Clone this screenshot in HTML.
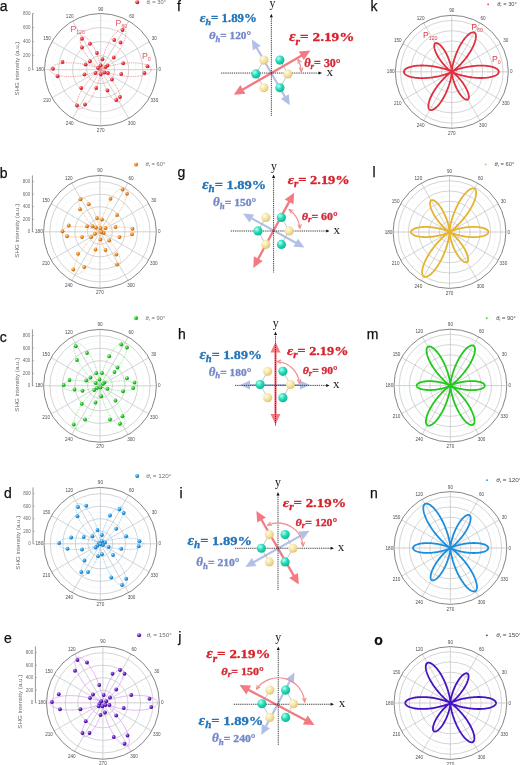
<!DOCTYPE html>
<html lang="en">
<head>
<meta charset="utf-8">
<title>Strain-dependent SHG polar plots</title>
<style>
html,body{margin:0;padding:0;background:#fff;}
body{width:520px;height:765px;overflow:hidden;}
svg{display:block;}
text{white-space:pre;}
</style>
</head>
<body>
<svg width="520" height="765" viewBox="0 0 520 765">
<defs>
<radialGradient id="ga" cx="0.36" cy="0.32" r="0.75"><stop offset="0" stop-color="#ffb0b0"/><stop offset="0.45" stop-color="#e63a40"/><stop offset="1" stop-color="#b81822"/></radialGradient>
<radialGradient id="gb" cx="0.36" cy="0.32" r="0.75"><stop offset="0" stop-color="#ffd9a8"/><stop offset="0.45" stop-color="#f08c28"/><stop offset="1" stop-color="#a85c10"/></radialGradient>
<radialGradient id="gc" cx="0.36" cy="0.32" r="0.75"><stop offset="0" stop-color="#b8ffb0"/><stop offset="0.45" stop-color="#2ac82a"/><stop offset="1" stop-color="#128a16"/></radialGradient>
<radialGradient id="gd" cx="0.36" cy="0.32" r="0.75"><stop offset="0" stop-color="#b4e2ff"/><stop offset="0.45" stop-color="#2a9ae2"/><stop offset="1" stop-color="#1468ac"/></radialGradient>
<radialGradient id="ge" cx="0.36" cy="0.32" r="0.75"><stop offset="0" stop-color="#c8a2ff"/><stop offset="0.45" stop-color="#6c22cc"/><stop offset="1" stop-color="#2a0878"/></radialGradient>
<radialGradient id="gT" cx="0.36" cy="0.32" r="0.8"><stop offset="0" stop-color="#b8fff0"/><stop offset="0.45" stop-color="#22dcb8"/><stop offset="1" stop-color="#0ea890"/></radialGradient>
<radialGradient id="gK" cx="0.36" cy="0.32" r="0.8"><stop offset="0" stop-color="#fffbe6"/><stop offset="0.5" stop-color="#f4e2a0"/><stop offset="1" stop-color="#d8bc70"/></radialGradient>
</defs>
<rect x="0" y="0" width="520" height="765" fill="#ffffff"/>
<g id="panel-a">
<circle cx="100.7" cy="69.7" r="7.03" fill="none" stroke="#d4e6f6" stroke-width="0.5" stroke-dasharray="1 0.7"/>
<circle cx="100.7" cy="69.7" r="14.05" fill="none" stroke="#bdbdbd" stroke-width="0.65"/>
<circle cx="100.7" cy="69.7" r="21.07" fill="none" stroke="#d4e6f6" stroke-width="0.5" stroke-dasharray="1 0.7"/>
<circle cx="100.7" cy="69.7" r="28.1" fill="none" stroke="#bdbdbd" stroke-width="0.65"/>
<circle cx="100.7" cy="69.7" r="35.12" fill="none" stroke="#d4e6f6" stroke-width="0.5" stroke-dasharray="1 0.7"/>
<circle cx="100.7" cy="69.7" r="42.15" fill="none" stroke="#bdbdbd" stroke-width="0.65"/>
<circle cx="100.7" cy="69.7" r="49.17" fill="none" stroke="#d4e6f6" stroke-width="0.5" stroke-dasharray="1 0.7"/>
<line x1="100.7" y1="69.7" x2="156.9" y2="69.7" stroke="#bdbdbd" stroke-width="0.65"/>
<line x1="100.7" y1="69.7" x2="149.37" y2="41.6" stroke="#bdbdbd" stroke-width="0.65"/>
<line x1="100.7" y1="69.7" x2="128.8" y2="21.03" stroke="#bdbdbd" stroke-width="0.65"/>
<line x1="100.7" y1="69.7" x2="100.7" y2="13.5" stroke="#bdbdbd" stroke-width="0.65"/>
<line x1="100.7" y1="69.7" x2="72.6" y2="21.03" stroke="#bdbdbd" stroke-width="0.65"/>
<line x1="100.7" y1="69.7" x2="52.03" y2="41.6" stroke="#bdbdbd" stroke-width="0.65"/>
<line x1="100.7" y1="69.7" x2="44.5" y2="69.7" stroke="#bdbdbd" stroke-width="0.65"/>
<line x1="100.7" y1="69.7" x2="52.03" y2="97.8" stroke="#bdbdbd" stroke-width="0.65"/>
<line x1="100.7" y1="69.7" x2="72.6" y2="118.37" stroke="#bdbdbd" stroke-width="0.65"/>
<line x1="100.7" y1="69.7" x2="100.7" y2="125.9" stroke="#bdbdbd" stroke-width="0.65"/>
<line x1="100.7" y1="69.7" x2="128.8" y2="118.37" stroke="#bdbdbd" stroke-width="0.65"/>
<line x1="100.7" y1="69.7" x2="149.37" y2="97.8" stroke="#bdbdbd" stroke-width="0.65"/>
<line x1="100.7" y1="69.7" x2="156.9" y2="69.7" stroke="#f6c4c6" stroke-width="0.6" stroke-dasharray="1 1" opacity="0.6"/>
<line x1="100.7" y1="69.7" x2="128.8" y2="21.03" stroke="#f6c4c6" stroke-width="0.6" stroke-dasharray="1 1" opacity="0.6"/>
<line x1="100.7" y1="69.7" x2="72.6" y2="21.03" stroke="#f6c4c6" stroke-width="0.6" stroke-dasharray="1 1" opacity="0.6"/>
<line x1="100.7" y1="69.7" x2="44.5" y2="69.7" stroke="#f6c4c6" stroke-width="0.6" stroke-dasharray="1 1" opacity="0.6"/>
<line x1="100.7" y1="69.7" x2="72.6" y2="118.37" stroke="#f6c4c6" stroke-width="0.6" stroke-dasharray="1 1" opacity="0.6"/>
<line x1="100.7" y1="69.7" x2="128.8" y2="118.37" stroke="#f6c4c6" stroke-width="0.6" stroke-dasharray="1 1" opacity="0.6"/>
<line x1="100.7" y1="69.7" x2="149.37" y2="41.6" stroke="#d4e6f6" stroke-width="0.5" opacity="0.45"/>
<line x1="100.7" y1="69.7" x2="100.7" y2="13.5" stroke="#d4e6f6" stroke-width="0.5" opacity="0.45"/>
<line x1="100.7" y1="69.7" x2="52.03" y2="41.6" stroke="#d4e6f6" stroke-width="0.5" opacity="0.45"/>
<line x1="100.7" y1="69.7" x2="52.03" y2="97.8" stroke="#d4e6f6" stroke-width="0.5" opacity="0.45"/>
<line x1="100.7" y1="69.7" x2="100.7" y2="125.9" stroke="#d4e6f6" stroke-width="0.5" opacity="0.45"/>
<line x1="100.7" y1="69.7" x2="149.37" y2="97.8" stroke="#d4e6f6" stroke-width="0.5" opacity="0.45"/>
<circle cx="100.7" cy="69.7" r="56.2" fill="none" stroke="#868686" stroke-width="1"/>
<text x="159.9" y="71.36" font-family='"Liberation Sans", sans-serif' font-size="4.6" fill="#4c4c4c" text-anchor="middle">0</text>
<text x="154.39" y="40.36" font-family='"Liberation Sans", sans-serif' font-size="4.6" fill="#4c4c4c" text-anchor="middle">30</text>
<text x="131.7" y="17.66" font-family='"Liberation Sans", sans-serif' font-size="4.6" fill="#4c4c4c" text-anchor="middle">60</text>
<text x="100.7" y="10.56" font-family='"Liberation Sans", sans-serif' font-size="4.6" fill="#4c4c4c" text-anchor="middle">90</text>
<text x="69.7" y="17.66" font-family='"Liberation Sans", sans-serif' font-size="4.6" fill="#4c4c4c" text-anchor="middle">120</text>
<text x="47.01" y="40.36" font-family='"Liberation Sans", sans-serif' font-size="4.6" fill="#4c4c4c" text-anchor="middle">150</text>
<text x="39.9" y="71.36" font-family='"Liberation Sans", sans-serif' font-size="4.6" fill="#4c4c4c" text-anchor="middle">180</text>
<text x="47.01" y="102.36" font-family='"Liberation Sans", sans-serif' font-size="4.6" fill="#4c4c4c" text-anchor="middle">210</text>
<text x="69.7" y="125.05" font-family='"Liberation Sans", sans-serif' font-size="4.6" fill="#4c4c4c" text-anchor="middle">240</text>
<text x="100.7" y="132.16" font-family='"Liberation Sans", sans-serif' font-size="4.6" fill="#4c4c4c" text-anchor="middle">270</text>
<text x="131.7" y="125.05" font-family='"Liberation Sans", sans-serif' font-size="4.6" fill="#4c4c4c" text-anchor="middle">300</text>
<text x="154.39" y="102.36" font-family='"Liberation Sans", sans-serif' font-size="4.6" fill="#4c4c4c" text-anchor="middle">330</text>
<path d="M151.25 69.7 L151.1 68.82 L150.67 67.96 L149.95 67.12 L148.95 66.33 L147.68 65.59 L146.17 64.92 L144.43 64.33 L142.48 63.83 L140.34 63.42 L138.04 63.12 L135.6 62.92 L133.06 62.82 L130.45 62.83 L127.79 62.95 L125.11 63.16 L122.46 63.46 L119.85 63.85 L117.31 64.3 L114.88 64.82 L112.58 65.38 L110.43 65.97 L108.45 66.57 L106.68 67.16 L105.11 67.74 L103.77 68.27 L102.66 68.74 L101.8 69.14 L101.19 69.44 L100.82 69.63 L100.7 69.7 L100.81 69.63 L101.14 69.43 L101.67 69.07 L102.39 68.56 L103.29 67.89 L104.34 67.06 L105.53 66.06 L106.84 64.9 L108.25 63.59 L109.72 62.13 L111.25 60.53 L112.8 58.81 L114.35 56.97 L115.88 55.04 L117.36 53.04 L118.78 50.98 L120.11 48.89 L121.34 46.78 L122.44 44.69 L123.42 42.63 L124.24 40.63 L124.91 38.71 L125.41 36.9 L125.75 35.22 L125.92 33.69 L125.91 32.33 L125.73 31.15 L125.4 30.18 L124.9 29.42 L124.26 28.89 L123.48 28.6 L122.58 28.55 L121.57 28.74 L120.46 29.18 L119.28 29.86 L118.03 30.77 L116.75 31.9 L115.43 33.24 L114.11 34.78 L112.79 36.49 L111.49 38.36 L110.23 40.37 L109.02 42.49 L107.87 44.69 L106.8 46.94 L105.8 49.23 L104.9 51.52 L104.08 53.78 L103.37 55.98 L102.75 58.1 L102.22 60.11 L101.78 61.98 L101.44 63.69 L101.17 65.23 L100.98 66.56 L100.84 67.67 L100.76 68.55 L100.72 69.19 L100.7 69.57 L100.7 69.7 L100.7 69.59 L100.69 69.28 L100.65 68.76 L100.58 68.05 L100.48 67.14 L100.32 66.06 L100.1 64.81 L99.82 63.41 L99.46 61.89 L99.03 60.25 L98.53 58.53 L97.94 56.73 L97.28 54.89 L96.54 53.03 L95.73 51.17 L94.86 49.33 L93.92 47.54 L92.94 45.82 L91.91 44.18 L90.86 42.66 L89.78 41.26 L88.7 40.01 L87.63 38.92 L86.58 38 L85.57 37.26 L84.61 36.71 L83.71 36.35 L82.88 36.19 L82.15 36.23 L81.52 36.47 L80.99 36.9 L80.59 37.52 L80.31 38.31 L80.17 39.27 L80.17 40.38 L80.3 41.62 L80.57 42.99 L80.99 44.47 L81.53 46.03 L82.2 47.66 L82.99 49.33 L83.9 51.04 L84.9 52.75 L85.98 54.46 L87.13 56.13 L88.34 57.77 L89.59 59.34 L90.85 60.83 L92.11 62.23 L93.35 63.53 L94.55 64.72 L95.7 65.79 L96.76 66.73 L97.74 67.55 L98.59 68.23 L99.32 68.77 L99.91 69.19 L100.34 69.48 L100.61 69.65 L100.7 69.7 L100.58 69.63 L100.21 69.44 L99.6 69.14 L98.73 68.74 L97.62 68.27 L96.28 67.73 L94.71 67.16 L92.93 66.56 L90.95 65.96 L88.8 65.37 L86.49 64.81 L84.06 64.29 L81.52 63.84 L78.9 63.45 L76.24 63.15 L73.56 62.93 L70.89 62.82 L68.27 62.81 L65.73 62.9 L63.29 63.1 L60.98 63.41 L58.84 63.82 L56.88 64.32 L55.14 64.91 L53.62 65.58 L52.36 66.32 L51.36 67.11 L50.63 67.95 L50.2 68.82 L50.05 69.7 L50.2 70.58 L50.63 71.45 L51.36 72.29 L52.36 73.08 L53.62 73.82 L55.14 74.49 L56.88 75.08 L58.84 75.58 L60.98 75.99 L63.29 76.3 L65.73 76.5 L68.27 76.59 L70.89 76.58 L73.56 76.47 L76.24 76.25 L78.9 75.95 L81.52 75.56 L84.06 75.11 L86.49 74.59 L88.8 74.03 L90.95 73.44 L92.93 72.84 L94.71 72.24 L96.28 71.67 L97.62 71.13 L98.73 70.66 L99.6 70.26 L100.21 69.96 L100.58 69.77 L100.7 69.7 L100.59 69.76 L100.28 69.96 L99.77 70.3 L99.08 70.79 L98.23 71.43 L97.22 72.23 L96.08 73.18 L94.82 74.29 L93.48 75.55 L92.07 76.94 L90.61 78.47 L89.13 80.12 L87.64 81.88 L86.18 83.72 L84.76 85.64 L83.41 87.61 L82.13 89.61 L80.96 91.63 L79.9 93.63 L78.97 95.6 L78.18 97.51 L77.54 99.35 L77.05 101.08 L76.73 102.69 L76.57 104.15 L76.58 105.46 L76.75 106.58 L77.07 107.51 L77.55 108.24 L78.16 108.74 L78.9 109.02 L79.77 109.07 L80.73 108.88 L81.79 108.47 L82.92 107.82 L84.11 106.95 L85.35 105.87 L86.61 104.58 L87.87 103.11 L89.14 101.47 L90.38 99.68 L91.58 97.76 L92.74 95.74 L93.84 93.63 L94.87 91.47 L95.82 89.28 L96.68 87.1 L97.46 84.93 L98.15 82.83 L98.74 80.8 L99.25 78.88 L99.66 77.09 L99.99 75.45 L100.25 73.98 L100.44 72.71 L100.56 71.64 L100.64 70.8 L100.68 70.19 L100.7 69.82 L100.7 69.7 L100.7 69.8 L100.71 70.11 L100.75 70.61 L100.81 71.3 L100.92 72.18 L101.07 73.23 L101.28 74.43 L101.55 75.78 L101.9 77.26 L102.31 78.84 L102.8 80.51 L103.37 82.25 L104.01 84.03 L104.72 85.83 L105.51 87.63 L106.35 89.41 L107.26 91.15 L108.21 92.81 L109.2 94.39 L110.22 95.87 L111.26 97.22 L112.31 98.43 L113.35 99.49 L114.36 100.38 L115.34 101.1 L116.27 101.63 L117.14 101.97 L117.94 102.13 L118.65 102.09 L119.27 101.86 L119.77 101.44 L120.16 100.85 L120.43 100.08 L120.57 99.15 L120.57 98.08 L120.44 96.87 L120.18 95.55 L119.78 94.12 L119.25 92.61 L118.6 91.03 L117.83 89.41 L116.96 87.76 L115.99 86.1 L114.94 84.45 L113.83 82.83 L112.66 81.25 L111.45 79.73 L110.23 78.28 L109.01 76.93 L107.81 75.67 L106.65 74.52 L105.54 73.48 L104.51 72.57 L103.57 71.78 L102.74 71.13 L102.03 70.6 L101.46 70.19 L101.04 69.91 L100.79 69.75 L100.7 69.7 L100.82 69.77 L101.19 69.96 L101.8 70.26 L102.66 70.66 L103.77 71.13 L105.11 71.66 L106.68 72.24 L108.45 72.83 L110.43 73.43 L112.58 74.02 L114.88 74.58 L117.31 75.1 L119.85 75.55 L122.46 75.94 L125.11 76.24 L127.79 76.45 L130.45 76.57 L133.06 76.58 L135.6 76.48 L138.04 76.28 L140.34 75.98 L142.48 75.57 L144.43 75.07 L146.17 74.48 L147.68 73.81 L148.95 73.07 L149.95 72.28 L150.67 71.44 L151.1 70.58 L151.25 69.7Z" fill="none" stroke="#ea5a5e" stroke-width="0.7" stroke-dasharray="1 0.8" opacity="0.85"/>
<circle cx="147.5" cy="66.25" r="1.9" fill="url(#ga)"/>
<circle cx="144.5" cy="73" r="1.9" fill="url(#ga)"/>
<circle cx="123.25" cy="63.25" r="1.9" fill="url(#ga)"/>
<circle cx="121.25" cy="74" r="1.9" fill="url(#ga)"/>
<circle cx="107.5" cy="65.5" r="1.9" fill="url(#ga)"/>
<circle cx="108" cy="73" r="1.9" fill="url(#ga)"/>
<circle cx="100.75" cy="65.5" r="1.9" fill="url(#ga)"/>
<circle cx="98" cy="68" r="1.9" fill="url(#ga)"/>
<circle cx="105.5" cy="67" r="1.9" fill="url(#ga)"/>
<circle cx="95.5" cy="73" r="1.9" fill="url(#ga)"/>
<circle cx="100.75" cy="74.25" r="1.9" fill="url(#ga)"/>
<circle cx="104.5" cy="72.5" r="1.9" fill="url(#ga)"/>
<circle cx="122.5" cy="30" r="1.9" fill="url(#ga)"/>
<circle cx="120.5" cy="42.5" r="1.9" fill="url(#ga)"/>
<circle cx="114.25" cy="40" r="1.9" fill="url(#ga)"/>
<circle cx="113.75" cy="57.5" r="1.9" fill="url(#ga)"/>
<circle cx="102.5" cy="59.25" r="1.9" fill="url(#ga)"/>
<circle cx="82" cy="38.75" r="1.9" fill="url(#ga)"/>
<circle cx="82" cy="47.5" r="1.9" fill="url(#ga)"/>
<circle cx="90" cy="43.75" r="1.9" fill="url(#ga)"/>
<circle cx="97" cy="53" r="1.9" fill="url(#ga)"/>
<circle cx="90" cy="61.25" r="1.9" fill="url(#ga)"/>
<circle cx="53" cy="68.75" r="1.9" fill="url(#ga)"/>
<circle cx="57.5" cy="76.25" r="1.9" fill="url(#ga)"/>
<circle cx="62.5" cy="62" r="1.9" fill="url(#ga)"/>
<circle cx="85.5" cy="64.5" r="1.9" fill="url(#ga)"/>
<circle cx="84.5" cy="74.5" r="1.9" fill="url(#ga)"/>
<circle cx="77" cy="105.5" r="1.9" fill="url(#ga)"/>
<circle cx="85" cy="104.5" r="1.9" fill="url(#ga)"/>
<circle cx="81.25" cy="88" r="1.9" fill="url(#ga)"/>
<circle cx="96.25" cy="88" r="1.9" fill="url(#ga)"/>
<circle cx="116.25" cy="100" r="1.9" fill="url(#ga)"/>
<circle cx="120" cy="97" r="1.9" fill="url(#ga)"/>
<circle cx="107.5" cy="90.5" r="1.9" fill="url(#ga)"/>
<circle cx="112" cy="79.5" r="1.9" fill="url(#ga)"/>
<line x1="32.6" y1="13.5" x2="32.6" y2="70" stroke="#8a8a8a" stroke-width="0.9"/>
<line x1="32.6" y1="69.7" x2="34.2" y2="69.7" stroke="#8a8a8a" stroke-width="0.6"/>
<text x="30.4" y="71.3" font-family='"Liberation Sans", sans-serif' font-size="4.5" fill="#6a6a6a" text-anchor="end">0</text>
<line x1="32.6" y1="55.65" x2="34.2" y2="55.65" stroke="#8a8a8a" stroke-width="0.6"/>
<text x="30.4" y="57.25" font-family='"Liberation Sans", sans-serif' font-size="4.5" fill="#6a6a6a" text-anchor="end">200</text>
<line x1="32.6" y1="41.6" x2="34.2" y2="41.6" stroke="#8a8a8a" stroke-width="0.6"/>
<text x="30.4" y="43.2" font-family='"Liberation Sans", sans-serif' font-size="4.5" fill="#6a6a6a" text-anchor="end">400</text>
<line x1="32.6" y1="27.55" x2="34.2" y2="27.55" stroke="#8a8a8a" stroke-width="0.6"/>
<text x="30.4" y="29.15" font-family='"Liberation Sans", sans-serif' font-size="4.5" fill="#6a6a6a" text-anchor="end">600</text>
<line x1="32.6" y1="13.5" x2="34.2" y2="13.5" stroke="#8a8a8a" stroke-width="0.6"/>
<text x="30.4" y="15.1" font-family='"Liberation Sans", sans-serif' font-size="4.5" fill="#6a6a6a" text-anchor="end">800</text>
<text transform="translate(19.2 68.58) rotate(-90)" font-family='"Liberation Sans", sans-serif' font-size="5.8" fill="#6a6a6a" text-anchor="middle" textLength="54" lengthAdjust="spacingAndGlyphs">SHG intensity (a.u.)</text>
<circle cx="137.3" cy="2.2" r="2" fill="url(#ga)"/>
<text x="146.4" y="4.18" font-family='"Liberation Sans", sans-serif' font-size="5.5" fill="#707070" textLength="19.6" lengthAdjust="spacingAndGlyphs"><tspan font-style="italic">θ</tspan><tspan font-size="3.3" dy="1">r</tspan><tspan dy="-1"> = 30°</tspan></text>
<text x="-0.3" y="11" font-family='"Liberation Sans", sans-serif' font-size="14" fill="#111" stroke="#111" stroke-width="0.25">a</text>
</g>
<g id="panel-b">
<circle cx="99.9" cy="231.8" r="6.27" fill="none" stroke="#d4e6f6" stroke-width="0.5" stroke-dasharray="1 0.7"/>
<circle cx="99.9" cy="231.8" r="12.53" fill="none" stroke="#bdbdbd" stroke-width="0.65"/>
<circle cx="99.9" cy="231.8" r="18.8" fill="none" stroke="#d4e6f6" stroke-width="0.5" stroke-dasharray="1 0.7"/>
<circle cx="99.9" cy="231.8" r="25.07" fill="none" stroke="#bdbdbd" stroke-width="0.65"/>
<circle cx="99.9" cy="231.8" r="31.33" fill="none" stroke="#d4e6f6" stroke-width="0.5" stroke-dasharray="1 0.7"/>
<circle cx="99.9" cy="231.8" r="37.6" fill="none" stroke="#bdbdbd" stroke-width="0.65"/>
<circle cx="99.9" cy="231.8" r="43.87" fill="none" stroke="#d4e6f6" stroke-width="0.5" stroke-dasharray="1 0.7"/>
<circle cx="99.9" cy="231.8" r="50.13" fill="none" stroke="#bdbdbd" stroke-width="0.65"/>
<line x1="99.9" y1="231.8" x2="156.3" y2="231.8" stroke="#bdbdbd" stroke-width="0.65"/>
<line x1="99.9" y1="231.8" x2="148.74" y2="203.6" stroke="#bdbdbd" stroke-width="0.65"/>
<line x1="99.9" y1="231.8" x2="128.1" y2="182.96" stroke="#bdbdbd" stroke-width="0.65"/>
<line x1="99.9" y1="231.8" x2="99.9" y2="175.4" stroke="#bdbdbd" stroke-width="0.65"/>
<line x1="99.9" y1="231.8" x2="71.7" y2="182.96" stroke="#bdbdbd" stroke-width="0.65"/>
<line x1="99.9" y1="231.8" x2="51.06" y2="203.6" stroke="#bdbdbd" stroke-width="0.65"/>
<line x1="99.9" y1="231.8" x2="43.5" y2="231.8" stroke="#bdbdbd" stroke-width="0.65"/>
<line x1="99.9" y1="231.8" x2="51.06" y2="260" stroke="#bdbdbd" stroke-width="0.65"/>
<line x1="99.9" y1="231.8" x2="71.7" y2="280.64" stroke="#bdbdbd" stroke-width="0.65"/>
<line x1="99.9" y1="231.8" x2="99.9" y2="288.2" stroke="#bdbdbd" stroke-width="0.65"/>
<line x1="99.9" y1="231.8" x2="128.1" y2="280.64" stroke="#bdbdbd" stroke-width="0.65"/>
<line x1="99.9" y1="231.8" x2="148.74" y2="260" stroke="#bdbdbd" stroke-width="0.65"/>
<line x1="99.9" y1="231.8" x2="156.3" y2="231.8" stroke="#f9dcbc" stroke-width="0.6" stroke-dasharray="1 1" opacity="0.6"/>
<line x1="99.9" y1="231.8" x2="128.1" y2="182.96" stroke="#f9dcbc" stroke-width="0.6" stroke-dasharray="1 1" opacity="0.6"/>
<line x1="99.9" y1="231.8" x2="71.7" y2="182.96" stroke="#f9dcbc" stroke-width="0.6" stroke-dasharray="1 1" opacity="0.6"/>
<line x1="99.9" y1="231.8" x2="43.5" y2="231.8" stroke="#f9dcbc" stroke-width="0.6" stroke-dasharray="1 1" opacity="0.6"/>
<line x1="99.9" y1="231.8" x2="71.7" y2="280.64" stroke="#f9dcbc" stroke-width="0.6" stroke-dasharray="1 1" opacity="0.6"/>
<line x1="99.9" y1="231.8" x2="128.1" y2="280.64" stroke="#f9dcbc" stroke-width="0.6" stroke-dasharray="1 1" opacity="0.6"/>
<line x1="99.9" y1="231.8" x2="148.74" y2="203.6" stroke="#d4e6f6" stroke-width="0.5" opacity="0.45"/>
<line x1="99.9" y1="231.8" x2="99.9" y2="175.4" stroke="#d4e6f6" stroke-width="0.5" opacity="0.45"/>
<line x1="99.9" y1="231.8" x2="51.06" y2="203.6" stroke="#d4e6f6" stroke-width="0.5" opacity="0.45"/>
<line x1="99.9" y1="231.8" x2="51.06" y2="260" stroke="#d4e6f6" stroke-width="0.5" opacity="0.45"/>
<line x1="99.9" y1="231.8" x2="99.9" y2="288.2" stroke="#d4e6f6" stroke-width="0.5" opacity="0.45"/>
<line x1="99.9" y1="231.8" x2="148.74" y2="260" stroke="#d4e6f6" stroke-width="0.5" opacity="0.45"/>
<circle cx="99.9" cy="231.8" r="56.4" fill="none" stroke="#868686" stroke-width="1"/>
<text x="159.3" y="233.46" font-family='"Liberation Sans", sans-serif' font-size="4.6" fill="#4c4c4c" text-anchor="middle">0</text>
<text x="153.77" y="202.36" font-family='"Liberation Sans", sans-serif' font-size="4.6" fill="#4c4c4c" text-anchor="middle">30</text>
<text x="131" y="179.59" font-family='"Liberation Sans", sans-serif' font-size="4.6" fill="#4c4c4c" text-anchor="middle">60</text>
<text x="99.9" y="172.46" font-family='"Liberation Sans", sans-serif' font-size="4.6" fill="#4c4c4c" text-anchor="middle">90</text>
<text x="68.8" y="179.59" font-family='"Liberation Sans", sans-serif' font-size="4.6" fill="#4c4c4c" text-anchor="middle">120</text>
<text x="46.03" y="202.36" font-family='"Liberation Sans", sans-serif' font-size="4.6" fill="#4c4c4c" text-anchor="middle">150</text>
<text x="38.9" y="233.46" font-family='"Liberation Sans", sans-serif' font-size="4.6" fill="#4c4c4c" text-anchor="middle">180</text>
<text x="46.03" y="264.56" font-family='"Liberation Sans", sans-serif' font-size="4.6" fill="#4c4c4c" text-anchor="middle">210</text>
<text x="68.8" y="287.32" font-family='"Liberation Sans", sans-serif' font-size="4.6" fill="#4c4c4c" text-anchor="middle">240</text>
<text x="99.9" y="294.46" font-family='"Liberation Sans", sans-serif' font-size="4.6" fill="#4c4c4c" text-anchor="middle">270</text>
<text x="131" y="287.32" font-family='"Liberation Sans", sans-serif' font-size="4.6" fill="#4c4c4c" text-anchor="middle">300</text>
<text x="153.77" y="264.56" font-family='"Liberation Sans", sans-serif' font-size="4.6" fill="#4c4c4c" text-anchor="middle">330</text>
<path d="M135 231.8 L134.9 231.19 L134.6 230.59 L134.09 230.01 L133.4 229.46 L132.52 228.95 L131.47 228.48 L130.26 228.07 L128.91 227.72 L127.42 227.44 L125.83 227.23 L124.13 227.09 L122.37 227.02 L120.56 227.03 L118.71 227.11 L116.85 227.26 L115.01 227.47 L113.19 227.74 L111.43 228.05 L109.74 228.41 L108.15 228.8 L106.65 229.21 L105.28 229.62 L104.05 230.04 L102.96 230.44 L102.03 230.81 L101.26 231.13 L100.67 231.41 L100.24 231.62 L99.98 231.75 L99.9 231.8 L100.02 231.73 L100.37 231.51 L100.94 231.12 L101.72 230.57 L102.68 229.85 L103.82 228.95 L105.1 227.88 L106.51 226.63 L108.03 225.22 L109.61 223.65 L111.26 221.93 L112.92 220.07 L114.59 218.1 L116.24 216.02 L117.83 213.87 L119.36 211.65 L120.79 209.39 L122.12 207.13 L123.31 204.87 L124.35 202.66 L125.24 200.5 L125.96 198.44 L126.51 196.49 L126.87 194.68 L127.05 193.03 L127.04 191.56 L126.85 190.3 L126.49 189.25 L125.95 188.44 L125.26 187.87 L124.43 187.55 L123.45 187.5 L122.37 187.71 L121.18 188.18 L119.9 188.91 L118.56 189.88 L117.18 191.1 L115.76 192.55 L114.33 194.2 L112.91 196.05 L111.52 198.06 L110.16 200.22 L108.86 202.5 L107.62 204.87 L106.46 207.3 L105.39 209.76 L104.42 212.22 L103.54 214.66 L102.77 217.03 L102.1 219.31 L101.54 221.47 L101.07 223.49 L100.69 225.33 L100.41 226.98 L100.2 228.41 L100.05 229.61 L99.96 230.56 L99.92 231.25 L99.9 231.66 L99.9 231.8 L99.9 231.69 L99.88 231.37 L99.85 230.83 L99.78 230.1 L99.67 229.16 L99.51 228.05 L99.28 226.76 L98.99 225.32 L98.63 223.75 L98.18 222.07 L97.66 220.29 L97.06 218.44 L96.38 216.55 L95.62 214.63 L94.78 212.71 L93.88 210.82 L92.92 208.97 L91.91 207.2 L90.85 205.51 L89.76 203.94 L88.65 202.5 L87.54 201.21 L86.44 200.09 L85.36 199.14 L84.31 198.38 L83.32 197.81 L82.39 197.44 L81.55 197.28 L80.79 197.32 L80.14 197.57 L79.6 198.01 L79.18 198.65 L78.9 199.46 L78.75 200.45 L78.75 201.59 L78.89 202.88 L79.17 204.29 L79.59 205.81 L80.15 207.41 L80.84 209.09 L81.66 210.82 L82.59 212.57 L83.62 214.34 L84.74 216.1 L85.93 217.83 L87.17 219.51 L88.45 221.12 L89.75 222.66 L91.05 224.11 L92.33 225.45 L93.57 226.67 L94.75 227.77 L95.85 228.74 L96.85 229.58 L97.73 230.28 L98.48 230.84 L99.09 231.27 L99.53 231.57 L99.81 231.74 L99.9 231.8 L99.81 231.75 L99.53 231.6 L99.06 231.37 L98.41 231.07 L97.57 230.71 L96.55 230.31 L95.36 229.87 L94.01 229.42 L92.51 228.96 L90.88 228.52 L89.13 228.09 L87.28 227.7 L85.36 227.35 L83.37 227.06 L81.35 226.83 L79.32 226.67 L77.3 226.58 L75.32 226.57 L73.39 226.65 L71.54 226.8 L69.79 227.03 L68.16 227.34 L66.68 227.72 L65.36 228.17 L64.21 228.68 L63.25 229.24 L62.49 229.84 L61.94 230.47 L61.61 231.13 L61.5 231.8 L61.61 232.47 L61.94 233.13 L62.49 233.76 L63.25 234.36 L64.21 234.92 L65.36 235.43 L66.68 235.88 L68.16 236.26 L69.79 236.57 L71.54 236.8 L73.39 236.95 L75.32 237.03 L77.3 237.02 L79.32 236.93 L81.35 236.77 L83.37 236.54 L85.36 236.25 L87.28 235.9 L89.13 235.51 L90.88 235.08 L92.51 234.64 L94.01 234.18 L95.36 233.73 L96.55 233.29 L97.57 232.89 L98.41 232.53 L99.06 232.23 L99.53 232 L99.81 231.85 L99.9 231.8 L99.79 231.87 L99.45 232.08 L98.91 232.44 L98.17 232.97 L97.25 233.66 L96.16 234.52 L94.94 235.54 L93.59 236.73 L92.15 238.07 L90.64 239.57 L89.07 241.21 L87.48 242.98 L85.89 244.87 L84.32 246.85 L82.8 248.9 L81.34 251.02 L79.98 253.17 L78.71 255.33 L77.58 257.48 L76.58 259.59 L75.73 261.64 L75.05 263.61 L74.53 265.47 L74.18 267.2 L74.01 268.77 L74.02 270.17 L74.2 271.38 L74.55 272.37 L75.05 273.15 L75.71 273.69 L76.51 273.99 L77.44 274.04 L78.48 273.85 L79.61 273.4 L80.83 272.7 L82.1 271.77 L83.43 270.61 L84.78 269.23 L86.14 267.65 L87.49 265.89 L88.82 263.97 L90.12 261.91 L91.36 259.74 L92.54 257.48 L93.64 255.16 L94.66 252.82 L95.59 250.47 L96.43 248.15 L97.16 245.89 L97.8 243.71 L98.34 241.65 L98.79 239.72 L99.14 237.97 L99.42 236.39 L99.62 235.03 L99.75 233.89 L99.84 232.98 L99.88 232.33 L99.9 231.93 L99.9 231.8 L99.9 231.91 L99.91 232.22 L99.95 232.74 L100.02 233.46 L100.12 234.37 L100.28 235.45 L100.5 236.7 L100.79 238.1 L101.14 239.63 L101.57 241.27 L102.08 243 L102.66 244.8 L103.33 246.65 L104.07 248.51 L104.88 250.38 L105.76 252.22 L106.69 254.02 L107.68 255.75 L108.71 257.39 L109.77 258.91 L110.85 260.31 L111.93 261.57 L113 262.67 L114.05 263.59 L115.07 264.33 L116.04 264.88 L116.94 265.24 L117.76 265.4 L118.5 265.36 L119.14 265.12 L119.66 264.69 L120.06 264.07 L120.34 263.28 L120.48 262.32 L120.49 261.2 L120.35 259.95 L120.08 258.58 L119.67 257.1 L119.12 255.54 L118.45 253.9 L117.65 252.22 L116.75 250.51 L115.75 248.79 L114.66 247.08 L113.5 245.4 L112.29 243.77 L111.04 242.19 L109.78 240.69 L108.51 239.29 L107.27 237.98 L106.06 236.79 L104.92 235.72 L103.85 234.77 L102.87 233.96 L102.01 233.28 L101.28 232.73 L100.69 232.31 L100.26 232.02 L99.99 231.85 L99.9 231.8 L99.98 231.85 L100.24 231.98 L100.67 232.19 L101.26 232.47 L102.03 232.79 L102.96 233.16 L104.05 233.56 L105.28 233.98 L106.65 234.39 L108.15 234.8 L109.74 235.19 L111.43 235.55 L113.19 235.86 L115.01 236.13 L116.85 236.34 L118.71 236.49 L120.56 236.57 L122.37 236.58 L124.13 236.51 L125.83 236.37 L127.42 236.16 L128.91 235.88 L130.26 235.53 L131.47 235.12 L132.52 234.65 L133.4 234.14 L134.09 233.59 L134.6 233.01 L134.9 232.41 L135 231.8Z" fill="none" stroke="#f2a04a" stroke-width="0.7" stroke-dasharray="1 0.8" opacity="0.85"/>
<circle cx="132.5" cy="228.75" r="1.9" fill="url(#gb)"/>
<circle cx="132" cy="234.25" r="1.9" fill="url(#gb)"/>
<circle cx="115.5" cy="227" r="1.9" fill="url(#gb)"/>
<circle cx="119.5" cy="237" r="1.9" fill="url(#gb)"/>
<circle cx="105.5" cy="228" r="1.9" fill="url(#gb)"/>
<circle cx="109.25" cy="240.5" r="1.9" fill="url(#gb)"/>
<circle cx="100.5" cy="228" r="1.9" fill="url(#gb)"/>
<circle cx="96" cy="227.5" r="1.9" fill="url(#gb)"/>
<circle cx="92.5" cy="226.25" r="1.9" fill="url(#gb)"/>
<circle cx="95" cy="233.75" r="1.9" fill="url(#gb)"/>
<circle cx="91.25" cy="237" r="1.9" fill="url(#gb)"/>
<circle cx="100.5" cy="239.5" r="1.9" fill="url(#gb)"/>
<circle cx="103.75" cy="233" r="1.9" fill="url(#gb)"/>
<circle cx="101.5" cy="232" r="1.9" fill="url(#gb)"/>
<circle cx="122.5" cy="189.5" r="1.9" fill="url(#gb)"/>
<circle cx="127" cy="193.75" r="1.9" fill="url(#gb)"/>
<circle cx="110.5" cy="198.75" r="1.9" fill="url(#gb)"/>
<circle cx="117" cy="215" r="1.9" fill="url(#gb)"/>
<circle cx="102" cy="219.5" r="1.9" fill="url(#gb)"/>
<circle cx="97" cy="218" r="1.9" fill="url(#gb)"/>
<circle cx="80.5" cy="199.25" r="1.9" fill="url(#gb)"/>
<circle cx="80" cy="209.25" r="1.9" fill="url(#gb)"/>
<circle cx="88.75" cy="204.25" r="1.9" fill="url(#gb)"/>
<circle cx="62.5" cy="231.25" r="1.9" fill="url(#gb)"/>
<circle cx="67" cy="236.25" r="1.9" fill="url(#gb)"/>
<circle cx="68.75" cy="225.5" r="1.9" fill="url(#gb)"/>
<circle cx="82" cy="237" r="1.9" fill="url(#gb)"/>
<circle cx="87" cy="226.25" r="1.9" fill="url(#gb)"/>
<circle cx="73.25" cy="269.5" r="1.9" fill="url(#gb)"/>
<circle cx="84.25" cy="267" r="1.9" fill="url(#gb)"/>
<circle cx="78" cy="253.75" r="1.9" fill="url(#gb)"/>
<circle cx="95.5" cy="249.5" r="1.9" fill="url(#gb)"/>
<circle cx="117" cy="264.5" r="1.9" fill="url(#gb)"/>
<circle cx="116.25" cy="254.5" r="1.9" fill="url(#gb)"/>
<circle cx="105.5" cy="250" r="1.9" fill="url(#gb)"/>
<line x1="32.4" y1="175.4" x2="32.4" y2="232.1" stroke="#8a8a8a" stroke-width="0.9"/>
<line x1="32.4" y1="231.8" x2="34" y2="231.8" stroke="#8a8a8a" stroke-width="0.6"/>
<text x="30.2" y="233.4" font-family='"Liberation Sans", sans-serif' font-size="4.5" fill="#6a6a6a" text-anchor="end">0</text>
<line x1="32.4" y1="219.27" x2="34" y2="219.27" stroke="#8a8a8a" stroke-width="0.6"/>
<text x="30.2" y="220.87" font-family='"Liberation Sans", sans-serif' font-size="4.5" fill="#6a6a6a" text-anchor="end">200</text>
<line x1="32.4" y1="206.73" x2="34" y2="206.73" stroke="#8a8a8a" stroke-width="0.6"/>
<text x="30.2" y="208.33" font-family='"Liberation Sans", sans-serif' font-size="4.5" fill="#6a6a6a" text-anchor="end">400</text>
<line x1="32.4" y1="194.2" x2="34" y2="194.2" stroke="#8a8a8a" stroke-width="0.6"/>
<text x="30.2" y="195.8" font-family='"Liberation Sans", sans-serif' font-size="4.5" fill="#6a6a6a" text-anchor="end">600</text>
<line x1="32.4" y1="181.67" x2="34" y2="181.67" stroke="#8a8a8a" stroke-width="0.6"/>
<text x="30.2" y="183.27" font-family='"Liberation Sans", sans-serif' font-size="4.5" fill="#6a6a6a" text-anchor="end">800</text>
<text transform="translate(19 230.67) rotate(-90)" font-family='"Liberation Sans", sans-serif' font-size="5.8" fill="#6a6a6a" text-anchor="middle" textLength="54" lengthAdjust="spacingAndGlyphs">SHG intensity (a.u.)</text>
<circle cx="136.1" cy="164.5" r="2" fill="url(#gb)"/>
<text x="145.6" y="166.48" font-family='"Liberation Sans", sans-serif' font-size="5.5" fill="#707070" textLength="19.6" lengthAdjust="spacingAndGlyphs"><tspan font-style="italic">θ</tspan><tspan font-size="3.3" dy="1">r</tspan><tspan dy="-1"> = 60°</tspan></text>
<text x="-0.3" y="177.6" font-family='"Liberation Sans", sans-serif' font-size="14" fill="#111" stroke="#111" stroke-width="0.25">b</text>
</g>
<g id="panel-c">
<circle cx="100" cy="385.8" r="6.27" fill="none" stroke="#d4e6f6" stroke-width="0.5" stroke-dasharray="1 0.7"/>
<circle cx="100" cy="385.8" r="12.53" fill="none" stroke="#bdbdbd" stroke-width="0.65"/>
<circle cx="100" cy="385.8" r="18.8" fill="none" stroke="#d4e6f6" stroke-width="0.5" stroke-dasharray="1 0.7"/>
<circle cx="100" cy="385.8" r="25.07" fill="none" stroke="#bdbdbd" stroke-width="0.65"/>
<circle cx="100" cy="385.8" r="31.33" fill="none" stroke="#d4e6f6" stroke-width="0.5" stroke-dasharray="1 0.7"/>
<circle cx="100" cy="385.8" r="37.6" fill="none" stroke="#bdbdbd" stroke-width="0.65"/>
<circle cx="100" cy="385.8" r="43.87" fill="none" stroke="#d4e6f6" stroke-width="0.5" stroke-dasharray="1 0.7"/>
<circle cx="100" cy="385.8" r="50.13" fill="none" stroke="#bdbdbd" stroke-width="0.65"/>
<line x1="100" y1="385.8" x2="156.4" y2="385.8" stroke="#bdbdbd" stroke-width="0.65"/>
<line x1="100" y1="385.8" x2="148.84" y2="357.6" stroke="#bdbdbd" stroke-width="0.65"/>
<line x1="100" y1="385.8" x2="128.2" y2="336.96" stroke="#bdbdbd" stroke-width="0.65"/>
<line x1="100" y1="385.8" x2="100" y2="329.4" stroke="#bdbdbd" stroke-width="0.65"/>
<line x1="100" y1="385.8" x2="71.8" y2="336.96" stroke="#bdbdbd" stroke-width="0.65"/>
<line x1="100" y1="385.8" x2="51.16" y2="357.6" stroke="#bdbdbd" stroke-width="0.65"/>
<line x1="100" y1="385.8" x2="43.6" y2="385.8" stroke="#bdbdbd" stroke-width="0.65"/>
<line x1="100" y1="385.8" x2="51.16" y2="414" stroke="#bdbdbd" stroke-width="0.65"/>
<line x1="100" y1="385.8" x2="71.8" y2="434.64" stroke="#bdbdbd" stroke-width="0.65"/>
<line x1="100" y1="385.8" x2="100" y2="442.2" stroke="#bdbdbd" stroke-width="0.65"/>
<line x1="100" y1="385.8" x2="128.2" y2="434.64" stroke="#bdbdbd" stroke-width="0.65"/>
<line x1="100" y1="385.8" x2="148.84" y2="414" stroke="#bdbdbd" stroke-width="0.65"/>
<line x1="100" y1="385.8" x2="156.4" y2="385.8" stroke="#c4f0c2" stroke-width="0.6" stroke-dasharray="1 1" opacity="0.6"/>
<line x1="100" y1="385.8" x2="128.2" y2="336.96" stroke="#c4f0c2" stroke-width="0.6" stroke-dasharray="1 1" opacity="0.6"/>
<line x1="100" y1="385.8" x2="71.8" y2="336.96" stroke="#c4f0c2" stroke-width="0.6" stroke-dasharray="1 1" opacity="0.6"/>
<line x1="100" y1="385.8" x2="43.6" y2="385.8" stroke="#c4f0c2" stroke-width="0.6" stroke-dasharray="1 1" opacity="0.6"/>
<line x1="100" y1="385.8" x2="71.8" y2="434.64" stroke="#c4f0c2" stroke-width="0.6" stroke-dasharray="1 1" opacity="0.6"/>
<line x1="100" y1="385.8" x2="128.2" y2="434.64" stroke="#c4f0c2" stroke-width="0.6" stroke-dasharray="1 1" opacity="0.6"/>
<line x1="100" y1="385.8" x2="148.84" y2="357.6" stroke="#d4e6f6" stroke-width="0.5" opacity="0.45"/>
<line x1="100" y1="385.8" x2="100" y2="329.4" stroke="#d4e6f6" stroke-width="0.5" opacity="0.45"/>
<line x1="100" y1="385.8" x2="51.16" y2="357.6" stroke="#d4e6f6" stroke-width="0.5" opacity="0.45"/>
<line x1="100" y1="385.8" x2="51.16" y2="414" stroke="#d4e6f6" stroke-width="0.5" opacity="0.45"/>
<line x1="100" y1="385.8" x2="100" y2="442.2" stroke="#d4e6f6" stroke-width="0.5" opacity="0.45"/>
<line x1="100" y1="385.8" x2="148.84" y2="414" stroke="#d4e6f6" stroke-width="0.5" opacity="0.45"/>
<circle cx="100" cy="385.8" r="56.4" fill="none" stroke="#868686" stroke-width="1"/>
<text x="159.4" y="387.46" font-family='"Liberation Sans", sans-serif' font-size="4.6" fill="#4c4c4c" text-anchor="middle">0</text>
<text x="153.87" y="356.36" font-family='"Liberation Sans", sans-serif' font-size="4.6" fill="#4c4c4c" text-anchor="middle">30</text>
<text x="131.1" y="333.59" font-family='"Liberation Sans", sans-serif' font-size="4.6" fill="#4c4c4c" text-anchor="middle">60</text>
<text x="100" y="326.46" font-family='"Liberation Sans", sans-serif' font-size="4.6" fill="#4c4c4c" text-anchor="middle">90</text>
<text x="68.9" y="333.59" font-family='"Liberation Sans", sans-serif' font-size="4.6" fill="#4c4c4c" text-anchor="middle">120</text>
<text x="46.13" y="356.36" font-family='"Liberation Sans", sans-serif' font-size="4.6" fill="#4c4c4c" text-anchor="middle">150</text>
<text x="39" y="387.46" font-family='"Liberation Sans", sans-serif' font-size="4.6" fill="#4c4c4c" text-anchor="middle">180</text>
<text x="46.13" y="418.56" font-family='"Liberation Sans", sans-serif' font-size="4.6" fill="#4c4c4c" text-anchor="middle">210</text>
<text x="68.9" y="441.32" font-family='"Liberation Sans", sans-serif' font-size="4.6" fill="#4c4c4c" text-anchor="middle">240</text>
<text x="100" y="448.46" font-family='"Liberation Sans", sans-serif' font-size="4.6" fill="#4c4c4c" text-anchor="middle">270</text>
<text x="131.1" y="441.32" font-family='"Liberation Sans", sans-serif' font-size="4.6" fill="#4c4c4c" text-anchor="middle">300</text>
<text x="153.87" y="418.56" font-family='"Liberation Sans", sans-serif' font-size="4.6" fill="#4c4c4c" text-anchor="middle">330</text>
<path d="M136.25 385.8 L136.15 385.17 L135.83 384.55 L135.31 383.95 L134.6 383.38 L133.69 382.85 L132.61 382.37 L131.36 381.95 L129.96 381.59 L128.42 381.3 L126.77 381.08 L125.03 380.93 L123.21 380.87 L121.33 380.88 L119.42 380.96 L117.51 381.11 L115.6 381.33 L113.73 381.6 L111.91 381.93 L110.17 382.3 L108.52 382.7 L106.98 383.12 L105.56 383.55 L104.29 383.98 L103.16 384.39 L102.2 384.77 L101.41 385.11 L100.79 385.4 L100.35 385.61 L100.09 385.75 L100 385.8 L100.12 385.73 L100.46 385.51 L101.03 385.13 L101.79 384.59 L102.74 383.88 L103.86 382.99 L105.13 381.94 L106.52 380.71 L108.01 379.32 L109.57 377.77 L111.19 376.07 L112.84 374.24 L114.48 372.3 L116.1 370.25 L117.68 368.12 L119.18 365.94 L120.59 363.72 L121.89 361.48 L123.07 359.26 L124.1 357.08 L124.98 354.96 L125.69 352.92 L126.22 351 L126.58 349.22 L126.75 347.59 L126.75 346.15 L126.56 344.9 L126.2 343.87 L125.68 343.06 L125 342.5 L124.17 342.19 L123.21 342.14 L122.14 342.35 L120.97 342.81 L119.71 343.53 L118.39 344.49 L117.03 345.69 L115.63 347.12 L114.22 348.75 L112.82 350.57 L111.45 352.55 L110.11 354.68 L108.83 356.93 L107.61 359.26 L106.47 361.66 L105.42 364.08 L104.45 366.51 L103.59 368.91 L102.83 371.24 L102.17 373.49 L101.61 375.62 L101.15 377.61 L100.78 379.43 L100.5 381.05 L100.29 382.46 L100.15 383.64 L100.06 384.58 L100.02 385.25 L100 385.66 L100 385.8 L100 385.67 L99.98 385.26 L99.94 384.6 L99.85 383.68 L99.71 382.52 L99.51 381.13 L99.23 379.53 L98.87 377.74 L98.41 375.79 L97.86 373.69 L97.22 371.48 L96.47 369.18 L95.62 366.82 L94.67 364.43 L93.63 362.04 L92.51 359.68 L91.31 357.39 L90.05 355.18 L88.74 353.08 L87.38 351.13 L86 349.34 L84.62 347.73 L83.25 346.33 L81.9 345.15 L80.6 344.2 L79.37 343.5 L78.21 343.04 L77.16 342.84 L76.22 342.89 L75.4 343.2 L74.73 343.75 L74.22 344.54 L73.86 345.55 L73.68 346.78 L73.67 348.2 L73.85 349.8 L74.2 351.56 L74.72 353.45 L75.42 355.45 L76.28 357.54 L77.3 359.69 L78.46 361.87 L79.74 364.07 L81.13 366.26 L82.61 368.41 L84.16 370.5 L85.75 372.51 L87.37 374.43 L88.99 376.23 L90.58 377.89 L92.12 379.42 L93.59 380.79 L94.95 382 L96.2 383.04 L97.3 383.91 L98.24 384.61 L98.99 385.14 L99.54 385.52 L99.88 385.73 L100 385.8 L99.91 385.75 L99.63 385.61 L99.17 385.38 L98.52 385.08 L97.69 384.72 L96.69 384.32 L95.51 383.89 L94.17 383.45 L92.69 382.99 L91.07 382.55 L89.34 382.13 L87.51 381.74 L85.61 381.4 L83.65 381.11 L81.65 380.88 L79.64 380.72 L77.64 380.64 L75.67 380.63 L73.76 380.7 L71.93 380.85 L70.2 381.08 L68.6 381.39 L67.13 381.76 L65.82 382.21 L64.68 382.71 L63.73 383.26 L62.98 383.86 L62.44 384.49 L62.11 385.14 L62 385.8 L62.11 386.46 L62.44 387.11 L62.98 387.74 L63.73 388.34 L64.68 388.89 L65.82 389.39 L67.13 389.84 L68.6 390.21 L70.2 390.52 L71.93 390.75 L73.76 390.9 L75.67 390.97 L77.64 390.96 L79.64 390.88 L81.65 390.72 L83.65 390.49 L85.61 390.2 L87.51 389.86 L89.34 389.47 L91.07 389.05 L92.69 388.61 L94.17 388.15 L95.51 387.71 L96.69 387.28 L97.69 386.88 L98.52 386.52 L99.17 386.22 L99.63 385.99 L99.91 385.85 L100 385.8 L99.89 385.87 L99.55 386.08 L99 386.45 L98.25 386.98 L97.32 387.68 L96.22 388.55 L94.98 389.58 L93.62 390.78 L92.17 392.14 L90.63 393.66 L89.05 395.32 L87.44 397.11 L85.83 399.01 L84.25 401.01 L82.71 403.09 L81.24 405.23 L79.86 407.4 L78.58 409.59 L77.43 411.76 L76.42 413.9 L75.57 415.97 L74.87 417.96 L74.35 419.84 L74 421.59 L73.83 423.18 L73.83 424.59 L74.02 425.81 L74.37 426.82 L74.88 427.61 L75.55 428.15 L76.35 428.46 L77.29 428.51 L78.34 428.31 L79.49 427.86 L80.72 427.16 L82.01 426.21 L83.34 425.04 L84.71 423.64 L86.09 422.05 L87.45 420.27 L88.8 418.33 L90.11 416.24 L91.36 414.05 L92.56 411.76 L93.67 409.42 L94.7 407.05 L95.64 404.67 L96.49 402.33 L97.23 400.04 L97.88 397.84 L98.42 395.76 L98.87 393.81 L99.23 392.03 L99.51 390.44 L99.71 389.06 L99.85 387.91 L99.94 387 L99.98 386.33 L100 385.93 L100 385.8 L100 385.93 L100.02 386.31 L100.06 386.94 L100.14 387.81 L100.27 388.92 L100.47 390.24 L100.73 391.75 L101.08 393.45 L101.51 395.31 L102.03 397.3 L102.64 399.4 L103.36 401.58 L104.16 403.82 L105.06 406.09 L106.04 408.36 L107.11 410.6 L108.25 412.78 L109.45 414.87 L110.7 416.86 L111.98 418.72 L113.29 420.42 L114.6 421.94 L115.91 423.27 L117.18 424.39 L118.42 425.3 L119.59 425.97 L120.69 426.4 L121.69 426.59 L122.58 426.54 L123.35 426.25 L123.99 425.73 L124.48 424.98 L124.82 424.01 L124.99 422.85 L125 421.5 L124.83 419.98 L124.5 418.31 L124 416.52 L123.34 414.62 L122.52 412.63 L121.55 410.59 L120.46 408.52 L119.24 406.43 L117.92 404.35 L116.51 402.31 L115.04 400.33 L113.53 398.42 L111.99 396.6 L110.46 394.89 L108.94 393.31 L107.48 391.86 L106.09 390.56 L104.79 389.41 L103.61 388.42 L102.56 387.59 L101.67 386.93 L100.96 386.42 L100.43 386.07 L100.11 385.87 L100 385.8 L100.09 385.85 L100.35 385.99 L100.79 386.2 L101.41 386.49 L102.2 386.83 L103.16 387.21 L104.29 387.62 L105.56 388.05 L106.98 388.48 L108.52 388.9 L110.17 389.3 L111.91 389.67 L113.73 390 L115.6 390.27 L117.51 390.49 L119.42 390.64 L121.33 390.72 L123.21 390.73 L125.03 390.67 L126.77 390.52 L128.42 390.3 L129.96 390.01 L131.36 389.65 L132.61 389.23 L133.69 388.75 L134.6 388.22 L135.31 387.65 L135.83 387.05 L136.15 386.43 L136.25 385.8Z" fill="none" stroke="#58dc58" stroke-width="0.7" stroke-dasharray="1 0.8" opacity="0.85"/>
<circle cx="134.5" cy="382.5" r="1.9" fill="url(#gc)"/>
<circle cx="133.25" cy="388" r="1.9" fill="url(#gc)"/>
<circle cx="127" cy="378.25" r="1.9" fill="url(#gc)"/>
<circle cx="123" cy="391.25" r="1.9" fill="url(#gc)"/>
<circle cx="107.5" cy="388.75" r="1.9" fill="url(#gc)"/>
<circle cx="104.5" cy="382.5" r="1.9" fill="url(#gc)"/>
<circle cx="96.25" cy="373" r="1.9" fill="url(#gc)"/>
<circle cx="102" cy="373" r="1.9" fill="url(#gc)"/>
<circle cx="99.5" cy="379.5" r="1.9" fill="url(#gc)"/>
<circle cx="95.75" cy="383" r="1.9" fill="url(#gc)"/>
<circle cx="103" cy="383.75" r="1.9" fill="url(#gc)"/>
<circle cx="100.5" cy="387.5" r="1.9" fill="url(#gc)"/>
<circle cx="97" cy="388" r="1.9" fill="url(#gc)"/>
<circle cx="94.25" cy="390" r="1.9" fill="url(#gc)"/>
<circle cx="101.25" cy="396.25" r="1.9" fill="url(#gc)"/>
<circle cx="121.25" cy="344.5" r="1.9" fill="url(#gc)"/>
<circle cx="127" cy="347.5" r="1.9" fill="url(#gc)"/>
<circle cx="109.25" cy="356.25" r="1.9" fill="url(#gc)"/>
<circle cx="117.5" cy="367.5" r="1.9" fill="url(#gc)"/>
<circle cx="114.5" cy="372" r="1.9" fill="url(#gc)"/>
<circle cx="75.75" cy="346.25" r="1.9" fill="url(#gc)"/>
<circle cx="87" cy="353" r="1.9" fill="url(#gc)"/>
<circle cx="77" cy="360" r="1.9" fill="url(#gc)"/>
<circle cx="90.5" cy="377.5" r="1.9" fill="url(#gc)"/>
<circle cx="86.25" cy="380.5" r="1.9" fill="url(#gc)"/>
<circle cx="63.75" cy="385" r="1.9" fill="url(#gc)"/>
<circle cx="69.5" cy="380" r="1.9" fill="url(#gc)"/>
<circle cx="74.5" cy="389.5" r="1.9" fill="url(#gc)"/>
<circle cx="82.5" cy="390.75" r="1.9" fill="url(#gc)"/>
<circle cx="73.75" cy="424.5" r="1.9" fill="url(#gc)"/>
<circle cx="85" cy="419.5" r="1.9" fill="url(#gc)"/>
<circle cx="81.75" cy="403.75" r="1.9" fill="url(#gc)"/>
<circle cx="95.5" cy="402.5" r="1.9" fill="url(#gc)"/>
<circle cx="120" cy="423.75" r="1.9" fill="url(#gc)"/>
<circle cx="122.5" cy="416.25" r="1.9" fill="url(#gc)"/>
<circle cx="110" cy="419.5" r="1.9" fill="url(#gc)"/>
<circle cx="115.5" cy="400.5" r="1.9" fill="url(#gc)"/>
<line x1="32.4" y1="329.4" x2="32.4" y2="386.1" stroke="#8a8a8a" stroke-width="0.9"/>
<line x1="32.4" y1="385.8" x2="34" y2="385.8" stroke="#8a8a8a" stroke-width="0.6"/>
<text x="30.2" y="387.4" font-family='"Liberation Sans", sans-serif' font-size="4.5" fill="#6a6a6a" text-anchor="end">0</text>
<line x1="32.4" y1="373.27" x2="34" y2="373.27" stroke="#8a8a8a" stroke-width="0.6"/>
<text x="30.2" y="374.87" font-family='"Liberation Sans", sans-serif' font-size="4.5" fill="#6a6a6a" text-anchor="end">200</text>
<line x1="32.4" y1="360.73" x2="34" y2="360.73" stroke="#8a8a8a" stroke-width="0.6"/>
<text x="30.2" y="362.33" font-family='"Liberation Sans", sans-serif' font-size="4.5" fill="#6a6a6a" text-anchor="end">400</text>
<line x1="32.4" y1="348.2" x2="34" y2="348.2" stroke="#8a8a8a" stroke-width="0.6"/>
<text x="30.2" y="349.8" font-family='"Liberation Sans", sans-serif' font-size="4.5" fill="#6a6a6a" text-anchor="end">600</text>
<line x1="32.4" y1="335.67" x2="34" y2="335.67" stroke="#8a8a8a" stroke-width="0.6"/>
<text x="30.2" y="337.27" font-family='"Liberation Sans", sans-serif' font-size="4.5" fill="#6a6a6a" text-anchor="end">800</text>
<text transform="translate(19 384.67) rotate(-90)" font-family='"Liberation Sans", sans-serif' font-size="5.8" fill="#6a6a6a" text-anchor="middle" textLength="54" lengthAdjust="spacingAndGlyphs">SHG intensity (a.u.)</text>
<circle cx="136.1" cy="318" r="2" fill="url(#gc)"/>
<text x="145.6" y="319.98" font-family='"Liberation Sans", sans-serif' font-size="5.5" fill="#707070" textLength="19.6" lengthAdjust="spacingAndGlyphs"><tspan font-style="italic">θ</tspan><tspan font-size="3.3" dy="1">r</tspan><tspan dy="-1"> = 90°</tspan></text>
<text x="-0.3" y="341.5" font-family='"Liberation Sans", sans-serif' font-size="14" fill="#111" stroke="#111" stroke-width="0.25">c</text>
</g>
<g id="panel-d">
<circle cx="100.4" cy="543.8" r="6.27" fill="none" stroke="#d4e6f6" stroke-width="0.5" stroke-dasharray="1 0.7"/>
<circle cx="100.4" cy="543.8" r="12.53" fill="none" stroke="#bdbdbd" stroke-width="0.65"/>
<circle cx="100.4" cy="543.8" r="18.8" fill="none" stroke="#d4e6f6" stroke-width="0.5" stroke-dasharray="1 0.7"/>
<circle cx="100.4" cy="543.8" r="25.07" fill="none" stroke="#bdbdbd" stroke-width="0.65"/>
<circle cx="100.4" cy="543.8" r="31.33" fill="none" stroke="#d4e6f6" stroke-width="0.5" stroke-dasharray="1 0.7"/>
<circle cx="100.4" cy="543.8" r="37.6" fill="none" stroke="#bdbdbd" stroke-width="0.65"/>
<circle cx="100.4" cy="543.8" r="43.87" fill="none" stroke="#d4e6f6" stroke-width="0.5" stroke-dasharray="1 0.7"/>
<circle cx="100.4" cy="543.8" r="50.13" fill="none" stroke="#bdbdbd" stroke-width="0.65"/>
<line x1="100.4" y1="543.8" x2="156.8" y2="543.8" stroke="#bdbdbd" stroke-width="0.65"/>
<line x1="100.4" y1="543.8" x2="149.24" y2="515.6" stroke="#bdbdbd" stroke-width="0.65"/>
<line x1="100.4" y1="543.8" x2="128.6" y2="494.96" stroke="#bdbdbd" stroke-width="0.65"/>
<line x1="100.4" y1="543.8" x2="100.4" y2="487.4" stroke="#bdbdbd" stroke-width="0.65"/>
<line x1="100.4" y1="543.8" x2="72.2" y2="494.96" stroke="#bdbdbd" stroke-width="0.65"/>
<line x1="100.4" y1="543.8" x2="51.56" y2="515.6" stroke="#bdbdbd" stroke-width="0.65"/>
<line x1="100.4" y1="543.8" x2="44" y2="543.8" stroke="#bdbdbd" stroke-width="0.65"/>
<line x1="100.4" y1="543.8" x2="51.56" y2="572" stroke="#bdbdbd" stroke-width="0.65"/>
<line x1="100.4" y1="543.8" x2="72.2" y2="592.64" stroke="#bdbdbd" stroke-width="0.65"/>
<line x1="100.4" y1="543.8" x2="100.4" y2="600.2" stroke="#bdbdbd" stroke-width="0.65"/>
<line x1="100.4" y1="543.8" x2="128.6" y2="592.64" stroke="#bdbdbd" stroke-width="0.65"/>
<line x1="100.4" y1="543.8" x2="149.24" y2="572" stroke="#bdbdbd" stroke-width="0.65"/>
<line x1="100.4" y1="543.8" x2="156.8" y2="543.8" stroke="#bfe0f6" stroke-width="0.6" stroke-dasharray="1 1" opacity="0.6"/>
<line x1="100.4" y1="543.8" x2="128.6" y2="494.96" stroke="#bfe0f6" stroke-width="0.6" stroke-dasharray="1 1" opacity="0.6"/>
<line x1="100.4" y1="543.8" x2="72.2" y2="494.96" stroke="#bfe0f6" stroke-width="0.6" stroke-dasharray="1 1" opacity="0.6"/>
<line x1="100.4" y1="543.8" x2="44" y2="543.8" stroke="#bfe0f6" stroke-width="0.6" stroke-dasharray="1 1" opacity="0.6"/>
<line x1="100.4" y1="543.8" x2="72.2" y2="592.64" stroke="#bfe0f6" stroke-width="0.6" stroke-dasharray="1 1" opacity="0.6"/>
<line x1="100.4" y1="543.8" x2="128.6" y2="592.64" stroke="#bfe0f6" stroke-width="0.6" stroke-dasharray="1 1" opacity="0.6"/>
<line x1="100.4" y1="543.8" x2="149.24" y2="515.6" stroke="#d4e6f6" stroke-width="0.5" opacity="0.45"/>
<line x1="100.4" y1="543.8" x2="100.4" y2="487.4" stroke="#d4e6f6" stroke-width="0.5" opacity="0.45"/>
<line x1="100.4" y1="543.8" x2="51.56" y2="515.6" stroke="#d4e6f6" stroke-width="0.5" opacity="0.45"/>
<line x1="100.4" y1="543.8" x2="51.56" y2="572" stroke="#d4e6f6" stroke-width="0.5" opacity="0.45"/>
<line x1="100.4" y1="543.8" x2="100.4" y2="600.2" stroke="#d4e6f6" stroke-width="0.5" opacity="0.45"/>
<line x1="100.4" y1="543.8" x2="149.24" y2="572" stroke="#d4e6f6" stroke-width="0.5" opacity="0.45"/>
<circle cx="100.4" cy="543.8" r="56.4" fill="none" stroke="#868686" stroke-width="1"/>
<text x="159.8" y="545.46" font-family='"Liberation Sans", sans-serif' font-size="4.6" fill="#4c4c4c" text-anchor="middle">0</text>
<text x="154.27" y="514.36" font-family='"Liberation Sans", sans-serif' font-size="4.6" fill="#4c4c4c" text-anchor="middle">30</text>
<text x="131.5" y="491.59" font-family='"Liberation Sans", sans-serif' font-size="4.6" fill="#4c4c4c" text-anchor="middle">60</text>
<text x="100.4" y="484.46" font-family='"Liberation Sans", sans-serif' font-size="4.6" fill="#4c4c4c" text-anchor="middle">90</text>
<text x="69.3" y="491.59" font-family='"Liberation Sans", sans-serif' font-size="4.6" fill="#4c4c4c" text-anchor="middle">120</text>
<text x="46.53" y="514.36" font-family='"Liberation Sans", sans-serif' font-size="4.6" fill="#4c4c4c" text-anchor="middle">150</text>
<text x="39.4" y="545.46" font-family='"Liberation Sans", sans-serif' font-size="4.6" fill="#4c4c4c" text-anchor="middle">180</text>
<text x="46.53" y="576.56" font-family='"Liberation Sans", sans-serif' font-size="4.6" fill="#4c4c4c" text-anchor="middle">210</text>
<text x="69.3" y="599.32" font-family='"Liberation Sans", sans-serif' font-size="4.6" fill="#4c4c4c" text-anchor="middle">240</text>
<text x="100.4" y="606.46" font-family='"Liberation Sans", sans-serif' font-size="4.6" fill="#4c4c4c" text-anchor="middle">270</text>
<text x="131.5" y="599.32" font-family='"Liberation Sans", sans-serif' font-size="4.6" fill="#4c4c4c" text-anchor="middle">300</text>
<text x="154.27" y="576.56" font-family='"Liberation Sans", sans-serif' font-size="4.6" fill="#4c4c4c" text-anchor="middle">330</text>
<path d="M143 543.8 L142.88 543.06 L142.51 542.33 L141.9 541.63 L141.06 540.96 L140 540.34 L138.72 539.77 L137.25 539.28 L135.61 538.85 L133.8 538.51 L131.86 538.25 L129.81 538.08 L127.67 538 L125.47 538.01 L123.23 538.11 L120.97 538.29 L118.73 538.54 L116.53 538.87 L114.4 539.25 L112.35 539.69 L110.41 540.16 L108.6 540.65 L106.93 541.16 L105.44 541.66 L104.12 542.15 L102.99 542.59 L102.06 542.99 L101.33 543.33 L100.81 543.58 L100.5 543.74 L100.4 543.8 L100.5 543.74 L100.79 543.55 L101.27 543.23 L101.92 542.77 L102.73 542.17 L103.68 541.42 L104.76 540.52 L105.94 539.48 L107.2 538.29 L108.53 536.98 L109.91 535.54 L111.3 533.98 L112.7 532.33 L114.08 530.59 L115.41 528.79 L116.69 526.93 L117.89 525.05 L119 523.15 L119.99 521.26 L120.87 519.41 L121.61 517.6 L122.22 515.88 L122.67 514.24 L122.97 512.73 L123.12 511.35 L123.12 510.12 L122.96 509.06 L122.65 508.19 L122.21 507.5 L121.63 507.03 L120.93 506.77 L120.12 506.72 L119.2 506.89 L118.21 507.29 L117.14 507.9 L116.02 508.71 L114.86 509.73 L113.67 510.94 L112.48 512.33 L111.29 513.88 L110.12 515.56 L108.99 517.37 L107.9 519.28 L106.86 521.26 L105.89 523.29 L105 525.35 L104.18 527.41 L103.45 529.45 L102.8 531.44 L102.24 533.35 L101.77 535.16 L101.38 536.84 L101.06 538.39 L100.82 539.77 L100.65 540.97 L100.53 541.97 L100.45 542.76 L100.42 543.34 L100.4 543.68 L100.4 543.8 L100.4 543.67 L100.38 543.3 L100.34 542.67 L100.26 541.81 L100.13 540.72 L99.94 539.42 L99.68 537.92 L99.34 536.24 L98.91 534.4 L98.4 532.44 L97.79 530.36 L97.08 528.2 L96.29 525.99 L95.4 523.75 L94.43 521.51 L93.37 519.29 L92.25 517.14 L91.06 515.07 L89.83 513.1 L88.56 511.27 L87.27 509.59 L85.97 508.08 L84.68 506.77 L83.42 505.66 L82.2 504.77 L81.04 504.1 L79.96 503.68 L78.97 503.49 L78.08 503.54 L77.32 503.82 L76.69 504.34 L76.21 505.08 L75.87 506.03 L75.7 507.19 L75.7 508.52 L75.86 510.02 L76.19 511.67 L76.68 513.44 L77.34 515.32 L78.15 517.28 L79.1 519.3 L80.18 521.35 L81.39 523.41 L82.69 525.46 L84.08 527.48 L85.53 529.44 L87.03 531.33 L88.55 533.13 L90.07 534.82 L91.56 536.38 L93.01 537.81 L94.38 539.1 L95.67 540.23 L96.83 541.21 L97.87 542.03 L98.75 542.68 L99.45 543.18 L99.97 543.53 L100.29 543.73 L100.4 543.8 L100.3 543.74 L99.99 543.58 L99.48 543.33 L98.75 543 L97.83 542.6 L96.7 542.15 L95.39 541.67 L93.9 541.17 L92.24 540.67 L90.44 540.17 L88.51 539.71 L86.47 539.27 L84.34 538.89 L82.15 538.57 L79.92 538.31 L77.68 538.14 L75.45 538.04 L73.26 538.03 L71.13 538.11 L69.08 538.28 L67.15 538.53 L65.36 538.88 L63.72 539.3 L62.26 539.79 L60.99 540.35 L59.93 540.97 L59.09 541.64 L58.49 542.34 L58.12 543.06 L58 543.8 L58.12 544.54 L58.49 545.26 L59.09 545.96 L59.93 546.63 L60.99 547.25 L62.26 547.81 L63.72 548.3 L65.36 548.72 L67.15 549.07 L69.08 549.32 L71.13 549.49 L73.26 549.57 L75.45 549.56 L77.68 549.46 L79.92 549.29 L82.15 549.03 L84.34 548.71 L86.47 548.33 L88.51 547.89 L90.44 547.43 L92.24 546.93 L93.9 546.43 L95.39 545.93 L96.7 545.45 L97.83 545 L98.75 544.6 L99.48 544.27 L99.99 544.02 L100.3 543.86 L100.4 543.8 L100.31 543.85 L100.06 544.01 L99.65 544.28 L99.1 544.68 L98.41 545.2 L97.59 545.84 L96.67 546.61 L95.66 547.5 L94.58 548.51 L93.44 549.64 L92.26 550.87 L91.07 552.2 L89.87 553.62 L88.7 555.1 L87.55 556.65 L86.46 558.24 L85.43 559.85 L84.48 561.48 L83.63 563.09 L82.88 564.68 L82.24 566.22 L81.73 567.7 L81.34 569.09 L81.08 570.39 L80.95 571.57 L80.96 572.62 L81.09 573.53 L81.35 574.28 L81.73 574.86 L82.23 575.27 L82.83 575.5 L83.53 575.54 L84.31 575.39 L85.16 575.05 L86.07 574.53 L87.03 573.83 L88.02 572.95 L89.04 571.92 L90.06 570.73 L91.08 569.41 L92.08 567.97 L93.05 566.42 L93.98 564.79 L94.87 563.09 L95.7 561.35 L96.46 559.59 L97.16 557.82 L97.79 556.08 L98.34 554.38 L98.82 552.75 L99.23 551.2 L99.56 549.75 L99.83 548.43 L100.04 547.25 L100.19 546.23 L100.29 545.37 L100.35 544.69 L100.39 544.2 L100.4 543.9 L100.4 543.8 L100.4 543.93 L100.42 544.33 L100.46 544.98 L100.55 545.89 L100.68 547.03 L100.88 548.4 L101.16 549.97 L101.52 551.74 L101.96 553.66 L102.5 555.73 L103.14 557.9 L103.88 560.17 L104.72 562.49 L105.65 564.84 L106.67 567.19 L107.77 569.52 L108.95 571.78 L110.2 573.95 L111.49 576.01 L112.83 577.94 L114.18 579.7 L115.54 581.28 L116.9 582.66 L118.22 583.83 L119.5 584.76 L120.72 585.46 L121.85 585.9 L122.89 586.1 L123.82 586.05 L124.62 585.75 L125.28 585.21 L125.79 584.43 L126.14 583.43 L126.32 582.22 L126.32 580.82 L126.15 579.25 L125.81 577.52 L125.29 575.66 L124.6 573.69 L123.75 571.63 L122.75 569.51 L121.61 567.36 L120.35 565.2 L118.98 563.04 L117.53 560.93 L116 558.87 L114.43 556.88 L112.84 555 L111.24 553.23 L109.68 551.58 L108.16 550.08 L106.71 548.73 L105.37 547.54 L104.14 546.52 L103.06 545.66 L102.14 544.97 L101.39 544.45 L100.85 544.08 L100.51 543.87 L100.4 543.8 L100.5 543.86 L100.81 544.02 L101.33 544.27 L102.06 544.61 L102.99 545.01 L104.12 545.45 L105.44 545.94 L106.93 546.44 L108.6 546.95 L110.41 547.44 L112.35 547.91 L114.4 548.35 L116.53 548.73 L118.73 549.06 L120.97 549.31 L123.23 549.49 L125.47 549.59 L127.67 549.6 L129.81 549.52 L131.86 549.35 L133.8 549.09 L135.61 548.75 L137.25 548.32 L138.72 547.83 L140 547.26 L141.06 546.64 L141.9 545.97 L142.51 545.27 L142.88 544.54 L143 543.8Z" fill="none" stroke="#56b0ea" stroke-width="0.7" stroke-dasharray="1 0.8" opacity="0.85"/>
<circle cx="139.5" cy="541.25" r="1.9" fill="url(#gd)"/>
<circle cx="138.75" cy="546.25" r="1.9" fill="url(#gd)"/>
<circle cx="126.25" cy="536.25" r="1.9" fill="url(#gd)"/>
<circle cx="121.25" cy="548.75" r="1.9" fill="url(#gd)"/>
<circle cx="108.75" cy="547" r="1.9" fill="url(#gd)"/>
<circle cx="105" cy="542.5" r="1.9" fill="url(#gd)"/>
<circle cx="102" cy="541.25" r="1.9" fill="url(#gd)"/>
<circle cx="98.75" cy="543" r="1.9" fill="url(#gd)"/>
<circle cx="97.5" cy="545.5" r="1.9" fill="url(#gd)"/>
<circle cx="103" cy="545" r="1.9" fill="url(#gd)"/>
<circle cx="95.5" cy="547.5" r="1.9" fill="url(#gd)"/>
<circle cx="102" cy="554.25" r="1.9" fill="url(#gd)"/>
<circle cx="98" cy="556.25" r="1.9" fill="url(#gd)"/>
<circle cx="100.5" cy="544.25" r="1.9" fill="url(#gd)"/>
<circle cx="119.5" cy="509.25" r="1.9" fill="url(#gd)"/>
<circle cx="123.75" cy="513" r="1.9" fill="url(#gd)"/>
<circle cx="110" cy="515.5" r="1.9" fill="url(#gd)"/>
<circle cx="116.25" cy="528.75" r="1.9" fill="url(#gd)"/>
<circle cx="102" cy="535" r="1.9" fill="url(#gd)"/>
<circle cx="78" cy="507" r="1.9" fill="url(#gd)"/>
<circle cx="86.25" cy="505.75" r="1.9" fill="url(#gd)"/>
<circle cx="77.5" cy="516.25" r="1.9" fill="url(#gd)"/>
<circle cx="97.5" cy="530" r="1.9" fill="url(#gd)"/>
<circle cx="92.5" cy="536.25" r="1.9" fill="url(#gd)"/>
<circle cx="59.25" cy="543" r="1.9" fill="url(#gd)"/>
<circle cx="71.25" cy="537.5" r="1.9" fill="url(#gd)"/>
<circle cx="67.5" cy="548.75" r="1.9" fill="url(#gd)"/>
<circle cx="83.75" cy="537" r="1.9" fill="url(#gd)"/>
<circle cx="82" cy="549.5" r="1.9" fill="url(#gd)"/>
<circle cx="81.25" cy="572" r="1.9" fill="url(#gd)"/>
<circle cx="88" cy="572" r="1.9" fill="url(#gd)"/>
<circle cx="84.5" cy="560.5" r="1.9" fill="url(#gd)"/>
<circle cx="122" cy="585" r="1.9" fill="url(#gd)"/>
<circle cx="126.25" cy="578.75" r="1.9" fill="url(#gd)"/>
<circle cx="111.25" cy="577.5" r="1.9" fill="url(#gd)"/>
<circle cx="113" cy="555" r="1.9" fill="url(#gd)"/>
<line x1="33" y1="487.4" x2="33" y2="544.1" stroke="#8a8a8a" stroke-width="0.9"/>
<line x1="33" y1="543.8" x2="34.6" y2="543.8" stroke="#8a8a8a" stroke-width="0.6"/>
<text x="30.8" y="545.4" font-family='"Liberation Sans", sans-serif' font-size="4.5" fill="#6a6a6a" text-anchor="end">0</text>
<line x1="33" y1="531.27" x2="34.6" y2="531.27" stroke="#8a8a8a" stroke-width="0.6"/>
<text x="30.8" y="532.87" font-family='"Liberation Sans", sans-serif' font-size="4.5" fill="#6a6a6a" text-anchor="end">200</text>
<line x1="33" y1="518.73" x2="34.6" y2="518.73" stroke="#8a8a8a" stroke-width="0.6"/>
<text x="30.8" y="520.33" font-family='"Liberation Sans", sans-serif' font-size="4.5" fill="#6a6a6a" text-anchor="end">400</text>
<line x1="33" y1="506.2" x2="34.6" y2="506.2" stroke="#8a8a8a" stroke-width="0.6"/>
<text x="30.8" y="507.8" font-family='"Liberation Sans", sans-serif' font-size="4.5" fill="#6a6a6a" text-anchor="end">600</text>
<line x1="33" y1="493.67" x2="34.6" y2="493.67" stroke="#8a8a8a" stroke-width="0.6"/>
<text x="30.8" y="495.27" font-family='"Liberation Sans", sans-serif' font-size="4.5" fill="#6a6a6a" text-anchor="end">800</text>
<text transform="translate(19.6 542.67) rotate(-90)" font-family='"Liberation Sans", sans-serif' font-size="5.8" fill="#6a6a6a" text-anchor="middle" textLength="54" lengthAdjust="spacingAndGlyphs">SHG intensity (a.u.)</text>
<circle cx="137.2" cy="476" r="2" fill="url(#gd)"/>
<text x="146.2" y="477.98" font-family='"Liberation Sans", sans-serif' font-size="5.5" fill="#707070" textLength="25.2" lengthAdjust="spacingAndGlyphs"><tspan font-style="italic">θ</tspan><tspan font-size="3.3" dy="1">r</tspan><tspan dy="-1"> = 120°</tspan></text>
<text x="4" y="498" font-family='"Liberation Sans", sans-serif' font-size="14" fill="#111" stroke="#111" stroke-width="0.25">d</text>
</g>
<g id="panel-e">
<circle cx="102.9" cy="702.8" r="6.27" fill="none" stroke="#d4e6f6" stroke-width="0.5" stroke-dasharray="1 0.7"/>
<circle cx="102.9" cy="702.8" r="12.53" fill="none" stroke="#bdbdbd" stroke-width="0.65"/>
<circle cx="102.9" cy="702.8" r="18.8" fill="none" stroke="#d4e6f6" stroke-width="0.5" stroke-dasharray="1 0.7"/>
<circle cx="102.9" cy="702.8" r="25.07" fill="none" stroke="#bdbdbd" stroke-width="0.65"/>
<circle cx="102.9" cy="702.8" r="31.33" fill="none" stroke="#d4e6f6" stroke-width="0.5" stroke-dasharray="1 0.7"/>
<circle cx="102.9" cy="702.8" r="37.6" fill="none" stroke="#bdbdbd" stroke-width="0.65"/>
<circle cx="102.9" cy="702.8" r="43.87" fill="none" stroke="#d4e6f6" stroke-width="0.5" stroke-dasharray="1 0.7"/>
<circle cx="102.9" cy="702.8" r="50.13" fill="none" stroke="#bdbdbd" stroke-width="0.65"/>
<line x1="102.9" y1="702.8" x2="159.3" y2="702.8" stroke="#bdbdbd" stroke-width="0.65"/>
<line x1="102.9" y1="702.8" x2="151.74" y2="674.6" stroke="#bdbdbd" stroke-width="0.65"/>
<line x1="102.9" y1="702.8" x2="131.1" y2="653.96" stroke="#bdbdbd" stroke-width="0.65"/>
<line x1="102.9" y1="702.8" x2="102.9" y2="646.4" stroke="#bdbdbd" stroke-width="0.65"/>
<line x1="102.9" y1="702.8" x2="74.7" y2="653.96" stroke="#bdbdbd" stroke-width="0.65"/>
<line x1="102.9" y1="702.8" x2="54.06" y2="674.6" stroke="#bdbdbd" stroke-width="0.65"/>
<line x1="102.9" y1="702.8" x2="46.5" y2="702.8" stroke="#bdbdbd" stroke-width="0.65"/>
<line x1="102.9" y1="702.8" x2="54.06" y2="731" stroke="#bdbdbd" stroke-width="0.65"/>
<line x1="102.9" y1="702.8" x2="74.7" y2="751.64" stroke="#bdbdbd" stroke-width="0.65"/>
<line x1="102.9" y1="702.8" x2="102.9" y2="759.2" stroke="#bdbdbd" stroke-width="0.65"/>
<line x1="102.9" y1="702.8" x2="131.1" y2="751.64" stroke="#bdbdbd" stroke-width="0.65"/>
<line x1="102.9" y1="702.8" x2="151.74" y2="731" stroke="#bdbdbd" stroke-width="0.65"/>
<line x1="102.9" y1="702.8" x2="159.3" y2="702.8" stroke="#e6c8f8" stroke-width="0.6" stroke-dasharray="1 1" opacity="0.6"/>
<line x1="102.9" y1="702.8" x2="131.1" y2="653.96" stroke="#e6c8f8" stroke-width="0.6" stroke-dasharray="1 1" opacity="0.6"/>
<line x1="102.9" y1="702.8" x2="74.7" y2="653.96" stroke="#e6c8f8" stroke-width="0.6" stroke-dasharray="1 1" opacity="0.6"/>
<line x1="102.9" y1="702.8" x2="46.5" y2="702.8" stroke="#e6c8f8" stroke-width="0.6" stroke-dasharray="1 1" opacity="0.6"/>
<line x1="102.9" y1="702.8" x2="74.7" y2="751.64" stroke="#e6c8f8" stroke-width="0.6" stroke-dasharray="1 1" opacity="0.6"/>
<line x1="102.9" y1="702.8" x2="131.1" y2="751.64" stroke="#e6c8f8" stroke-width="0.6" stroke-dasharray="1 1" opacity="0.6"/>
<line x1="102.9" y1="702.8" x2="151.74" y2="674.6" stroke="#d4e6f6" stroke-width="0.5" opacity="0.45"/>
<line x1="102.9" y1="702.8" x2="102.9" y2="646.4" stroke="#d4e6f6" stroke-width="0.5" opacity="0.45"/>
<line x1="102.9" y1="702.8" x2="54.06" y2="674.6" stroke="#d4e6f6" stroke-width="0.5" opacity="0.45"/>
<line x1="102.9" y1="702.8" x2="54.06" y2="731" stroke="#d4e6f6" stroke-width="0.5" opacity="0.45"/>
<line x1="102.9" y1="702.8" x2="102.9" y2="759.2" stroke="#d4e6f6" stroke-width="0.5" opacity="0.45"/>
<line x1="102.9" y1="702.8" x2="151.74" y2="731" stroke="#d4e6f6" stroke-width="0.5" opacity="0.45"/>
<circle cx="102.9" cy="702.8" r="56.4" fill="none" stroke="#868686" stroke-width="1"/>
<text x="162.3" y="704.46" font-family='"Liberation Sans", sans-serif' font-size="4.6" fill="#4c4c4c" text-anchor="middle">0</text>
<text x="156.77" y="673.36" font-family='"Liberation Sans", sans-serif' font-size="4.6" fill="#4c4c4c" text-anchor="middle">30</text>
<text x="134" y="650.59" font-family='"Liberation Sans", sans-serif' font-size="4.6" fill="#4c4c4c" text-anchor="middle">60</text>
<text x="102.9" y="643.46" font-family='"Liberation Sans", sans-serif' font-size="4.6" fill="#4c4c4c" text-anchor="middle">90</text>
<text x="71.8" y="650.59" font-family='"Liberation Sans", sans-serif' font-size="4.6" fill="#4c4c4c" text-anchor="middle">120</text>
<text x="49.03" y="673.36" font-family='"Liberation Sans", sans-serif' font-size="4.6" fill="#4c4c4c" text-anchor="middle">150</text>
<text x="41.9" y="704.46" font-family='"Liberation Sans", sans-serif' font-size="4.6" fill="#4c4c4c" text-anchor="middle">180</text>
<text x="49.03" y="735.56" font-family='"Liberation Sans", sans-serif' font-size="4.6" fill="#4c4c4c" text-anchor="middle">210</text>
<text x="71.8" y="758.32" font-family='"Liberation Sans", sans-serif' font-size="4.6" fill="#4c4c4c" text-anchor="middle">240</text>
<text x="102.9" y="765.46" font-family='"Liberation Sans", sans-serif' font-size="4.6" fill="#4c4c4c" text-anchor="middle">270</text>
<text x="134" y="758.32" font-family='"Liberation Sans", sans-serif' font-size="4.6" fill="#4c4c4c" text-anchor="middle">300</text>
<text x="156.77" y="735.56" font-family='"Liberation Sans", sans-serif' font-size="4.6" fill="#4c4c4c" text-anchor="middle">330</text>
<path d="M157.5 702.8 L157.34 701.85 L156.87 700.92 L156.09 700.01 L155.01 699.16 L153.65 698.36 L152.02 697.64 L150.13 697 L148.02 696.46 L145.71 696.02 L143.23 695.69 L140.6 695.47 L137.86 695.37 L135.03 695.38 L132.16 695.51 L129.27 695.73 L126.4 696.06 L123.58 696.48 L120.84 696.97 L118.21 697.53 L115.73 698.13 L113.41 698.77 L111.28 699.42 L109.35 700.06 L107.66 700.68 L106.21 701.25 L105.02 701.77 L104.09 702.19 L103.43 702.52 L103.03 702.73 L102.9 702.8 L102.99 702.75 L103.26 702.58 L103.7 702.28 L104.29 701.86 L105.03 701.31 L105.9 700.62 L106.88 699.8 L107.96 698.85 L109.12 697.77 L110.33 696.56 L111.59 695.25 L112.86 693.83 L114.14 692.32 L115.4 690.73 L116.62 689.08 L117.79 687.38 L118.89 685.66 L119.9 683.92 L120.81 682.2 L121.61 680.5 L122.29 678.86 L122.84 677.28 L123.26 675.79 L123.53 674.4 L123.67 673.14 L123.66 672.02 L123.52 671.05 L123.24 670.25 L122.83 669.62 L122.3 669.19 L121.66 668.95 L120.92 668.91 L120.09 669.07 L119.18 669.43 L118.2 669.98 L117.18 670.73 L116.12 671.66 L115.03 672.77 L113.94 674.04 L112.86 675.45 L111.79 676.99 L110.75 678.64 L109.75 680.38 L108.81 682.2 L107.92 684.06 L107.1 685.94 L106.36 687.82 L105.69 689.68 L105.1 691.5 L104.58 693.24 L104.15 694.9 L103.79 696.44 L103.51 697.85 L103.29 699.11 L103.13 700.21 L103.02 701.13 L102.95 701.85 L102.91 702.38 L102.9 702.69 L102.9 702.8 L102.9 702.66 L102.88 702.23 L102.83 701.52 L102.74 700.55 L102.6 699.32 L102.38 697.84 L102.08 696.14 L101.7 694.25 L101.22 692.17 L100.63 689.95 L99.94 687.6 L99.15 685.16 L98.25 682.65 L97.24 680.12 L96.14 677.58 L94.95 675.08 L93.68 672.65 L92.34 670.3 L90.94 668.08 L89.51 666 L88.05 664.1 L86.58 662.4 L85.12 660.91 L83.69 659.66 L82.31 658.65 L81 657.9 L79.78 657.42 L78.66 657.21 L77.66 657.26 L76.8 657.58 L76.08 658.17 L75.54 659.01 L75.16 660.08 L74.97 661.39 L74.96 662.9 L75.14 664.59 L75.51 666.46 L76.07 668.46 L76.82 670.59 L77.73 672.8 L78.81 675.09 L80.03 677.41 L81.39 679.74 L82.87 682.06 L84.44 684.34 L86.08 686.56 L87.78 688.7 L89.5 690.73 L91.21 692.64 L92.9 694.41 L94.54 696.03 L96.09 697.48 L97.55 698.76 L98.87 699.87 L100.04 700.79 L101.03 701.54 L101.83 702.1 L102.42 702.5 L102.78 702.73 L102.9 702.8 L102.77 702.73 L102.39 702.53 L101.75 702.21 L100.84 701.8 L99.69 701.3 L98.29 700.75 L96.65 700.15 L94.79 699.52 L92.72 698.89 L90.47 698.28 L88.06 697.69 L85.52 697.15 L82.86 696.67 L80.13 696.27 L77.35 695.95 L74.55 695.73 L71.77 695.61 L69.03 695.6 L66.38 695.7 L63.83 695.91 L61.42 696.23 L59.18 696.66 L57.14 697.18 L55.31 697.8 L53.73 698.5 L52.41 699.27 L51.37 700.1 L50.61 700.97 L50.15 701.88 L50 702.8 L50.15 703.72 L50.61 704.63 L51.37 705.5 L52.41 706.33 L53.73 707.1 L55.31 707.8 L57.14 708.42 L59.18 708.94 L61.42 709.37 L63.83 709.69 L66.38 709.9 L69.03 710 L71.77 709.99 L74.55 709.87 L77.35 709.65 L80.13 709.33 L82.86 708.93 L85.52 708.45 L88.06 707.91 L90.47 707.32 L92.72 706.71 L94.79 706.08 L96.65 705.45 L98.29 704.85 L99.69 704.3 L100.84 703.8 L101.75 703.39 L102.39 703.07 L102.77 702.87 L102.9 702.8 L102.81 702.85 L102.54 703.02 L102.11 703.32 L101.51 703.74 L100.78 704.29 L99.91 704.97 L98.93 705.79 L97.86 706.74 L96.7 707.82 L95.49 709.02 L94.24 710.33 L92.97 711.74 L91.69 713.25 L90.44 714.83 L89.22 716.48 L88.06 718.17 L86.96 719.89 L85.96 721.62 L85.05 723.34 L84.25 725.03 L83.57 726.67 L83.02 728.24 L82.61 729.73 L82.33 731.11 L82.19 732.37 L82.2 733.49 L82.34 734.45 L82.62 735.25 L83.03 735.87 L83.55 736.31 L84.19 736.55 L84.93 736.59 L85.76 736.43 L86.67 736.07 L87.64 735.52 L88.67 734.77 L89.72 733.84 L90.8 732.74 L91.89 731.48 L92.98 730.07 L94.04 728.53 L95.07 726.88 L96.07 725.15 L97.01 723.34 L97.89 721.49 L98.71 719.61 L99.45 717.73 L100.12 715.88 L100.71 714.07 L101.22 712.33 L101.65 710.68 L102.01 709.14 L102.29 707.73 L102.51 706.47 L102.67 705.38 L102.78 704.47 L102.85 703.75 L102.89 703.22 L102.9 702.91 L102.9 702.8 L102.9 702.93 L102.92 703.34 L102.96 704 L103.05 704.93 L103.19 706.09 L103.39 707.48 L103.67 709.08 L104.03 710.87 L104.49 712.83 L105.04 714.94 L105.69 717.15 L106.44 719.46 L107.29 721.82 L108.24 724.21 L109.28 726.61 L110.4 728.97 L111.6 731.27 L112.87 733.48 L114.19 735.58 L115.54 737.54 L116.92 739.33 L118.31 740.94 L119.69 742.34 L121.03 743.53 L122.34 744.48 L123.57 745.19 L124.73 745.64 L125.79 745.85 L126.73 745.79 L127.55 745.49 L128.22 744.93 L128.73 744.14 L129.09 743.13 L129.27 741.9 L129.28 740.47 L129.11 738.87 L128.75 737.11 L128.23 735.22 L127.53 733.21 L126.66 731.12 L125.65 728.97 L124.49 726.77 L123.2 724.57 L121.81 722.38 L120.33 720.23 L118.78 718.13 L117.18 716.11 L115.56 714.19 L113.93 712.39 L112.34 710.72 L110.8 709.19 L109.33 707.82 L107.96 706.61 L106.71 705.57 L105.6 704.69 L104.67 703.99 L103.91 703.46 L103.36 703.09 L103.02 702.87 L102.9 702.8 L103.03 702.87 L103.43 703.08 L104.09 703.41 L105.02 703.83 L106.21 704.35 L107.66 704.92 L109.35 705.54 L111.28 706.18 L113.41 706.83 L115.73 707.47 L118.21 708.07 L120.84 708.63 L123.58 709.12 L126.4 709.54 L129.27 709.87 L132.16 710.09 L135.03 710.22 L137.86 710.23 L140.6 710.13 L143.23 709.91 L145.71 709.58 L148.02 709.14 L150.13 708.6 L152.02 707.96 L153.65 707.24 L155.01 706.44 L156.09 705.59 L156.87 704.68 L157.34 703.75 L157.5 702.8Z" fill="none" stroke="#d488f2" stroke-width="0.7" opacity="0.85"/>
<circle cx="149.5" cy="698.75" r="1.9" fill="url(#ge)"/>
<circle cx="151.25" cy="707" r="1.9" fill="url(#ge)"/>
<circle cx="131.25" cy="695" r="1.9" fill="url(#ge)"/>
<circle cx="123.75" cy="708" r="1.9" fill="url(#ge)"/>
<circle cx="110" cy="697.5" r="1.9" fill="url(#ge)"/>
<circle cx="109.5" cy="705" r="1.9" fill="url(#ge)"/>
<circle cx="103.75" cy="695" r="1.9" fill="url(#ge)"/>
<circle cx="106.25" cy="701.25" r="1.9" fill="url(#ge)"/>
<circle cx="101.25" cy="701.25" r="1.9" fill="url(#ge)"/>
<circle cx="99.5" cy="703.75" r="1.9" fill="url(#ge)"/>
<circle cx="98.75" cy="706.25" r="1.9" fill="url(#ge)"/>
<circle cx="102.5" cy="706.25" r="1.9" fill="url(#ge)"/>
<circle cx="105.5" cy="705" r="1.9" fill="url(#ge)"/>
<circle cx="100.5" cy="715" r="1.9" fill="url(#ge)"/>
<circle cx="105" cy="712.5" r="1.9" fill="url(#ge)"/>
<circle cx="120" cy="670" r="1.9" fill="url(#ge)"/>
<circle cx="124.5" cy="673.75" r="1.9" fill="url(#ge)"/>
<circle cx="112.5" cy="673.75" r="1.9" fill="url(#ge)"/>
<circle cx="116.25" cy="689.5" r="1.9" fill="url(#ge)"/>
<circle cx="77.5" cy="660" r="1.9" fill="url(#ge)"/>
<circle cx="87" cy="662.5" r="1.9" fill="url(#ge)"/>
<circle cx="75" cy="670.75" r="1.9" fill="url(#ge)"/>
<circle cx="99.25" cy="685" r="1.9" fill="url(#ge)"/>
<circle cx="93" cy="694.5" r="1.9" fill="url(#ge)"/>
<circle cx="90" cy="698" r="1.9" fill="url(#ge)"/>
<circle cx="52" cy="702" r="1.9" fill="url(#ge)"/>
<circle cx="58.75" cy="694.25" r="1.9" fill="url(#ge)"/>
<circle cx="60" cy="709.25" r="1.9" fill="url(#ge)"/>
<circle cx="80.5" cy="709.25" r="1.9" fill="url(#ge)"/>
<circle cx="82.5" cy="733" r="1.9" fill="url(#ge)"/>
<circle cx="89.5" cy="733" r="1.9" fill="url(#ge)"/>
<circle cx="85.75" cy="721.25" r="1.9" fill="url(#ge)"/>
<circle cx="124.5" cy="743.75" r="1.9" fill="url(#ge)"/>
<circle cx="127.5" cy="735.5" r="1.9" fill="url(#ge)"/>
<circle cx="113.75" cy="737" r="1.9" fill="url(#ge)"/>
<circle cx="116.25" cy="715.5" r="1.9" fill="url(#ge)"/>
<line x1="35.4" y1="646.4" x2="35.4" y2="703.1" stroke="#8a8a8a" stroke-width="0.9"/>
<line x1="35.4" y1="702.8" x2="37" y2="702.8" stroke="#8a8a8a" stroke-width="0.6"/>
<text x="33.2" y="704.4" font-family='"Liberation Sans", sans-serif' font-size="4.5" fill="#6a6a6a" text-anchor="end">0</text>
<line x1="35.4" y1="690.27" x2="37" y2="690.27" stroke="#8a8a8a" stroke-width="0.6"/>
<text x="33.2" y="691.87" font-family='"Liberation Sans", sans-serif' font-size="4.5" fill="#6a6a6a" text-anchor="end">200</text>
<line x1="35.4" y1="677.73" x2="37" y2="677.73" stroke="#8a8a8a" stroke-width="0.6"/>
<text x="33.2" y="679.33" font-family='"Liberation Sans", sans-serif' font-size="4.5" fill="#6a6a6a" text-anchor="end">400</text>
<line x1="35.4" y1="665.2" x2="37" y2="665.2" stroke="#8a8a8a" stroke-width="0.6"/>
<text x="33.2" y="666.8" font-family='"Liberation Sans", sans-serif' font-size="4.5" fill="#6a6a6a" text-anchor="end">600</text>
<line x1="35.4" y1="652.67" x2="37" y2="652.67" stroke="#8a8a8a" stroke-width="0.6"/>
<text x="33.2" y="654.27" font-family='"Liberation Sans", sans-serif' font-size="4.5" fill="#6a6a6a" text-anchor="end">800</text>
<text transform="translate(22 701.67) rotate(-90)" font-family='"Liberation Sans", sans-serif' font-size="5.8" fill="#6a6a6a" text-anchor="middle" textLength="54" lengthAdjust="spacingAndGlyphs">SHG intensity (a.u.)</text>
<circle cx="139.1" cy="635.3" r="2" fill="url(#ge)"/>
<text x="146.7" y="637.28" font-family='"Liberation Sans", sans-serif' font-size="5.5" fill="#707070" textLength="25.2" lengthAdjust="spacingAndGlyphs"><tspan font-style="italic">θ</tspan><tspan font-size="3.3" dy="1">r</tspan><tspan dy="-1"> = 150°</tspan></text>
<text x="4" y="643.3" font-family='"Liberation Sans", sans-serif' font-size="14" fill="#111" stroke="#111" stroke-width="0.25">e</text>
</g>
<g id="panel-f">
<polygon points="-38,0 -28,-4.6 -28,-1.05 28,-1.05 28,-4.6 38,0 28,4.6 28,1.05 -28,1.05 -28,4.6" fill="#b2bfe6" transform="translate(270.8 72.3) rotate(-120)"/>
<polygon points="-44.2,0 -33.7,-5 -33.7,-1.15 33.7,-1.15 33.7,-5 44.2,0 33.7,5 33.7,1.15 -33.7,1.15 -33.7,5" fill="#f37a82" transform="translate(272.1 72.6) rotate(-30)"/>
<line x1="271.35" y1="16.25" x2="271.35" y2="116" stroke="#2e2e2e" stroke-width="0.9" stroke-dasharray="1.3 0.85"/>
<line x1="221" y1="73.05" x2="319.5" y2="73.05" stroke="#2e2e2e" stroke-width="0.9" stroke-dasharray="1.3 0.85"/>
<polygon points="271.35,13.75 269.85,17.15 272.85,17.15" fill="#111"/>
<polygon points="322,73.05 318.6,71.55 318.6,74.55" fill="#111"/>
<line x1="287.9" y1="73.9" x2="279.9" y2="60.04" stroke="#a9aeac" stroke-width="0.7"/>
<line x1="263.9" y1="60.04" x2="255.9" y2="73.9" stroke="#a9aeac" stroke-width="0.7"/>
<line x1="255.9" y1="73.9" x2="263.9" y2="87.76" stroke="#a9aeac" stroke-width="0.7"/>
<line x1="279.9" y1="87.76" x2="287.9" y2="73.9" stroke="#a9aeac" stroke-width="0.7"/>
<circle cx="287.9" cy="73.9" r="4.6" fill="url(#gK)"/>
<circle cx="279.9" cy="60.04" r="4.6" fill="url(#gT)"/>
<circle cx="263.9" cy="60.04" r="4.6" fill="url(#gK)"/>
<circle cx="255.9" cy="73.9" r="4.6" fill="url(#gT)"/>
<circle cx="263.9" cy="87.76" r="4.6" fill="url(#gK)"/>
<circle cx="279.9" cy="87.76" r="4.6" fill="url(#gT)"/>
<path d="M301.31 71.48 A30 30 0 0 0 298.08 59.43" fill="none" stroke="#f08e90" stroke-width="1.15"/>
<line x1="301.31" y1="71.48" x2="302.73" y2="67.96" stroke="#f08e90" stroke-width="1.15" stroke-linecap="round"/>
<line x1="301.31" y1="71.48" x2="299.52" y2="68.12" stroke="#f08e90" stroke-width="1.15" stroke-linecap="round"/>
<line x1="298.08" y1="59.43" x2="298.21" y2="63.23" stroke="#f08e90" stroke-width="1.15" stroke-linecap="round"/>
<line x1="298.08" y1="59.43" x2="301.07" y2="61.77" stroke="#f08e90" stroke-width="1.15" stroke-linecap="round"/>
<text x="199.7" y="22.1" font-family='"Liberation Serif", serif' font-weight="bold" fill="#2474b8" stroke="#2474b8" stroke-width="0.3" font-size="11.8" textLength="57.2" lengthAdjust="spacingAndGlyphs"><tspan font-style="italic" font-size="12.98">ε</tspan><tspan font-style="italic" font-size="8.97" dy="2.95">h</tspan><tspan dy="-2.95">= 1.89%</tspan></text>
<text x="209" y="39.2" font-family='"Liberation Serif", serif' font-weight="bold" fill="#7488c8" stroke="#7488c8" stroke-width="0.3" font-size="9.8" textLength="41.9" lengthAdjust="spacingAndGlyphs"><tspan font-style="italic" font-size="10.98">θ</tspan><tspan font-style="italic" font-size="7.45" dy="2.45">h</tspan><tspan dy="-2.45">= 120°</tspan></text>
<text x="289" y="41.2" font-family='"Liberation Serif", serif' font-weight="bold" fill="#d8222a" stroke="#d8222a" stroke-width="0.3" font-size="13.2" textLength="65.4" lengthAdjust="spacingAndGlyphs"><tspan font-style="italic" font-size="13.86">ε</tspan><tspan font-style="italic" font-size="10.03" dy="3.3">r</tspan><tspan dy="-3.3">= 2.19%</tspan></text>
<text x="304.2" y="66.5" font-family='"Liberation Serif", serif' font-weight="bold" fill="#d22a36" stroke="#d22a36" stroke-width="0.3" font-size="11.6" textLength="36.4" lengthAdjust="spacingAndGlyphs"><tspan font-style="italic" font-size="11.95">θ</tspan><tspan font-style="italic" font-size="8.82" dy="2.9">r</tspan><tspan dy="-2.9">= 30°</tspan></text>
<text x="272.5" y="6.7" font-family='"Liberation Serif", serif' font-size="11.8" fill="#222" text-anchor="middle">y</text>
<text x="329.8" y="75.6" font-family='"Liberation Serif", serif' font-size="13" fill="#222" text-anchor="middle">x</text>
<text x="177" y="11.2" font-family='"Liberation Sans", sans-serif' font-size="14" fill="#111" stroke="#111" stroke-width="0.25">f</text>
</g>
<g id="panel-g">
<polygon points="-35.1,0 -25.1,-4.6 -25.1,-1.05 25.1,-1.05 25.1,-4.6 35.1,0 25.1,4.6 25.1,1.05 -25.1,1.05 -25.1,4.6" fill="#b2bfe6" transform="translate(273.75 230.6) rotate(-151)"/>
<polygon points="-42.8,0 -32.3,-5 -32.3,-1.15 32.3,-1.15 32.3,-5 42.8,0 32.3,5 32.3,1.15 -32.3,1.15 -32.3,5" fill="#f37a82" transform="translate(273.7 230.3) rotate(-61.5)"/>
<line x1="273.6" y1="177" x2="273.6" y2="272.5" stroke="#2e2e2e" stroke-width="0.9" stroke-dasharray="1.3 0.85"/>
<line x1="230.75" y1="231" x2="327.1" y2="231" stroke="#2e2e2e" stroke-width="0.9" stroke-dasharray="1.3 0.85"/>
<polygon points="273.6,174.5 272.1,177.9 275.1,177.9" fill="#111"/>
<polygon points="329.6,231 326.2,229.5 326.2,232.5" fill="#111"/>
<line x1="289.2" y1="230.9" x2="281.4" y2="217.39" stroke="#a9aeac" stroke-width="0.7"/>
<line x1="265.8" y1="217.39" x2="258" y2="230.9" stroke="#a9aeac" stroke-width="0.7"/>
<line x1="258" y1="230.9" x2="265.8" y2="244.41" stroke="#a9aeac" stroke-width="0.7"/>
<line x1="281.4" y1="244.41" x2="289.2" y2="230.9" stroke="#a9aeac" stroke-width="0.7"/>
<circle cx="289.2" cy="230.9" r="4.6" fill="url(#gK)"/>
<circle cx="281.4" cy="217.39" r="4.6" fill="url(#gT)"/>
<circle cx="265.8" cy="217.39" r="4.6" fill="url(#gK)"/>
<circle cx="258" cy="230.9" r="4.6" fill="url(#gT)"/>
<circle cx="265.8" cy="244.41" r="4.6" fill="url(#gK)"/>
<circle cx="281.4" cy="244.41" r="4.6" fill="url(#gT)"/>
<path d="M299.95 228.23 A26.5 26.5 0 0 0 289.18 209.56" fill="none" stroke="#f08e90" stroke-width="1.15"/>
<line x1="299.95" y1="228.23" x2="301.19" y2="224.64" stroke="#f08e90" stroke-width="1.15" stroke-linecap="round"/>
<line x1="299.95" y1="228.23" x2="298" y2="224.97" stroke="#f08e90" stroke-width="1.15" stroke-linecap="round"/>
<line x1="289.18" y1="209.56" x2="291.02" y2="212.88" stroke="#f08e90" stroke-width="1.15" stroke-linecap="round"/>
<line x1="289.18" y1="209.56" x2="292.91" y2="210.29" stroke="#f08e90" stroke-width="1.15" stroke-linecap="round"/>
<text x="202" y="188.75" font-family='"Liberation Serif", serif' font-weight="bold" fill="#2474b8" stroke="#2474b8" stroke-width="0.3" font-size="13.2" textLength="64.25" lengthAdjust="spacingAndGlyphs"><tspan font-style="italic" font-size="14.52">ε</tspan><tspan font-style="italic" font-size="10.03" dy="3.3">h</tspan><tspan dy="-3.3">= 1.89%</tspan></text>
<text x="213" y="206.25" font-family='"Liberation Serif", serif' font-weight="bold" fill="#7488c8" stroke="#7488c8" stroke-width="0.3" font-size="10.5" textLength="43.25" lengthAdjust="spacingAndGlyphs"><tspan font-style="italic" font-size="11.76">θ</tspan><tspan font-style="italic" font-size="7.98" dy="2.62">h</tspan><tspan dy="-2.62">= 150°</tspan></text>
<text x="287.7" y="184" font-family='"Liberation Serif", serif' font-weight="bold" fill="#d8222a" stroke="#d8222a" stroke-width="0.3" font-size="12.6" textLength="62.1" lengthAdjust="spacingAndGlyphs"><tspan font-style="italic" font-size="13.23">ε</tspan><tspan font-style="italic" font-size="9.58" dy="3.15">r</tspan><tspan dy="-3.15">= 2.19%</tspan></text>
<text x="301.7" y="219.7" font-family='"Liberation Serif", serif' font-weight="bold" fill="#d22a36" stroke="#d22a36" stroke-width="0.3" font-size="10.9" textLength="35.9" lengthAdjust="spacingAndGlyphs"><tspan font-style="italic" font-size="11.23">θ</tspan><tspan font-style="italic" font-size="8.28" dy="2.73">r</tspan><tspan dy="-2.73">= 60°</tspan></text>
<text x="274" y="170.3" font-family='"Liberation Serif", serif' font-size="11.8" fill="#222" text-anchor="middle">y</text>
<text x="336.7" y="233.8" font-family='"Liberation Serif", serif' font-size="13" fill="#222" text-anchor="middle">x</text>
<text x="177.6" y="177.4" font-family='"Liberation Sans", sans-serif' font-size="14" fill="#111" stroke="#111" stroke-width="0.25">g</text>
</g>
<g id="panel-h">
<polygon points="-35,0 -25,-4.6 -25,-1.05 25,-1.05 25,-4.6 35,0 25,4.6 25,1.05 -25,1.05 -25,4.6" fill="#b2bfe6" transform="translate(275 385) rotate(-180)"/>
<polygon points="-41.3,0 -30.8,-5 -30.8,-1.15 30.8,-1.15 30.8,-5 41.3,0 30.8,5 30.8,1.15 -30.8,1.15 -30.8,5" fill="#f37a82" transform="translate(275.5 383.3) rotate(-90)"/>
<line x1="275.5" y1="334" x2="275.5" y2="426" stroke="#2e2e2e" stroke-width="0.9" stroke-dasharray="1.3 0.85"/>
<line x1="235" y1="385.4" x2="327.1" y2="385.4" stroke="#2e2e2e" stroke-width="0.9" stroke-dasharray="1.3 0.85"/>
<polygon points="275.5,331.5 274,334.9 277,334.9" fill="#111"/>
<polygon points="329.6,385.4 326.2,383.9 326.2,386.9" fill="#111"/>
<line x1="290.5" y1="384.5" x2="282.9" y2="371.34" stroke="#a9aeac" stroke-width="0.7"/>
<line x1="267.7" y1="371.34" x2="260.1" y2="384.5" stroke="#a9aeac" stroke-width="0.7"/>
<line x1="260.1" y1="384.5" x2="267.7" y2="397.66" stroke="#a9aeac" stroke-width="0.7"/>
<line x1="282.9" y1="397.66" x2="290.5" y2="384.5" stroke="#a9aeac" stroke-width="0.7"/>
<circle cx="290.5" cy="384.5" r="4.6" fill="url(#gK)"/>
<circle cx="282.9" cy="371.34" r="4.6" fill="url(#gT)"/>
<circle cx="267.7" cy="371.34" r="4.6" fill="url(#gK)"/>
<circle cx="260.1" cy="384.5" r="4.6" fill="url(#gT)"/>
<circle cx="267.7" cy="397.66" r="4.6" fill="url(#gK)"/>
<circle cx="282.9" cy="397.66" r="4.6" fill="url(#gT)"/>
<path d="M299.41 383.31 A24 24 0 0 0 277.17 361.46" fill="none" stroke="#f08e90" stroke-width="1.15"/>
<line x1="299.41" y1="383.31" x2="300.71" y2="379.74" stroke="#f08e90" stroke-width="1.15" stroke-linecap="round"/>
<line x1="299.41" y1="383.31" x2="297.51" y2="380.02" stroke="#f08e90" stroke-width="1.15" stroke-linecap="round"/>
<line x1="277.17" y1="361.46" x2="280.5" y2="363.3" stroke="#f08e90" stroke-width="1.15" stroke-linecap="round"/>
<line x1="277.17" y1="361.46" x2="280.72" y2="360.1" stroke="#f08e90" stroke-width="1.15" stroke-linecap="round"/>
<text x="199.5" y="358.75" font-family='"Liberation Serif", serif' font-weight="bold" fill="#2474b8" stroke="#2474b8" stroke-width="0.3" font-size="12.4" textLength="62.5" lengthAdjust="spacingAndGlyphs"><tspan font-style="italic" font-size="13.64">ε</tspan><tspan font-style="italic" font-size="9.42" dy="3.1">h</tspan><tspan dy="-3.1">= 1.89%</tspan></text>
<text x="208.75" y="375.5" font-family='"Liberation Serif", serif' font-weight="bold" fill="#7488c8" stroke="#7488c8" stroke-width="0.3" font-size="10.2" textLength="42.5" lengthAdjust="spacingAndGlyphs"><tspan font-style="italic" font-size="11.42">θ</tspan><tspan font-style="italic" font-size="7.75" dy="2.55">h</tspan><tspan dy="-2.55">= 180°</tspan></text>
<text x="287" y="354.6" font-family='"Liberation Serif", serif' font-weight="bold" fill="#d8222a" stroke="#d8222a" stroke-width="0.3" font-size="12.4" textLength="61.5" lengthAdjust="spacingAndGlyphs"><tspan font-style="italic" font-size="13.02">ε</tspan><tspan font-style="italic" font-size="9.42" dy="3.1">r</tspan><tspan dy="-3.1">= 2.19%</tspan></text>
<text x="302.7" y="373.5" font-family='"Liberation Serif", serif' font-weight="bold" fill="#d22a36" stroke="#d22a36" stroke-width="0.3" font-size="10.9" textLength="35" lengthAdjust="spacingAndGlyphs"><tspan font-style="italic" font-size="11.23">θ</tspan><tspan font-style="italic" font-size="8.28" dy="2.73">r</tspan><tspan dy="-2.73">= 90°</tspan></text>
<text x="275.8" y="326.7" font-family='"Liberation Serif", serif' font-size="11.8" fill="#222" text-anchor="middle">y</text>
<text x="336.3" y="388" font-family='"Liberation Serif", serif' font-size="13" fill="#222" text-anchor="middle">x</text>
<text x="177.9" y="339.4" font-family='"Liberation Sans", sans-serif' font-size="14" fill="#111" stroke="#111" stroke-width="0.25">h</text>
</g>
<g id="panel-i">
<polygon points="-36.8,0 -26.8,-4.6 -26.8,-1.05 26.8,-1.05 26.8,-4.6 36.8,0 26.8,4.6 26.8,1.05 -26.8,1.05 -26.8,4.6" fill="#b2bfe6" transform="translate(277.4 548.8) rotate(-209.5)"/>
<polygon points="-42.5,0 -32,-5 -32,-1.15 32,-1.15 32,-5 42.5,0 32,5 32,1.15 -32,1.15 -32,5" fill="#f37a82" transform="translate(277.6 547.7) rotate(-120)"/>
<line x1="278" y1="494.5" x2="278" y2="590" stroke="#2e2e2e" stroke-width="0.9" stroke-dasharray="1.3 0.85"/>
<line x1="235" y1="548.25" x2="331.5" y2="548.25" stroke="#2e2e2e" stroke-width="0.9" stroke-dasharray="1.3 0.85"/>
<polygon points="278,492 276.5,495.4 279.5,495.4" fill="#111"/>
<polygon points="334,548.25 330.6,546.75 330.6,549.75" fill="#111"/>
<line x1="293" y1="548.25" x2="285.1" y2="534.57" stroke="#a9aeac" stroke-width="0.7"/>
<line x1="269.3" y1="534.57" x2="261.4" y2="548.25" stroke="#a9aeac" stroke-width="0.7"/>
<line x1="261.4" y1="548.25" x2="269.3" y2="561.93" stroke="#a9aeac" stroke-width="0.7"/>
<line x1="285.1" y1="561.93" x2="293" y2="548.25" stroke="#a9aeac" stroke-width="0.7"/>
<circle cx="293" cy="548.25" r="4.6" fill="url(#gK)"/>
<circle cx="285.1" cy="534.57" r="4.6" fill="url(#gT)"/>
<circle cx="269.3" cy="534.57" r="4.6" fill="url(#gK)"/>
<circle cx="261.4" cy="548.25" r="4.6" fill="url(#gT)"/>
<circle cx="269.3" cy="561.93" r="4.6" fill="url(#gK)"/>
<circle cx="285.1" cy="561.93" r="4.6" fill="url(#gT)"/>
<path d="M303.1 546.05 A25.2 25.2 0 0 0 267.75 525.23" fill="none" stroke="#f08e90" stroke-width="1.15"/>
<line x1="303.1" y1="546.05" x2="304.4" y2="542.48" stroke="#f08e90" stroke-width="1.15" stroke-linecap="round"/>
<line x1="303.1" y1="546.05" x2="301.2" y2="542.76" stroke="#f08e90" stroke-width="1.15" stroke-linecap="round"/>
<line x1="267.75" y1="525.23" x2="271.55" y2="525.29" stroke="#f08e90" stroke-width="1.15" stroke-linecap="round"/>
<line x1="267.75" y1="525.23" x2="270.24" y2="522.36" stroke="#f08e90" stroke-width="1.15" stroke-linecap="round"/>
<text x="187.5" y="544.5" font-family='"Liberation Serif", serif' font-weight="bold" fill="#2474b8" stroke="#2474b8" stroke-width="0.3" font-size="13.2" textLength="64.5" lengthAdjust="spacingAndGlyphs"><tspan font-style="italic" font-size="14.52">ε</tspan><tspan font-style="italic" font-size="10.03" dy="3.3">h</tspan><tspan dy="-3.3">= 1.89%</tspan></text>
<text x="196.25" y="566.25" font-family='"Liberation Serif", serif' font-weight="bold" fill="#7488c8" stroke="#7488c8" stroke-width="0.3" font-size="10.5" textLength="43.25" lengthAdjust="spacingAndGlyphs"><tspan font-style="italic" font-size="11.76">θ</tspan><tspan font-style="italic" font-size="7.98" dy="2.62">h</tspan><tspan dy="-2.62">= 210°</tspan></text>
<text x="282.8" y="507.2" font-family='"Liberation Serif", serif' font-weight="bold" fill="#d8222a" stroke="#d8222a" stroke-width="0.3" font-size="12.8" textLength="63.5" lengthAdjust="spacingAndGlyphs"><tspan font-style="italic" font-size="13.44">ε</tspan><tspan font-style="italic" font-size="9.73" dy="3.2">r</tspan><tspan dy="-3.2">= 2.19%</tspan></text>
<text x="295.5" y="525.8" font-family='"Liberation Serif", serif' font-weight="bold" fill="#d22a36" stroke="#d22a36" stroke-width="0.3" font-size="10.5" textLength="41.7" lengthAdjust="spacingAndGlyphs"><tspan font-style="italic" font-size="10.81">θ</tspan><tspan font-style="italic" font-size="7.98" dy="2.62">r</tspan><tspan dy="-2.62">= 120°</tspan></text>
<text x="278" y="486.3" font-family='"Liberation Serif", serif' font-size="11.8" fill="#222" text-anchor="middle">y</text>
<text x="341" y="551" font-family='"Liberation Serif", serif' font-size="13" fill="#222" text-anchor="middle">x</text>
<text x="179.6" y="498" font-family='"Liberation Sans", sans-serif' font-size="14" fill="#111" stroke="#111" stroke-width="0.25">i</text>
</g>
<g id="panel-j">
<polygon points="-35.4,0 -25.4,-4.6 -25.4,-1.05 25.4,-1.05 25.4,-4.6 35.4,0 25.4,4.6 25.4,1.05 -25.4,1.05 -25.4,4.6" fill="#b2bfe6" transform="translate(277.9 703.75) rotate(-242)"/>
<polygon points="-42.5,0 -32,-5 -32,-1.15 32,-1.15 32,-5 42.5,0 32,5 32,1.15 -32,1.15 -32,5" fill="#f37a82" transform="translate(277 705) rotate(-152)"/>
<line x1="278.25" y1="649" x2="278.25" y2="745" stroke="#2e2e2e" stroke-width="0.9" stroke-dasharray="1.3 0.85"/>
<line x1="233.75" y1="704.25" x2="331.5" y2="704.25" stroke="#2e2e2e" stroke-width="0.9" stroke-dasharray="1.3 0.85"/>
<polygon points="278.25,646.5 276.75,649.9 279.75,649.9" fill="#111"/>
<polygon points="334,704.25 330.6,702.75 330.6,705.75" fill="#111"/>
<line x1="293.55" y1="703.75" x2="285.65" y2="690.07" stroke="#a9aeac" stroke-width="0.7"/>
<line x1="269.85" y1="690.07" x2="261.95" y2="703.75" stroke="#a9aeac" stroke-width="0.7"/>
<line x1="261.95" y1="703.75" x2="269.85" y2="717.43" stroke="#a9aeac" stroke-width="0.7"/>
<line x1="285.65" y1="717.43" x2="293.55" y2="703.75" stroke="#a9aeac" stroke-width="0.7"/>
<circle cx="293.55" cy="703.75" r="4.6" fill="url(#gK)"/>
<circle cx="285.65" cy="690.07" r="4.6" fill="url(#gT)"/>
<circle cx="269.85" cy="690.07" r="4.6" fill="url(#gK)"/>
<circle cx="261.95" cy="703.75" r="4.6" fill="url(#gT)"/>
<circle cx="269.85" cy="717.43" r="4.6" fill="url(#gK)"/>
<circle cx="285.65" cy="717.43" r="4.6" fill="url(#gT)"/>
<path d="M304.65 701.94 A26.5 26.5 0 0 0 256.54 689.05" fill="none" stroke="#f08e90" stroke-width="1.15"/>
<line x1="304.65" y1="701.94" x2="305.95" y2="698.37" stroke="#f08e90" stroke-width="1.15" stroke-linecap="round"/>
<line x1="304.65" y1="701.94" x2="302.75" y2="698.65" stroke="#f08e90" stroke-width="1.15" stroke-linecap="round"/>
<line x1="256.54" y1="689.05" x2="259.83" y2="687.15" stroke="#f08e90" stroke-width="1.15" stroke-linecap="round"/>
<line x1="256.54" y1="689.05" x2="257.2" y2="685.31" stroke="#f08e90" stroke-width="1.15" stroke-linecap="round"/>
<text x="198.6" y="724.5" font-family='"Liberation Serif", serif' font-weight="bold" fill="#2474b8" stroke="#2474b8" stroke-width="0.3" font-size="12.9" textLength="64.8" lengthAdjust="spacingAndGlyphs"><tspan font-style="italic" font-size="14.19">ε</tspan><tspan font-style="italic" font-size="9.8" dy="3.23">h</tspan><tspan dy="-3.23">= 1.89%</tspan></text>
<text x="212" y="742" font-family='"Liberation Serif", serif' font-weight="bold" fill="#7488c8" stroke="#7488c8" stroke-width="0.3" font-size="10.2" textLength="43.5" lengthAdjust="spacingAndGlyphs"><tspan font-style="italic" font-size="11.42">θ</tspan><tspan font-style="italic" font-size="7.75" dy="2.55">h</tspan><tspan dy="-2.55">= 240°</tspan></text>
<text x="206.25" y="658.25" font-family='"Liberation Serif", serif' font-weight="bold" fill="#d8222a" stroke="#d8222a" stroke-width="0.3" font-size="13.4" textLength="64.25" lengthAdjust="spacingAndGlyphs"><tspan font-style="italic" font-size="14.07">ε</tspan><tspan font-style="italic" font-size="10.18" dy="3.35">r</tspan><tspan dy="-3.35">= 2.19%</tspan></text>
<text x="221.25" y="674.5" font-family='"Liberation Serif", serif' font-weight="bold" fill="#d22a36" stroke="#d22a36" stroke-width="0.3" font-size="10.3" textLength="42.5" lengthAdjust="spacingAndGlyphs"><tspan font-style="italic" font-size="10.61">θ</tspan><tspan font-style="italic" font-size="7.83" dy="2.58">r</tspan><tspan dy="-2.58">= 150°</tspan></text>
<text x="278.25" y="641.1" font-family='"Liberation Serif", serif' font-size="11.8" fill="#222" text-anchor="middle">y</text>
<text x="342" y="706.8" font-family='"Liberation Serif", serif' font-size="13" fill="#222" text-anchor="middle">x</text>
<text x="178.3" y="642" font-family='"Liberation Sans", sans-serif' font-size="14" fill="#111" stroke="#111" stroke-width="0.25">j</text>
</g>
<g id="panel-k">
<circle cx="451.8" cy="71.8" r="5.14" fill="none" stroke="#cfeaf0" stroke-width="0.5" stroke-dasharray="1 0.7"/>
<circle cx="451.8" cy="71.8" r="10.27" fill="none" stroke="#bdbdbd" stroke-width="0.65"/>
<circle cx="451.8" cy="71.8" r="15.41" fill="none" stroke="#cfeaf0" stroke-width="0.5" stroke-dasharray="1 0.7"/>
<circle cx="451.8" cy="71.8" r="20.55" fill="none" stroke="#bdbdbd" stroke-width="0.65"/>
<circle cx="451.8" cy="71.8" r="25.68" fill="none" stroke="#cfeaf0" stroke-width="0.5" stroke-dasharray="1 0.7"/>
<circle cx="451.8" cy="71.8" r="30.82" fill="none" stroke="#bdbdbd" stroke-width="0.65"/>
<circle cx="451.8" cy="71.8" r="35.95" fill="none" stroke="#cfeaf0" stroke-width="0.5" stroke-dasharray="1 0.7"/>
<circle cx="451.8" cy="71.8" r="41.09" fill="none" stroke="#bdbdbd" stroke-width="0.65"/>
<circle cx="451.8" cy="71.8" r="46.23" fill="none" stroke="#cfeaf0" stroke-width="0.5" stroke-dasharray="1 0.7"/>
<circle cx="451.8" cy="71.8" r="51.36" fill="none" stroke="#bdbdbd" stroke-width="0.65"/>
<line x1="451.8" y1="71.8" x2="508.3" y2="71.8" stroke="#bdbdbd" stroke-width="0.65"/>
<line x1="451.8" y1="71.8" x2="500.73" y2="43.55" stroke="#bdbdbd" stroke-width="0.65"/>
<line x1="451.8" y1="71.8" x2="480.05" y2="22.87" stroke="#bdbdbd" stroke-width="0.65"/>
<line x1="451.8" y1="71.8" x2="451.8" y2="15.3" stroke="#bdbdbd" stroke-width="0.65"/>
<line x1="451.8" y1="71.8" x2="423.55" y2="22.87" stroke="#bdbdbd" stroke-width="0.65"/>
<line x1="451.8" y1="71.8" x2="402.87" y2="43.55" stroke="#bdbdbd" stroke-width="0.65"/>
<line x1="451.8" y1="71.8" x2="395.3" y2="71.8" stroke="#bdbdbd" stroke-width="0.65"/>
<line x1="451.8" y1="71.8" x2="402.87" y2="100.05" stroke="#bdbdbd" stroke-width="0.65"/>
<line x1="451.8" y1="71.8" x2="423.55" y2="120.73" stroke="#bdbdbd" stroke-width="0.65"/>
<line x1="451.8" y1="71.8" x2="451.8" y2="128.3" stroke="#bdbdbd" stroke-width="0.65"/>
<line x1="451.8" y1="71.8" x2="480.05" y2="120.73" stroke="#bdbdbd" stroke-width="0.65"/>
<line x1="451.8" y1="71.8" x2="500.73" y2="100.05" stroke="#bdbdbd" stroke-width="0.65"/>
<line x1="451.8" y1="71.8" x2="508.3" y2="71.8" stroke="#f3c2cc" stroke-width="0.6" stroke-dasharray="1 1" opacity="0.6"/>
<line x1="451.8" y1="71.8" x2="395.3" y2="71.8" stroke="#f3c2cc" stroke-width="0.6" stroke-dasharray="1 1" opacity="0.6"/>
<circle cx="451.8" cy="71.8" r="56.5" fill="none" stroke="#868686" stroke-width="1"/>
<text x="511.3" y="73.46" font-family='"Liberation Sans", sans-serif' font-size="4.6" fill="#4c4c4c" text-anchor="middle">0</text>
<text x="505.75" y="42.31" font-family='"Liberation Sans", sans-serif' font-size="4.6" fill="#4c4c4c" text-anchor="middle">30</text>
<text x="482.95" y="19.5" font-family='"Liberation Sans", sans-serif' font-size="4.6" fill="#4c4c4c" text-anchor="middle">60</text>
<text x="451.8" y="12.36" font-family='"Liberation Sans", sans-serif' font-size="4.6" fill="#4c4c4c" text-anchor="middle">90</text>
<text x="420.65" y="19.5" font-family='"Liberation Sans", sans-serif' font-size="4.6" fill="#4c4c4c" text-anchor="middle">120</text>
<text x="397.85" y="42.31" font-family='"Liberation Sans", sans-serif' font-size="4.6" fill="#4c4c4c" text-anchor="middle">150</text>
<text x="390.7" y="73.46" font-family='"Liberation Sans", sans-serif' font-size="4.6" fill="#4c4c4c" text-anchor="middle">180</text>
<text x="397.85" y="104.61" font-family='"Liberation Sans", sans-serif' font-size="4.6" fill="#4c4c4c" text-anchor="middle">210</text>
<text x="420.65" y="127.41" font-family='"Liberation Sans", sans-serif' font-size="4.6" fill="#4c4c4c" text-anchor="middle">240</text>
<text x="451.8" y="134.56" font-family='"Liberation Sans", sans-serif' font-size="4.6" fill="#4c4c4c" text-anchor="middle">270</text>
<text x="482.95" y="127.41" font-family='"Liberation Sans", sans-serif' font-size="4.6" fill="#4c4c4c" text-anchor="middle">300</text>
<text x="505.75" y="104.61" font-family='"Liberation Sans", sans-serif' font-size="4.6" fill="#4c4c4c" text-anchor="middle">330</text>
<path d="M498.8 71.8 L498.76 71.39 L498.65 70.98 L498.47 70.58 L498.22 70.18 L497.9 69.79 L497.5 69.4 L497.04 69.03 L496.51 68.67 L495.92 68.33 L495.26 68 L494.54 67.68 L493.76 67.39 L492.93 67.11 L492.04 66.86 L491.1 66.63 L490.12 66.41 L489.09 66.23 L488.02 66.06 L486.91 65.92 L485.77 65.81 L484.6 65.72 L483.41 65.66 L482.19 65.62 L480.95 65.6 L479.7 65.62 L478.43 65.65 L477.16 65.71 L475.89 65.79 L474.62 65.9 L473.35 66.03 L472.09 66.17 L470.85 66.34 L469.62 66.52 L468.41 66.72 L467.22 66.94 L466.06 67.17 L464.93 67.41 L463.83 67.66 L462.77 67.91 L461.75 68.18 L460.77 68.45 L459.83 68.72 L458.94 68.99 L458.1 69.25 L457.31 69.52 L456.56 69.78 L455.87 70.03 L455.24 70.27 L454.66 70.5 L454.13 70.71 L453.66 70.91 L453.24 71.1 L452.88 71.26 L452.58 71.4 L452.32 71.53 L452.12 71.63 L451.97 71.71 L451.87 71.76 L451.82 71.79 L451.8 71.8 L451.82 71.79 L451.87 71.76 L451.96 71.7 L452.1 71.61 L452.28 71.49 L452.5 71.34 L452.77 71.16 L453.08 70.94 L453.43 70.68 L453.83 70.38 L454.26 70.04 L454.73 69.67 L455.24 69.25 L455.78 68.8 L456.35 68.31 L456.96 67.77 L457.59 67.2 L458.24 66.58 L458.92 65.93 L459.61 65.24 L460.33 64.52 L461.05 63.76 L461.79 62.96 L462.53 62.13 L463.28 61.28 L464.03 60.39 L464.78 59.48 L465.53 58.54 L466.27 57.58 L467 56.6 L467.71 55.61 L468.41 54.6 L469.1 53.57 L469.76 52.54 L470.4 51.51 L471.01 50.47 L471.59 49.43 L472.15 48.39 L472.67 47.36 L473.16 46.34 L473.62 45.34 L474.03 44.34 L474.41 43.37 L474.75 42.43 L475.05 41.5 L475.31 40.61 L475.52 39.74 L475.69 38.92 L475.82 38.13 L475.9 37.38 L475.95 36.67 L475.94 36.01 L475.9 35.39 L475.81 34.83 L475.68 34.31 L475.51 33.85 L475.3 33.45 L475.05 33.1 L474.76 32.82 L474.44 32.59 L474.08 32.42 L473.69 32.32 L473.26 32.27 L472.81 32.29 L472.32 32.37 L471.81 32.52 L471.28 32.72 L470.73 32.99 L470.15 33.32 L469.56 33.71 L468.95 34.16 L468.33 34.67 L467.7 35.23 L467.06 35.85 L466.41 36.52 L465.76 37.24 L465.11 38 L464.46 38.82 L463.81 39.67 L463.17 40.57 L462.53 41.51 L461.9 42.47 L461.28 43.47 L460.67 44.5 L460.08 45.55 L459.5 46.62 L458.94 47.71 L458.39 48.81 L457.87 49.92 L457.36 51.04 L456.88 52.16 L456.42 53.28 L455.98 54.39 L455.56 55.5 L455.17 56.59 L454.8 57.67 L454.46 58.73 L454.14 59.76 L453.84 60.77 L453.57 61.75 L453.32 62.7 L453.1 63.61 L452.89 64.49 L452.71 65.32 L452.55 66.11 L452.41 66.85 L452.28 67.55 L452.18 68.19 L452.09 68.79 L452.02 69.33 L451.96 69.82 L451.91 70.26 L451.87 70.64 L451.84 70.96 L451.82 71.23 L451.81 71.45 L451.8 71.61 L451.8 71.72 L451.8 71.78 L451.8 71.8 L451.8 71.79 L451.8 71.74 L451.8 71.66 L451.79 71.54 L451.78 71.39 L451.77 71.19 L451.75 70.95 L451.72 70.68 L451.69 70.36 L451.64 70 L451.59 69.61 L451.52 69.17 L451.45 68.7 L451.36 68.2 L451.25 67.65 L451.14 67.08 L451 66.47 L450.86 65.84 L450.69 65.17 L450.51 64.48 L450.31 63.77 L450.1 63.03 L449.86 62.28 L449.61 61.51 L449.34 60.72 L449.06 59.93 L448.76 59.12 L448.44 58.31 L448.1 57.5 L447.75 56.68 L447.38 55.87 L447 55.06 L446.6 54.25 L446.19 53.46 L445.77 52.68 L445.34 51.92 L444.9 51.17 L444.45 50.44 L443.99 49.74 L443.52 49.06 L443.05 48.4 L442.58 47.78 L442.1 47.19 L441.63 46.63 L441.16 46.1 L440.68 45.61 L440.22 45.17 L439.76 44.76 L439.31 44.39 L438.86 44.06 L438.43 43.78 L438.01 43.54 L437.61 43.34 L437.22 43.19 L436.85 43.08 L436.5 43.03 L436.17 43.01 L435.86 43.04 L435.57 43.12 L435.31 43.24 L435.08 43.41 L434.87 43.62 L434.68 43.87 L434.53 44.16 L434.41 44.5 L434.31 44.87 L434.25 45.28 L434.22 45.73 L434.21 46.21 L434.24 46.73 L434.31 47.27 L434.4 47.85 L434.52 48.45 L434.68 49.08 L434.87 49.73 L435.08 50.41 L435.33 51.1 L435.61 51.8 L435.91 52.52 L436.24 53.26 L436.6 54 L436.98 54.75 L437.38 55.51 L437.81 56.26 L438.26 57.02 L438.72 57.77 L439.2 58.53 L439.7 59.27 L440.21 60.01 L440.73 60.73 L441.26 61.44 L441.8 62.14 L442.34 62.83 L442.89 63.49 L443.44 64.14 L443.98 64.76 L444.52 65.36 L445.06 65.94 L445.59 66.5 L446.11 67.02 L446.62 67.53 L447.11 68 L447.58 68.45 L448.04 68.87 L448.48 69.25 L448.9 69.61 L449.29 69.95 L449.66 70.25 L450.01 70.52 L450.32 70.77 L450.61 70.98 L450.87 71.17 L451.09 71.33 L451.29 71.47 L451.45 71.58 L451.58 71.66 L451.68 71.73 L451.75 71.77 L451.79 71.79 L451.8 71.8 L451.78 71.79 L451.73 71.76 L451.62 71.7 L451.47 71.62 L451.27 71.52 L451.01 71.4 L450.7 71.25 L450.33 71.08 L449.91 70.9 L449.43 70.69 L448.89 70.47 L448.3 70.24 L447.65 69.99 L446.95 69.74 L446.19 69.48 L445.38 69.21 L444.52 68.93 L443.61 68.66 L442.66 68.38 L441.66 68.11 L440.62 67.84 L439.54 67.58 L438.42 67.32 L437.27 67.08 L436.08 66.85 L434.88 66.63 L433.64 66.42 L432.39 66.23 L431.12 66.07 L429.84 65.92 L428.55 65.79 L427.25 65.68 L425.95 65.59 L424.66 65.53 L423.37 65.5 L422.09 65.49 L420.83 65.5 L419.59 65.54 L418.37 65.6 L417.18 65.69 L416.01 65.81 L414.89 65.95 L413.8 66.12 L412.75 66.31 L411.74 66.53 L410.79 66.76 L409.88 67.02 L409.03 67.31 L408.24 67.61 L407.51 67.93 L406.84 68.26 L406.23 68.61 L405.69 68.98 L405.22 69.36 L404.82 69.75 L404.49 70.15 L404.23 70.55 L404.05 70.97 L403.94 71.38 L403.9 71.8 L403.94 72.22 L404.05 72.63 L404.23 73.05 L404.49 73.45 L404.82 73.85 L405.22 74.24 L405.69 74.62 L406.23 74.99 L406.84 75.34 L407.51 75.67 L408.24 75.99 L409.03 76.29 L409.88 76.58 L410.79 76.84 L411.74 77.07 L412.75 77.29 L413.8 77.48 L414.89 77.65 L416.01 77.79 L417.18 77.91 L418.37 78 L419.59 78.06 L420.83 78.1 L422.09 78.11 L423.37 78.1 L424.66 78.07 L425.95 78.01 L427.25 77.92 L428.55 77.81 L429.84 77.68 L431.12 77.53 L432.39 77.37 L433.64 77.18 L434.88 76.97 L436.08 76.75 L437.27 76.52 L438.42 76.28 L439.54 76.02 L440.62 75.76 L441.66 75.49 L442.66 75.22 L443.61 74.94 L444.52 74.67 L445.38 74.39 L446.19 74.12 L446.95 73.86 L447.65 73.61 L448.3 73.36 L448.89 73.13 L449.43 72.91 L449.91 72.7 L450.33 72.52 L450.7 72.35 L451.01 72.2 L451.27 72.08 L451.47 71.98 L451.62 71.9 L451.73 71.84 L451.78 71.81 L451.8 71.8 L451.78 71.81 L451.73 71.84 L451.64 71.9 L451.51 71.98 L451.33 72.1 L451.12 72.24 L450.86 72.42 L450.56 72.64 L450.21 72.89 L449.83 73.18 L449.41 73.5 L448.95 73.87 L448.46 74.27 L447.94 74.71 L447.38 75.19 L446.8 75.71 L446.19 76.27 L445.55 76.86 L444.89 77.49 L444.22 78.16 L443.53 78.87 L442.82 79.6 L442.11 80.37 L441.39 81.18 L440.66 82.01 L439.93 82.87 L439.2 83.75 L438.48 84.66 L437.76 85.59 L437.06 86.54 L436.36 87.51 L435.68 88.49 L435.02 89.48 L434.38 90.48 L433.76 91.49 L433.17 92.5 L432.6 93.5 L432.06 94.51 L431.55 95.51 L431.08 96.5 L430.64 97.47 L430.23 98.43 L429.86 99.38 L429.54 100.3 L429.25 101.19 L429 102.06 L428.79 102.9 L428.62 103.7 L428.5 104.47 L428.42 105.2 L428.38 105.88 L428.38 106.52 L428.42 107.12 L428.51 107.67 L428.63 108.17 L428.8 108.61 L429 109 L429.24 109.34 L429.52 109.62 L429.84 109.84 L430.19 110 L430.57 110.1 L430.98 110.15 L431.42 110.13 L431.89 110.05 L432.38 109.91 L432.9 109.71 L433.44 109.45 L434 109.13 L434.57 108.75 L435.16 108.31 L435.76 107.82 L436.37 107.28 L437 106.68 L437.62 106.03 L438.25 105.33 L438.89 104.58 L439.52 103.8 L440.15 102.96 L440.77 102.09 L441.39 101.19 L442 100.25 L442.6 99.28 L443.19 98.29 L443.77 97.27 L444.33 96.23 L444.88 95.17 L445.41 94.1 L445.91 93.02 L446.4 91.94 L446.87 90.85 L447.32 89.77 L447.75 88.68 L448.15 87.61 L448.53 86.55 L448.89 85.51 L449.22 84.48 L449.53 83.48 L449.82 82.5 L450.08 81.55 L450.32 80.63 L450.54 79.74 L450.74 78.9 L450.92 78.09 L451.07 77.32 L451.21 76.6 L451.33 75.92 L451.43 75.3 L451.52 74.72 L451.59 74.19 L451.65 73.72 L451.7 73.3 L451.73 72.93 L451.76 72.61 L451.78 72.35 L451.79 72.14 L451.8 71.98 L451.8 71.88 L451.8 71.82 L451.8 71.8 L451.8 71.81 L451.8 71.86 L451.8 71.93 L451.81 72.05 L451.82 72.2 L451.83 72.39 L451.85 72.62 L451.88 72.89 L451.91 73.2 L451.95 73.54 L452 73.93 L452.07 74.35 L452.14 74.81 L452.23 75.3 L452.33 75.83 L452.44 76.38 L452.57 76.97 L452.72 77.59 L452.88 78.24 L453.05 78.91 L453.25 79.6 L453.45 80.31 L453.68 81.04 L453.92 81.79 L454.18 82.55 L454.46 83.33 L454.76 84.11 L455.07 84.9 L455.39 85.69 L455.73 86.48 L456.09 87.27 L456.46 88.06 L456.85 88.84 L457.24 89.61 L457.65 90.37 L458.07 91.11 L458.5 91.84 L458.94 92.54 L459.39 93.23 L459.84 93.89 L460.3 94.52 L460.75 95.13 L461.22 95.7 L461.68 96.25 L462.14 96.75 L462.59 97.23 L463.05 97.66 L463.49 98.06 L463.93 98.42 L464.36 98.74 L464.78 99.01 L465.19 99.25 L465.58 99.44 L465.96 99.58 L466.32 99.69 L466.66 99.74 L466.98 99.76 L467.28 99.73 L467.56 99.65 L467.81 99.53 L468.04 99.37 L468.24 99.17 L468.42 98.92 L468.57 98.64 L468.69 98.31 L468.78 97.95 L468.84 97.55 L468.88 97.12 L468.88 96.65 L468.85 96.15 L468.79 95.62 L468.7 95.06 L468.58 94.47 L468.42 93.86 L468.24 93.23 L468.03 92.58 L467.79 91.91 L467.52 91.22 L467.23 90.52 L466.91 89.81 L466.56 89.08 L466.19 88.36 L465.8 87.62 L465.39 86.89 L464.95 86.15 L464.5 85.42 L464.03 84.69 L463.55 83.97 L463.05 83.25 L462.55 82.55 L462.03 81.86 L461.51 81.18 L460.98 80.51 L460.45 79.87 L459.92 79.24 L459.39 78.64 L458.87 78.05 L458.34 77.49 L457.83 76.95 L457.33 76.44 L456.83 75.95 L456.36 75.49 L455.89 75.06 L455.45 74.65 L455.02 74.27 L454.62 73.92 L454.23 73.6 L453.87 73.31 L453.54 73.04 L453.23 72.8 L452.96 72.59 L452.71 72.41 L452.49 72.25 L452.3 72.12 L452.14 72.02 L452.01 71.93 L451.91 71.87 L451.85 71.83 L451.81 71.81 L451.8 71.8 L451.82 71.81 L451.87 71.84 L451.97 71.89 L452.12 71.97 L452.32 72.07 L452.58 72.2 L452.88 72.34 L453.24 72.5 L453.66 72.69 L454.13 72.89 L454.66 73.1 L455.24 73.33 L455.87 73.57 L456.56 73.82 L457.31 74.08 L458.1 74.35 L458.94 74.61 L459.83 74.88 L460.77 75.15 L461.75 75.42 L462.77 75.69 L463.83 75.94 L464.93 76.19 L466.06 76.43 L467.22 76.66 L468.41 76.88 L469.62 77.08 L470.85 77.26 L472.09 77.43 L473.35 77.57 L474.62 77.7 L475.89 77.81 L477.16 77.89 L478.43 77.95 L479.7 77.98 L480.95 78 L482.19 77.98 L483.41 77.94 L484.6 77.88 L485.77 77.79 L486.91 77.68 L488.02 77.54 L489.09 77.37 L490.12 77.19 L491.1 76.97 L492.04 76.74 L492.93 76.49 L493.76 76.21 L494.54 75.92 L495.26 75.6 L495.92 75.27 L496.51 74.93 L497.04 74.57 L497.5 74.2 L497.9 73.81 L498.22 73.42 L498.47 73.02 L498.65 72.62 L498.76 72.21 L498.8 71.8Z" fill="none" stroke="#df3040" stroke-width="1.8" stroke-linejoin="round"/>
<circle cx="488.1" cy="4.3" r="0.85" fill="#df3040"/>
<text x="497.3" y="6.28" font-family='"Liberation Sans", sans-serif' font-size="5.5" fill="#4a4a4a" textLength="19.6" lengthAdjust="spacingAndGlyphs"><tspan font-style="italic">θ</tspan><tspan font-size="3.3" dy="1">r</tspan><tspan dy="-1"> = 30°</tspan></text>
<text x="370.6" y="11.2" font-family='"Liberation Sans", sans-serif' font-size="14" fill="#111" stroke="#111" stroke-width="0.25">k</text>
</g>
<g id="panel-l">
<circle cx="449.5" cy="232" r="5.13" fill="none" stroke="#cfeaf0" stroke-width="0.5" stroke-dasharray="1 0.7"/>
<circle cx="449.5" cy="232" r="10.25" fill="none" stroke="#bdbdbd" stroke-width="0.65"/>
<circle cx="449.5" cy="232" r="15.38" fill="none" stroke="#cfeaf0" stroke-width="0.5" stroke-dasharray="1 0.7"/>
<circle cx="449.5" cy="232" r="20.51" fill="none" stroke="#bdbdbd" stroke-width="0.65"/>
<circle cx="449.5" cy="232" r="25.64" fill="none" stroke="#cfeaf0" stroke-width="0.5" stroke-dasharray="1 0.7"/>
<circle cx="449.5" cy="232" r="30.76" fill="none" stroke="#bdbdbd" stroke-width="0.65"/>
<circle cx="449.5" cy="232" r="35.89" fill="none" stroke="#cfeaf0" stroke-width="0.5" stroke-dasharray="1 0.7"/>
<circle cx="449.5" cy="232" r="41.02" fill="none" stroke="#bdbdbd" stroke-width="0.65"/>
<circle cx="449.5" cy="232" r="46.15" fill="none" stroke="#cfeaf0" stroke-width="0.5" stroke-dasharray="1 0.7"/>
<circle cx="449.5" cy="232" r="51.27" fill="none" stroke="#bdbdbd" stroke-width="0.65"/>
<line x1="449.5" y1="232" x2="505.9" y2="232" stroke="#bdbdbd" stroke-width="0.65"/>
<line x1="449.5" y1="232" x2="498.34" y2="203.8" stroke="#bdbdbd" stroke-width="0.65"/>
<line x1="449.5" y1="232" x2="477.7" y2="183.16" stroke="#bdbdbd" stroke-width="0.65"/>
<line x1="449.5" y1="232" x2="449.5" y2="175.6" stroke="#bdbdbd" stroke-width="0.65"/>
<line x1="449.5" y1="232" x2="421.3" y2="183.16" stroke="#bdbdbd" stroke-width="0.65"/>
<line x1="449.5" y1="232" x2="400.66" y2="203.8" stroke="#bdbdbd" stroke-width="0.65"/>
<line x1="449.5" y1="232" x2="393.1" y2="232" stroke="#bdbdbd" stroke-width="0.65"/>
<line x1="449.5" y1="232" x2="400.66" y2="260.2" stroke="#bdbdbd" stroke-width="0.65"/>
<line x1="449.5" y1="232" x2="421.3" y2="280.84" stroke="#bdbdbd" stroke-width="0.65"/>
<line x1="449.5" y1="232" x2="449.5" y2="288.4" stroke="#bdbdbd" stroke-width="0.65"/>
<line x1="449.5" y1="232" x2="477.7" y2="280.84" stroke="#bdbdbd" stroke-width="0.65"/>
<line x1="449.5" y1="232" x2="498.34" y2="260.2" stroke="#bdbdbd" stroke-width="0.65"/>
<line x1="449.5" y1="232" x2="505.9" y2="232" stroke="#f3c2cc" stroke-width="0.6" stroke-dasharray="1 1" opacity="0.6"/>
<line x1="449.5" y1="232" x2="393.1" y2="232" stroke="#f3c2cc" stroke-width="0.6" stroke-dasharray="1 1" opacity="0.6"/>
<circle cx="449.5" cy="232" r="56.4" fill="none" stroke="#868686" stroke-width="1"/>
<text x="508.9" y="233.66" font-family='"Liberation Sans", sans-serif' font-size="4.6" fill="#4c4c4c" text-anchor="middle">0</text>
<text x="503.37" y="202.56" font-family='"Liberation Sans", sans-serif' font-size="4.6" fill="#4c4c4c" text-anchor="middle">30</text>
<text x="480.6" y="179.79" font-family='"Liberation Sans", sans-serif' font-size="4.6" fill="#4c4c4c" text-anchor="middle">60</text>
<text x="449.5" y="172.66" font-family='"Liberation Sans", sans-serif' font-size="4.6" fill="#4c4c4c" text-anchor="middle">90</text>
<text x="418.4" y="179.79" font-family='"Liberation Sans", sans-serif' font-size="4.6" fill="#4c4c4c" text-anchor="middle">120</text>
<text x="395.63" y="202.56" font-family='"Liberation Sans", sans-serif' font-size="4.6" fill="#4c4c4c" text-anchor="middle">150</text>
<text x="388.5" y="233.66" font-family='"Liberation Sans", sans-serif' font-size="4.6" fill="#4c4c4c" text-anchor="middle">180</text>
<text x="395.63" y="264.76" font-family='"Liberation Sans", sans-serif' font-size="4.6" fill="#4c4c4c" text-anchor="middle">210</text>
<text x="418.4" y="287.52" font-family='"Liberation Sans", sans-serif' font-size="4.6" fill="#4c4c4c" text-anchor="middle">240</text>
<text x="449.5" y="294.66" font-family='"Liberation Sans", sans-serif' font-size="4.6" fill="#4c4c4c" text-anchor="middle">270</text>
<text x="480.6" y="287.52" font-family='"Liberation Sans", sans-serif' font-size="4.6" fill="#4c4c4c" text-anchor="middle">300</text>
<text x="503.37" y="264.76" font-family='"Liberation Sans", sans-serif' font-size="4.6" fill="#4c4c4c" text-anchor="middle">330</text>
<path d="M488.4 232 L488.37 231.66 L488.28 231.32 L488.13 230.99 L487.92 230.66 L487.65 230.33 L487.33 230.02 L486.94 229.71 L486.5 229.41 L486.01 229.13 L485.47 228.85 L484.87 228.59 L484.23 228.35 L483.54 228.12 L482.81 227.91 L482.03 227.72 L481.22 227.54 L480.36 227.39 L479.48 227.25 L478.56 227.14 L477.62 227.04 L476.65 226.97 L475.66 226.92 L474.65 226.88 L473.62 226.87 L472.59 226.88 L471.54 226.91 L470.49 226.96 L469.44 227.03 L468.38 227.12 L467.34 227.22 L466.29 227.34 L465.26 227.48 L464.25 227.63 L463.24 227.8 L462.26 227.98 L461.3 228.17 L460.37 228.36 L459.46 228.57 L458.58 228.78 L457.74 229 L456.92 229.22 L456.15 229.45 L455.41 229.67 L454.71 229.89 L454.06 230.11 L453.44 230.33 L452.87 230.53 L452.35 230.73 L451.86 230.92 L451.43 231.1 L451.04 231.27 L450.69 231.42 L450.4 231.55 L450.14 231.67 L449.93 231.77 L449.77 231.86 L449.64 231.92 L449.56 231.97 L449.51 231.99 L449.5 232 L449.52 231.99 L449.58 231.95 L449.68 231.89 L449.83 231.79 L450.03 231.66 L450.28 231.49 L450.57 231.29 L450.92 231.04 L451.31 230.76 L451.74 230.43 L452.22 230.06 L452.74 229.64 L453.3 229.19 L453.9 228.68 L454.53 228.14 L455.2 227.55 L455.9 226.91 L456.62 226.23 L457.37 225.51 L458.14 224.75 L458.93 223.95 L459.73 223.11 L460.54 222.23 L461.37 221.32 L462.19 220.37 L463.02 219.39 L463.85 218.38 L464.68 217.34 L465.49 216.28 L466.3 215.2 L467.09 214.1 L467.86 212.98 L468.62 211.85 L469.35 210.71 L470.06 209.57 L470.73 208.42 L471.38 207.27 L471.99 206.12 L472.57 204.99 L473.11 203.86 L473.62 202.75 L474.08 201.65 L474.5 200.58 L474.87 199.53 L475.2 198.51 L475.48 197.52 L475.72 196.57 L475.91 195.65 L476.05 194.78 L476.15 193.95 L476.19 193.16 L476.19 192.43 L476.14 191.75 L476.04 191.13 L475.9 190.56 L475.71 190.05 L475.48 189.61 L475.2 189.23 L474.88 188.91 L474.52 188.66 L474.13 188.47 L473.69 188.35 L473.22 188.31 L472.72 188.33 L472.19 188.42 L471.63 188.58 L471.04 188.81 L470.42 189.1 L469.79 189.47 L469.13 189.9 L468.46 190.39 L467.78 190.95 L467.08 191.58 L466.37 192.26 L465.66 193 L464.94 193.79 L464.22 194.64 L463.5 195.54 L462.78 196.49 L462.06 197.48 L461.36 198.51 L460.66 199.58 L459.98 200.69 L459.31 201.82 L458.65 202.98 L458.01 204.17 L457.39 205.37 L456.79 206.59 L456.21 207.82 L455.65 209.05 L455.11 210.29 L454.6 211.53 L454.12 212.76 L453.66 213.98 L453.23 215.19 L452.82 216.38 L452.44 217.55 L452.09 218.7 L451.76 219.81 L451.46 220.89 L451.18 221.94 L450.93 222.95 L450.71 223.92 L450.51 224.84 L450.33 225.71 L450.17 226.53 L450.04 227.3 L449.92 228.01 L449.82 228.67 L449.74 229.27 L449.67 229.81 L449.62 230.29 L449.58 230.71 L449.55 231.07 L449.53 231.37 L449.51 231.61 L449.51 231.79 L449.5 231.91 L449.5 231.98 L449.5 232 L449.5 231.99 L449.5 231.94 L449.5 231.85 L449.49 231.72 L449.48 231.54 L449.46 231.32 L449.44 231.06 L449.41 230.75 L449.37 230.4 L449.33 230.01 L449.27 229.57 L449.19 229.09 L449.11 228.57 L449.01 228.01 L448.9 227.41 L448.76 226.77 L448.62 226.1 L448.45 225.39 L448.27 224.65 L448.07 223.89 L447.85 223.1 L447.61 222.28 L447.35 221.45 L447.08 220.59 L446.78 219.72 L446.46 218.84 L446.13 217.95 L445.77 217.05 L445.4 216.15 L445.01 215.24 L444.6 214.34 L444.18 213.44 L443.74 212.55 L443.29 211.67 L442.82 210.81 L442.34 209.96 L441.85 209.13 L441.35 208.33 L440.84 207.54 L440.32 206.79 L439.8 206.07 L439.28 205.38 L438.75 204.72 L438.23 204.1 L437.7 203.52 L437.18 202.98 L436.66 202.48 L436.15 202.02 L435.65 201.62 L435.16 201.25 L434.68 200.94 L434.22 200.67 L433.77 200.46 L433.34 200.29 L432.93 200.17 L432.54 200.11 L432.18 200.09 L431.83 200.13 L431.52 200.21 L431.23 200.35 L430.96 200.53 L430.73 200.76 L430.53 201.04 L430.36 201.37 L430.22 201.74 L430.12 202.15 L430.05 202.61 L430.01 203.1 L430.01 203.64 L430.04 204.21 L430.11 204.82 L430.21 205.45 L430.35 206.12 L430.53 206.82 L430.73 207.54 L430.97 208.29 L431.25 209.05 L431.55 209.84 L431.89 210.64 L432.26 211.45 L432.65 212.27 L433.07 213.1 L433.52 213.94 L433.99 214.78 L434.49 215.62 L435 216.45 L435.54 217.29 L436.09 218.11 L436.65 218.93 L437.23 219.73 L437.82 220.52 L438.42 221.3 L439.02 222.05 L439.62 222.79 L440.23 223.51 L440.83 224.2 L441.44 224.87 L442.03 225.51 L442.62 226.12 L443.19 226.71 L443.75 227.26 L444.3 227.79 L444.83 228.28 L445.34 228.75 L445.82 229.18 L446.29 229.58 L446.72 229.95 L447.13 230.28 L447.51 230.58 L447.86 230.85 L448.18 231.09 L448.47 231.3 L448.72 231.48 L448.93 231.63 L449.11 231.75 L449.26 231.85 L449.37 231.92 L449.44 231.97 L449.49 231.99 L449.5 232 L449.49 231.99 L449.44 231.97 L449.36 231.92 L449.24 231.86 L449.07 231.78 L448.86 231.68 L448.61 231.56 L448.32 231.42 L447.98 231.27 L447.59 231.11 L447.16 230.93 L446.68 230.75 L446.16 230.55 L445.6 230.34 L444.99 230.13 L444.34 229.92 L443.65 229.7 L442.92 229.47 L442.15 229.25 L441.35 229.03 L440.51 228.82 L439.64 228.61 L438.74 228.4 L437.82 228.2 L436.87 228.02 L435.9 227.84 L434.91 227.68 L433.9 227.53 L432.88 227.39 L431.85 227.27 L430.81 227.17 L429.77 227.08 L428.73 227.01 L427.68 226.96 L426.65 226.93 L425.62 226.92 L424.61 226.94 L423.61 226.97 L422.63 227.02 L421.67 227.09 L420.74 227.19 L419.83 227.3 L418.95 227.43 L418.11 227.59 L417.3 227.76 L416.54 227.95 L415.81 228.16 L415.13 228.39 L414.49 228.63 L413.9 228.89 L413.36 229.16 L412.88 229.44 L412.44 229.73 L412.06 230.04 L411.74 230.35 L411.48 230.67 L411.27 231 L411.12 231.33 L411.03 231.66 L411 232 L411.03 232.34 L411.12 232.67 L411.27 233 L411.48 233.33 L411.74 233.65 L412.06 233.96 L412.44 234.27 L412.88 234.56 L413.36 234.84 L413.9 235.11 L414.49 235.37 L415.13 235.61 L415.81 235.84 L416.54 236.05 L417.3 236.24 L418.11 236.41 L418.95 236.57 L419.83 236.7 L420.74 236.81 L421.67 236.91 L422.63 236.98 L423.61 237.03 L424.61 237.06 L425.62 237.08 L426.65 237.07 L427.68 237.04 L428.73 236.99 L429.77 236.92 L430.81 236.83 L431.85 236.73 L432.88 236.61 L433.9 236.47 L434.91 236.32 L435.9 236.16 L436.87 235.98 L437.82 235.8 L438.74 235.6 L439.64 235.39 L440.51 235.18 L441.35 234.97 L442.15 234.75 L442.92 234.53 L443.65 234.3 L444.34 234.08 L444.99 233.87 L445.6 233.66 L446.16 233.45 L446.68 233.25 L447.16 233.07 L447.59 232.89 L447.98 232.73 L448.32 232.58 L448.61 232.44 L448.86 232.32 L449.07 232.22 L449.24 232.14 L449.36 232.08 L449.44 232.03 L449.49 232.01 L449.5 232 L449.48 232.01 L449.42 232.05 L449.32 232.11 L449.16 232.21 L448.96 232.35 L448.7 232.52 L448.4 232.73 L448.05 232.98 L447.65 233.27 L447.2 233.61 L446.71 233.99 L446.17 234.42 L445.6 234.89 L444.98 235.4 L444.33 235.96 L443.65 236.57 L442.94 237.22 L442.19 237.92 L441.43 238.66 L440.64 239.44 L439.83 240.26 L439.01 241.12 L438.17 242.02 L437.33 242.96 L436.48 243.93 L435.62 244.94 L434.77 245.97 L433.93 247.04 L433.09 248.12 L432.26 249.24 L431.45 250.37 L430.66 251.51 L429.88 252.67 L429.13 253.84 L428.41 255.02 L427.71 256.19 L427.05 257.37 L426.42 258.55 L425.83 259.72 L425.27 260.87 L424.76 262.01 L424.29 263.14 L423.86 264.24 L423.47 265.32 L423.13 266.36 L422.84 267.38 L422.6 268.36 L422.4 269.29 L422.26 270.19 L422.16 271.04 L422.12 271.84 L422.12 272.6 L422.17 273.29 L422.27 273.93 L422.41 274.52 L422.61 275.04 L422.85 275.49 L423.13 275.89 L423.46 276.21 L423.82 276.47 L424.23 276.66 L424.68 276.78 L425.16 276.83 L425.68 276.81 L426.22 276.71 L426.8 276.55 L427.4 276.32 L428.03 276.01 L428.69 275.64 L429.36 275.2 L430.05 274.69 L430.75 274.11 L431.47 273.47 L432.19 272.77 L432.93 272.02 L433.66 271.2 L434.4 270.33 L435.14 269.41 L435.88 268.43 L436.61 267.42 L437.33 266.36 L438.05 265.26 L438.75 264.13 L439.44 262.96 L440.11 261.77 L440.77 260.56 L441.41 259.32 L442.02 258.07 L442.62 256.81 L443.19 255.54 L443.74 254.27 L444.26 253 L444.76 251.74 L445.23 250.49 L445.68 249.25 L446.09 248.02 L446.48 246.82 L446.85 245.65 L447.18 244.51 L447.49 243.39 L447.77 242.32 L448.03 241.29 L448.26 240.29 L448.47 239.35 L448.65 238.46 L448.81 237.61 L448.95 236.82 L449.07 236.09 L449.17 235.41 L449.26 234.8 L449.32 234.24 L449.38 233.75 L449.42 233.32 L449.45 232.95 L449.47 232.64 L449.49 232.4 L449.49 232.22 L449.5 232.09 L449.5 232.02 L449.5 232 L449.5 232.01 L449.5 232.06 L449.5 232.15 L449.51 232.27 L449.52 232.44 L449.53 232.64 L449.55 232.89 L449.58 233.19 L449.62 233.52 L449.67 233.9 L449.72 234.32 L449.79 234.78 L449.87 235.27 L449.97 235.81 L450.08 236.38 L450.2 236.99 L450.34 237.63 L450.5 238.3 L450.67 239 L450.86 239.73 L451.07 240.49 L451.3 241.26 L451.55 242.06 L451.81 242.87 L452.09 243.7 L452.4 244.55 L452.72 245.4 L453.05 246.25 L453.41 247.12 L453.78 247.98 L454.17 248.84 L454.57 249.7 L454.99 250.54 L455.43 251.38 L455.87 252.21 L456.33 253.01 L456.8 253.8 L457.27 254.57 L457.76 255.32 L458.25 256.04 L458.75 256.73 L459.24 257.39 L459.75 258.01 L460.25 258.6 L460.75 259.16 L461.25 259.67 L461.74 260.15 L462.23 260.58 L462.7 260.97 L463.17 261.32 L463.63 261.62 L464.07 261.87 L464.5 262.08 L464.91 262.24 L465.3 262.35 L465.67 262.41 L466.02 262.42 L466.35 262.39 L466.65 262.31 L466.93 262.18 L467.17 262.01 L467.4 261.78 L467.59 261.52 L467.75 261.21 L467.88 260.85 L467.98 260.46 L468.05 260.02 L468.08 259.55 L468.09 259.04 L468.05 258.5 L467.99 257.92 L467.89 257.31 L467.76 256.67 L467.59 256.01 L467.39 255.32 L467.17 254.61 L466.9 253.88 L466.61 253.13 L466.29 252.37 L465.94 251.6 L465.57 250.81 L465.16 250.02 L464.74 249.22 L464.29 248.42 L463.81 247.62 L463.32 246.82 L462.81 246.03 L462.29 245.24 L461.75 244.46 L461.2 243.7 L460.64 242.94 L460.07 242.21 L459.49 241.48 L458.92 240.78 L458.34 240.1 L457.76 239.44 L457.19 238.8 L456.62 238.19 L456.06 237.61 L455.52 237.05 L454.98 236.52 L454.46 236.02 L453.95 235.54 L453.47 235.1 L453.01 234.69 L452.56 234.31 L452.15 233.96 L451.76 233.64 L451.39 233.35 L451.06 233.09 L450.76 232.86 L450.49 232.67 L450.25 232.49 L450.04 232.35 L449.87 232.24 L449.73 232.14 L449.62 232.08 L449.55 232.03 L449.51 232.01 L449.5 232 L449.51 232.01 L449.56 232.03 L449.64 232.08 L449.77 232.14 L449.93 232.23 L450.14 232.33 L450.4 232.45 L450.69 232.58 L451.04 232.73 L451.43 232.9 L451.86 233.08 L452.35 233.27 L452.87 233.47 L453.44 233.67 L454.06 233.89 L454.71 234.11 L455.41 234.33 L456.15 234.55 L456.92 234.78 L457.74 235 L458.58 235.22 L459.46 235.43 L460.37 235.64 L461.3 235.83 L462.26 236.02 L463.24 236.2 L464.25 236.37 L465.26 236.52 L466.29 236.66 L467.34 236.78 L468.38 236.88 L469.44 236.97 L470.49 237.04 L471.54 237.09 L472.59 237.12 L473.62 237.13 L474.65 237.12 L475.66 237.08 L476.65 237.03 L477.62 236.96 L478.56 236.86 L479.48 236.75 L480.36 236.61 L481.22 236.46 L482.03 236.28 L482.81 236.09 L483.54 235.88 L484.23 235.65 L484.87 235.41 L485.47 235.15 L486.01 234.87 L486.5 234.59 L486.94 234.29 L487.33 233.98 L487.65 233.67 L487.92 233.34 L488.13 233.01 L488.28 232.68 L488.37 232.34 L488.4 232Z" fill="none" stroke="#e4b42c" stroke-width="1.8" stroke-linejoin="round"/>
<circle cx="485.6" cy="164.4" r="0.85" fill="#e4b42c"/>
<text x="494.6" y="166.38" font-family='"Liberation Sans", sans-serif' font-size="5.5" fill="#4a4a4a" textLength="19.6" lengthAdjust="spacingAndGlyphs"><tspan font-style="italic">θ</tspan><tspan font-size="3.3" dy="1">r</tspan><tspan dy="-1"> = 60°</tspan></text>
<text x="372.4" y="177.3" font-family='"Liberation Sans", sans-serif' font-size="14" fill="#111" stroke="#111" stroke-width="0.25">l</text>
</g>
<g id="panel-m">
<circle cx="450.4" cy="385.6" r="5.13" fill="none" stroke="#cfeaf0" stroke-width="0.5" stroke-dasharray="1 0.7"/>
<circle cx="450.4" cy="385.6" r="10.25" fill="none" stroke="#bdbdbd" stroke-width="0.65"/>
<circle cx="450.4" cy="385.6" r="15.38" fill="none" stroke="#cfeaf0" stroke-width="0.5" stroke-dasharray="1 0.7"/>
<circle cx="450.4" cy="385.6" r="20.51" fill="none" stroke="#bdbdbd" stroke-width="0.65"/>
<circle cx="450.4" cy="385.6" r="25.64" fill="none" stroke="#cfeaf0" stroke-width="0.5" stroke-dasharray="1 0.7"/>
<circle cx="450.4" cy="385.6" r="30.76" fill="none" stroke="#bdbdbd" stroke-width="0.65"/>
<circle cx="450.4" cy="385.6" r="35.89" fill="none" stroke="#cfeaf0" stroke-width="0.5" stroke-dasharray="1 0.7"/>
<circle cx="450.4" cy="385.6" r="41.02" fill="none" stroke="#bdbdbd" stroke-width="0.65"/>
<circle cx="450.4" cy="385.6" r="46.15" fill="none" stroke="#cfeaf0" stroke-width="0.5" stroke-dasharray="1 0.7"/>
<circle cx="450.4" cy="385.6" r="51.27" fill="none" stroke="#bdbdbd" stroke-width="0.65"/>
<line x1="450.4" y1="385.6" x2="506.8" y2="385.6" stroke="#bdbdbd" stroke-width="0.65"/>
<line x1="450.4" y1="385.6" x2="499.24" y2="357.4" stroke="#bdbdbd" stroke-width="0.65"/>
<line x1="450.4" y1="385.6" x2="478.6" y2="336.76" stroke="#bdbdbd" stroke-width="0.65"/>
<line x1="450.4" y1="385.6" x2="450.4" y2="329.2" stroke="#bdbdbd" stroke-width="0.65"/>
<line x1="450.4" y1="385.6" x2="422.2" y2="336.76" stroke="#bdbdbd" stroke-width="0.65"/>
<line x1="450.4" y1="385.6" x2="401.56" y2="357.4" stroke="#bdbdbd" stroke-width="0.65"/>
<line x1="450.4" y1="385.6" x2="394" y2="385.6" stroke="#bdbdbd" stroke-width="0.65"/>
<line x1="450.4" y1="385.6" x2="401.56" y2="413.8" stroke="#bdbdbd" stroke-width="0.65"/>
<line x1="450.4" y1="385.6" x2="422.2" y2="434.44" stroke="#bdbdbd" stroke-width="0.65"/>
<line x1="450.4" y1="385.6" x2="450.4" y2="442" stroke="#bdbdbd" stroke-width="0.65"/>
<line x1="450.4" y1="385.6" x2="478.6" y2="434.44" stroke="#bdbdbd" stroke-width="0.65"/>
<line x1="450.4" y1="385.6" x2="499.24" y2="413.8" stroke="#bdbdbd" stroke-width="0.65"/>
<line x1="450.4" y1="385.6" x2="506.8" y2="385.6" stroke="#f3c2cc" stroke-width="0.6" stroke-dasharray="1 1" opacity="0.6"/>
<line x1="450.4" y1="385.6" x2="394" y2="385.6" stroke="#f3c2cc" stroke-width="0.6" stroke-dasharray="1 1" opacity="0.6"/>
<circle cx="450.4" cy="385.6" r="56.4" fill="none" stroke="#868686" stroke-width="1"/>
<text x="509.8" y="387.26" font-family='"Liberation Sans", sans-serif' font-size="4.6" fill="#4c4c4c" text-anchor="middle">0</text>
<text x="504.27" y="356.16" font-family='"Liberation Sans", sans-serif' font-size="4.6" fill="#4c4c4c" text-anchor="middle">30</text>
<text x="481.5" y="333.39" font-family='"Liberation Sans", sans-serif' font-size="4.6" fill="#4c4c4c" text-anchor="middle">60</text>
<text x="450.4" y="326.26" font-family='"Liberation Sans", sans-serif' font-size="4.6" fill="#4c4c4c" text-anchor="middle">90</text>
<text x="419.3" y="333.39" font-family='"Liberation Sans", sans-serif' font-size="4.6" fill="#4c4c4c" text-anchor="middle">120</text>
<text x="396.53" y="356.16" font-family='"Liberation Sans", sans-serif' font-size="4.6" fill="#4c4c4c" text-anchor="middle">150</text>
<text x="389.4" y="387.26" font-family='"Liberation Sans", sans-serif' font-size="4.6" fill="#4c4c4c" text-anchor="middle">180</text>
<text x="396.53" y="418.36" font-family='"Liberation Sans", sans-serif' font-size="4.6" fill="#4c4c4c" text-anchor="middle">210</text>
<text x="419.3" y="441.12" font-family='"Liberation Sans", sans-serif' font-size="4.6" fill="#4c4c4c" text-anchor="middle">240</text>
<text x="450.4" y="448.26" font-family='"Liberation Sans", sans-serif' font-size="4.6" fill="#4c4c4c" text-anchor="middle">270</text>
<text x="481.5" y="441.12" font-family='"Liberation Sans", sans-serif' font-size="4.6" fill="#4c4c4c" text-anchor="middle">300</text>
<text x="504.27" y="418.36" font-family='"Liberation Sans", sans-serif' font-size="4.6" fill="#4c4c4c" text-anchor="middle">330</text>
<path d="M484.8 385.6 L484.77 385.3 L484.69 385 L484.56 384.71 L484.38 384.41 L484.14 384.13 L483.85 383.85 L483.51 383.57 L483.12 383.31 L482.69 383.06 L482.21 382.82 L481.68 382.59 L481.11 382.37 L480.5 382.17 L479.85 381.98 L479.17 381.81 L478.45 381.66 L477.69 381.52 L476.91 381.4 L476.1 381.3 L475.27 381.22 L474.41 381.15 L473.53 381.1 L472.64 381.08 L471.73 381.07 L470.82 381.07 L469.89 381.1 L468.96 381.14 L468.03 381.2 L467.1 381.28 L466.17 381.37 L465.25 381.48 L464.34 381.6 L463.44 381.74 L462.55 381.88 L461.69 382.04 L460.84 382.21 L460.01 382.38 L459.21 382.57 L458.43 382.76 L457.68 382.95 L456.97 383.15 L456.28 383.34 L455.63 383.54 L455.01 383.74 L454.43 383.93 L453.89 384.12 L453.38 384.3 L452.92 384.48 L452.49 384.65 L452.11 384.8 L451.76 384.95 L451.46 385.08 L451.19 385.21 L450.97 385.31 L450.78 385.4 L450.64 385.47 L450.53 385.53 L450.45 385.57 L450.41 385.59 L450.4 385.6 L450.42 385.59 L450.47 385.56 L450.57 385.5 L450.7 385.41 L450.89 385.29 L451.12 385.13 L451.39 384.95 L451.71 384.72 L452.07 384.46 L452.47 384.15 L452.91 383.81 L453.39 383.43 L453.9 383.01 L454.46 382.54 L455.04 382.04 L455.65 381.5 L456.3 380.91 L456.96 380.29 L457.65 379.62 L458.36 378.92 L459.09 378.18 L459.83 377.41 L460.58 376.6 L461.33 375.75 L462.1 374.88 L462.86 373.98 L463.63 373.05 L464.39 372.09 L465.14 371.12 L465.88 370.12 L466.61 369.11 L467.32 368.08 L468.02 367.03 L468.69 365.98 L469.34 364.93 L469.97 363.87 L470.56 362.81 L471.13 361.76 L471.66 360.71 L472.16 359.67 L472.62 358.64 L473.05 357.63 L473.43 356.64 L473.78 355.68 L474.08 354.74 L474.34 353.83 L474.56 352.95 L474.74 352.1 L474.87 351.3 L474.95 350.53 L475 349.81 L474.99 349.14 L474.95 348.51 L474.86 347.94 L474.73 347.41 L474.55 346.95 L474.34 346.54 L474.08 346.18 L473.79 345.89 L473.46 345.66 L473.09 345.49 L472.69 345.38 L472.26 345.34 L471.8 345.36 L471.31 345.44 L470.79 345.59 L470.24 345.8 L469.68 346.07 L469.09 346.41 L468.49 346.8 L467.87 347.26 L467.24 347.78 L466.6 348.35 L465.95 348.98 L465.29 349.66 L464.62 350.39 L463.96 351.18 L463.3 352 L462.63 352.88 L461.98 353.79 L461.33 354.74 L460.69 355.73 L460.06 356.74 L459.44 357.79 L458.83 358.86 L458.24 359.95 L457.67 361.06 L457.11 362.18 L456.58 363.32 L456.07 364.45 L455.57 365.6 L455.1 366.74 L454.66 367.87 L454.23 369 L453.83 370.11 L453.46 371.21 L453.11 372.29 L452.78 373.34 L452.48 374.37 L452.2 375.37 L451.95 376.33 L451.72 377.26 L451.51 378.15 L451.33 379 L451.16 379.8 L451.02 380.56 L450.89 381.27 L450.79 381.93 L450.7 382.53 L450.62 383.09 L450.56 383.59 L450.51 384.03 L450.47 384.42 L450.44 384.75 L450.43 385.02 L450.41 385.24 L450.41 385.41 L450.4 385.52 L450.4 385.58 L450.4 385.6 L450.4 385.58 L450.4 385.52 L450.4 385.41 L450.39 385.25 L450.38 385.04 L450.36 384.77 L450.33 384.45 L450.29 384.07 L450.25 383.64 L450.19 383.16 L450.11 382.62 L450.02 382.03 L449.92 381.39 L449.8 380.7 L449.66 379.97 L449.5 379.18 L449.32 378.36 L449.12 377.5 L448.89 376.59 L448.65 375.65 L448.38 374.69 L448.08 373.69 L447.77 372.66 L447.43 371.61 L447.06 370.55 L446.67 369.46 L446.26 368.37 L445.83 367.27 L445.37 366.16 L444.89 365.05 L444.39 363.94 L443.87 362.84 L443.34 361.75 L442.78 360.67 L442.21 359.61 L441.62 358.57 L441.02 357.56 L440.4 356.57 L439.78 355.61 L439.15 354.69 L438.51 353.8 L437.87 352.95 L437.22 352.15 L436.58 351.39 L435.93 350.67 L435.29 350.01 L434.66 349.4 L434.03 348.84 L433.42 348.34 L432.82 347.9 L432.23 347.51 L431.66 347.18 L431.11 346.92 L430.59 346.71 L430.08 346.57 L429.61 346.49 L429.16 346.47 L428.73 346.51 L428.35 346.62 L427.99 346.78 L427.67 347.01 L427.38 347.29 L427.14 347.64 L426.93 348.04 L426.76 348.49 L426.63 349 L426.54 349.56 L426.5 350.17 L426.5 350.82 L426.54 351.52 L426.62 352.27 L426.75 353.05 L426.92 353.87 L427.13 354.72 L427.39 355.61 L427.68 356.52 L428.02 357.46 L428.39 358.42 L428.8 359.4 L429.25 360.4 L429.74 361.41 L430.26 362.43 L430.81 363.45 L431.39 364.48 L431.99 365.51 L432.62 366.54 L433.28 367.56 L433.95 368.57 L434.65 369.57 L435.36 370.56 L436.08 371.53 L436.81 372.48 L437.55 373.4 L438.29 374.31 L439.03 375.18 L439.77 376.03 L440.51 376.85 L441.24 377.64 L441.96 378.39 L442.66 379.11 L443.35 379.79 L444.02 380.44 L444.67 381.04 L445.29 381.61 L445.89 382.14 L446.46 382.63 L446.99 383.08 L447.5 383.49 L447.96 383.86 L448.39 384.19 L448.78 384.49 L449.13 384.74 L449.44 384.96 L449.7 385.15 L449.93 385.3 L450.1 385.42 L450.24 385.5 L450.33 385.56 L450.38 385.59 L450.4 385.6 L450.39 385.59 L450.35 385.57 L450.28 385.53 L450.17 385.48 L450.02 385.4 L449.84 385.32 L449.62 385.21 L449.37 385.1 L449.07 384.96 L448.73 384.82 L448.35 384.67 L447.93 384.5 L447.48 384.33 L446.98 384.15 L446.45 383.96 L445.88 383.78 L445.28 383.58 L444.64 383.39 L443.97 383.2 L443.26 383 L442.53 382.81 L441.77 382.63 L440.99 382.45 L440.18 382.28 L439.34 382.11 L438.49 381.96 L437.63 381.82 L436.74 381.68 L435.85 381.57 L434.95 381.46 L434.04 381.37 L433.13 381.29 L432.22 381.23 L431.3 381.19 L430.4 381.17 L429.5 381.16 L428.61 381.17 L427.74 381.19 L426.88 381.24 L426.04 381.3 L425.22 381.39 L424.43 381.49 L423.66 381.6 L422.92 381.74 L422.22 381.89 L421.55 382.06 L420.91 382.24 L420.31 382.44 L419.75 382.65 L419.24 382.87 L418.77 383.11 L418.34 383.36 L417.96 383.62 L417.63 383.88 L417.35 384.16 L417.12 384.44 L416.93 384.72 L416.8 385.01 L416.73 385.31 L416.7 385.6 L416.73 385.89 L416.8 386.19 L416.93 386.48 L417.12 386.76 L417.35 387.04 L417.63 387.32 L417.96 387.58 L418.34 387.84 L418.77 388.09 L419.24 388.33 L419.75 388.55 L420.31 388.76 L420.91 388.96 L421.55 389.14 L422.22 389.31 L422.92 389.46 L423.66 389.6 L424.43 389.71 L425.22 389.81 L426.04 389.9 L426.88 389.96 L427.74 390.01 L428.61 390.03 L429.5 390.04 L430.4 390.03 L431.3 390.01 L432.22 389.97 L433.13 389.91 L434.04 389.83 L434.95 389.74 L435.85 389.63 L436.74 389.52 L437.63 389.38 L438.49 389.24 L439.34 389.09 L440.18 388.92 L440.99 388.75 L441.77 388.57 L442.53 388.39 L443.26 388.2 L443.97 388 L444.64 387.81 L445.28 387.62 L445.88 387.42 L446.45 387.24 L446.98 387.05 L447.48 386.87 L447.93 386.7 L448.35 386.53 L448.73 386.38 L449.07 386.24 L449.37 386.1 L449.62 385.99 L449.84 385.88 L450.02 385.8 L450.17 385.72 L450.28 385.67 L450.35 385.63 L450.39 385.61 L450.4 385.6 L450.38 385.61 L450.33 385.64 L450.24 385.7 L450.1 385.79 L449.91 385.91 L449.69 386.06 L449.42 386.25 L449.1 386.48 L448.74 386.74 L448.34 387.04 L447.91 387.38 L447.43 387.76 L446.91 388.18 L446.37 388.64 L445.78 389.14 L445.17 389.68 L444.54 390.26 L443.87 390.89 L443.19 391.55 L442.48 392.24 L441.76 392.98 L441.02 393.75 L440.28 394.56 L439.52 395.39 L438.76 396.26 L438 397.16 L437.24 398.09 L436.49 399.04 L435.74 400.01 L435 401 L434.28 402.01 L433.57 403.03 L432.87 404.07 L432.2 405.11 L431.56 406.16 L430.94 407.22 L430.34 408.27 L429.78 409.32 L429.25 410.36 L428.75 411.4 L428.29 412.42 L427.87 413.42 L427.49 414.4 L427.14 415.37 L426.84 416.3 L426.58 417.21 L426.36 418.08 L426.19 418.92 L426.06 419.72 L425.97 420.48 L425.93 421.2 L425.93 421.87 L425.98 422.49 L426.07 423.07 L426.2 423.59 L426.37 424.05 L426.59 424.46 L426.84 424.81 L427.13 425.1 L427.46 425.33 L427.82 425.5 L428.22 425.61 L428.65 425.65 L429.11 425.63 L429.6 425.55 L430.12 425.4 L430.66 425.2 L431.22 424.92 L431.8 424.59 L432.4 424.19 L433.02 423.74 L433.65 423.23 L434.29 422.66 L434.94 422.03 L435.59 421.35 L436.25 420.62 L436.91 419.85 L437.57 419.02 L438.23 418.15 L438.88 417.24 L439.53 416.3 L440.17 415.32 L440.8 414.31 L441.41 413.27 L442.01 412.2 L442.6 411.12 L443.17 410.01 L443.72 408.9 L444.25 407.77 L444.76 406.64 L445.25 405.5 L445.72 404.37 L446.17 403.24 L446.59 402.12 L446.98 401.01 L447.36 399.92 L447.71 398.84 L448.03 397.8 L448.33 396.77 L448.6 395.78 L448.86 394.82 L449.09 393.9 L449.29 393.01 L449.48 392.17 L449.64 391.37 L449.78 390.61 L449.91 389.91 L450.02 389.25 L450.11 388.65 L450.18 388.1 L450.24 387.6 L450.29 387.16 L450.33 386.78 L450.36 386.45 L450.37 386.18 L450.39 385.96 L450.39 385.79 L450.4 385.68 L450.4 385.62 L450.4 385.6 L450.4 385.62 L450.4 385.68 L450.4 385.79 L450.41 385.95 L450.42 386.17 L450.44 386.44 L450.47 386.76 L450.51 387.14 L450.56 387.57 L450.62 388.06 L450.69 388.6 L450.78 389.2 L450.88 389.84 L451.01 390.54 L451.15 391.28 L451.31 392.07 L451.49 392.9 L451.69 393.77 L451.92 394.68 L452.17 395.62 L452.44 396.6 L452.73 397.61 L453.05 398.64 L453.4 399.7 L453.76 400.77 L454.15 401.86 L454.57 402.97 L455.01 404.08 L455.47 405.2 L455.95 406.31 L456.45 407.43 L456.98 408.54 L457.52 409.64 L458.08 410.73 L458.66 411.79 L459.25 412.84 L459.86 413.87 L460.48 414.86 L461.11 415.83 L461.74 416.76 L462.39 417.66 L463.03 418.51 L463.68 419.32 L464.33 420.09 L464.98 420.81 L465.63 421.48 L466.27 422.09 L466.9 422.65 L467.52 423.16 L468.12 423.61 L468.71 423.99 L469.29 424.32 L469.84 424.59 L470.37 424.8 L470.88 424.94 L471.36 425.02 L471.82 425.04 L472.24 425 L472.63 424.89 L472.99 424.73 L473.31 424.5 L473.6 424.21 L473.85 423.87 L474.06 423.46 L474.23 423.01 L474.36 422.5 L474.45 421.93 L474.49 421.32 L474.49 420.66 L474.45 419.95 L474.37 419.2 L474.24 418.41 L474.07 417.59 L473.85 416.73 L473.6 415.83 L473.3 414.91 L472.96 413.97 L472.59 413 L472.17 412.01 L471.72 411 L471.23 409.99 L470.71 408.96 L470.15 407.92 L469.57 406.89 L468.96 405.85 L468.32 404.82 L467.66 403.79 L466.98 402.77 L466.28 401.76 L465.56 400.76 L464.84 399.79 L464.1 398.83 L463.36 397.89 L462.61 396.98 L461.86 396.1 L461.11 395.24 L460.37 394.42 L459.63 393.63 L458.91 392.87 L458.2 392.14 L457.5 391.46 L456.83 390.81 L456.18 390.19 L455.55 389.62 L454.94 389.09 L454.37 388.59 L453.83 388.14 L453.33 387.73 L452.86 387.35 L452.42 387.02 L452.03 386.72 L451.68 386.46 L451.37 386.24 L451.1 386.06 L450.88 385.9 L450.7 385.79 L450.56 385.7 L450.47 385.64 L450.42 385.61 L450.4 385.6 L450.41 385.61 L450.45 385.63 L450.53 385.67 L450.64 385.73 L450.78 385.8 L450.97 385.89 L451.19 385.99 L451.46 386.12 L451.76 386.25 L452.11 386.4 L452.49 386.55 L452.92 386.72 L453.38 386.9 L453.89 387.08 L454.43 387.27 L455.01 387.46 L455.63 387.66 L456.28 387.86 L456.97 388.05 L457.68 388.25 L458.43 388.44 L459.21 388.63 L460.01 388.82 L460.84 388.99 L461.69 389.16 L462.55 389.32 L463.44 389.46 L464.34 389.6 L465.25 389.72 L466.17 389.83 L467.1 389.92 L468.03 390 L468.96 390.06 L469.89 390.1 L470.82 390.13 L471.73 390.13 L472.64 390.12 L473.53 390.1 L474.41 390.05 L475.27 389.98 L476.1 389.9 L476.91 389.8 L477.69 389.68 L478.45 389.54 L479.17 389.39 L479.85 389.22 L480.5 389.03 L481.11 388.83 L481.68 388.61 L482.21 388.38 L482.69 388.14 L483.12 387.89 L483.51 387.63 L483.85 387.35 L484.14 387.07 L484.38 386.79 L484.56 386.49 L484.69 386.2 L484.77 385.9 L484.8 385.6Z" fill="none" stroke="#22c81c" stroke-width="1.8" stroke-linejoin="round"/>
<circle cx="486.7" cy="318.1" r="0.85" fill="#22c81c"/>
<text x="496.2" y="320.08" font-family='"Liberation Sans", sans-serif' font-size="5.5" fill="#4a4a4a" textLength="19.6" lengthAdjust="spacingAndGlyphs"><tspan font-style="italic">θ</tspan><tspan font-size="3.3" dy="1">r</tspan><tspan dy="-1"> = 90°</tspan></text>
<text x="366.8" y="339.2" font-family='"Liberation Sans", sans-serif' font-size="14" fill="#111" stroke="#111" stroke-width="0.25">m</text>
</g>
<g id="panel-n">
<circle cx="450.4" cy="548" r="5.13" fill="none" stroke="#cfeaf0" stroke-width="0.5" stroke-dasharray="1 0.7"/>
<circle cx="450.4" cy="548" r="10.25" fill="none" stroke="#bdbdbd" stroke-width="0.65"/>
<circle cx="450.4" cy="548" r="15.38" fill="none" stroke="#cfeaf0" stroke-width="0.5" stroke-dasharray="1 0.7"/>
<circle cx="450.4" cy="548" r="20.51" fill="none" stroke="#bdbdbd" stroke-width="0.65"/>
<circle cx="450.4" cy="548" r="25.64" fill="none" stroke="#cfeaf0" stroke-width="0.5" stroke-dasharray="1 0.7"/>
<circle cx="450.4" cy="548" r="30.76" fill="none" stroke="#bdbdbd" stroke-width="0.65"/>
<circle cx="450.4" cy="548" r="35.89" fill="none" stroke="#cfeaf0" stroke-width="0.5" stroke-dasharray="1 0.7"/>
<circle cx="450.4" cy="548" r="41.02" fill="none" stroke="#bdbdbd" stroke-width="0.65"/>
<circle cx="450.4" cy="548" r="46.15" fill="none" stroke="#cfeaf0" stroke-width="0.5" stroke-dasharray="1 0.7"/>
<circle cx="450.4" cy="548" r="51.27" fill="none" stroke="#bdbdbd" stroke-width="0.65"/>
<line x1="450.4" y1="548" x2="506.8" y2="548" stroke="#bdbdbd" stroke-width="0.65"/>
<line x1="450.4" y1="548" x2="499.24" y2="519.8" stroke="#bdbdbd" stroke-width="0.65"/>
<line x1="450.4" y1="548" x2="478.6" y2="499.16" stroke="#bdbdbd" stroke-width="0.65"/>
<line x1="450.4" y1="548" x2="450.4" y2="491.6" stroke="#bdbdbd" stroke-width="0.65"/>
<line x1="450.4" y1="548" x2="422.2" y2="499.16" stroke="#bdbdbd" stroke-width="0.65"/>
<line x1="450.4" y1="548" x2="401.56" y2="519.8" stroke="#bdbdbd" stroke-width="0.65"/>
<line x1="450.4" y1="548" x2="394" y2="548" stroke="#bdbdbd" stroke-width="0.65"/>
<line x1="450.4" y1="548" x2="401.56" y2="576.2" stroke="#bdbdbd" stroke-width="0.65"/>
<line x1="450.4" y1="548" x2="422.2" y2="596.84" stroke="#bdbdbd" stroke-width="0.65"/>
<line x1="450.4" y1="548" x2="450.4" y2="604.4" stroke="#bdbdbd" stroke-width="0.65"/>
<line x1="450.4" y1="548" x2="478.6" y2="596.84" stroke="#bdbdbd" stroke-width="0.65"/>
<line x1="450.4" y1="548" x2="499.24" y2="576.2" stroke="#bdbdbd" stroke-width="0.65"/>
<line x1="450.4" y1="548" x2="506.8" y2="548" stroke="#f3c2cc" stroke-width="0.6" stroke-dasharray="1 1" opacity="0.6"/>
<line x1="450.4" y1="548" x2="394" y2="548" stroke="#f3c2cc" stroke-width="0.6" stroke-dasharray="1 1" opacity="0.6"/>
<circle cx="450.4" cy="548" r="56.4" fill="none" stroke="#868686" stroke-width="1"/>
<text x="509.8" y="549.66" font-family='"Liberation Sans", sans-serif' font-size="4.6" fill="#4c4c4c" text-anchor="middle">0</text>
<text x="504.27" y="518.56" font-family='"Liberation Sans", sans-serif' font-size="4.6" fill="#4c4c4c" text-anchor="middle">30</text>
<text x="481.5" y="495.79" font-family='"Liberation Sans", sans-serif' font-size="4.6" fill="#4c4c4c" text-anchor="middle">60</text>
<text x="450.4" y="488.66" font-family='"Liberation Sans", sans-serif' font-size="4.6" fill="#4c4c4c" text-anchor="middle">90</text>
<text x="419.3" y="495.79" font-family='"Liberation Sans", sans-serif' font-size="4.6" fill="#4c4c4c" text-anchor="middle">120</text>
<text x="396.53" y="518.56" font-family='"Liberation Sans", sans-serif' font-size="4.6" fill="#4c4c4c" text-anchor="middle">150</text>
<text x="389.4" y="549.66" font-family='"Liberation Sans", sans-serif' font-size="4.6" fill="#4c4c4c" text-anchor="middle">180</text>
<text x="396.53" y="580.76" font-family='"Liberation Sans", sans-serif' font-size="4.6" fill="#4c4c4c" text-anchor="middle">210</text>
<text x="419.3" y="603.52" font-family='"Liberation Sans", sans-serif' font-size="4.6" fill="#4c4c4c" text-anchor="middle">240</text>
<text x="450.4" y="610.66" font-family='"Liberation Sans", sans-serif' font-size="4.6" fill="#4c4c4c" text-anchor="middle">270</text>
<text x="481.5" y="603.52" font-family='"Liberation Sans", sans-serif' font-size="4.6" fill="#4c4c4c" text-anchor="middle">300</text>
<text x="504.27" y="580.76" font-family='"Liberation Sans", sans-serif' font-size="4.6" fill="#4c4c4c" text-anchor="middle">330</text>
<path d="M488.3 548 L488.27 547.67 L488.18 547.34 L488.04 547.01 L487.83 546.69 L487.57 546.38 L487.25 546.07 L486.88 545.77 L486.45 545.48 L485.97 545.2 L485.44 544.93 L484.86 544.68 L484.24 544.44 L483.57 544.22 L482.85 544.02 L482.09 543.83 L481.3 543.66 L480.47 543.51 L479.61 543.37 L478.72 543.26 L477.8 543.17 L476.85 543.1 L475.89 543.05 L474.9 543.01 L473.9 543 L472.89 543.01 L471.88 543.04 L470.85 543.09 L469.82 543.16 L468.8 543.24 L467.78 543.34 L466.76 543.46 L465.76 543.6 L464.77 543.74 L463.79 543.91 L462.83 544.08 L461.9 544.26 L460.99 544.46 L460.1 544.66 L459.25 544.87 L458.42 545.08 L457.63 545.3 L456.88 545.51 L456.16 545.73 L455.48 545.95 L454.84 546.16 L454.24 546.37 L453.69 546.57 L453.17 546.77 L452.7 546.95 L452.28 547.12 L451.9 547.29 L451.56 547.43 L451.27 547.56 L451.03 547.68 L450.82 547.78 L450.66 547.86 L450.54 547.92 L450.46 547.97 L450.41 547.99 L450.4 548 L450.41 547.99 L450.46 547.97 L450.54 547.92 L450.65 547.84 L450.8 547.74 L450.99 547.62 L451.21 547.46 L451.48 547.27 L451.77 547.06 L452.1 546.81 L452.47 546.53 L452.86 546.21 L453.29 545.86 L453.74 545.48 L454.22 545.07 L454.73 544.62 L455.26 544.14 L455.8 543.62 L456.37 543.08 L456.96 542.5 L457.55 541.89 L458.16 541.25 L458.78 540.59 L459.4 539.89 L460.03 539.17 L460.66 538.43 L461.29 537.66 L461.92 536.88 L462.54 536.07 L463.15 535.25 L463.75 534.42 L464.34 533.57 L464.91 532.71 L465.46 531.85 L466 530.98 L466.51 530.1 L467.01 529.23 L467.47 528.36 L467.91 527.5 L468.32 526.64 L468.7 525.8 L469.05 524.97 L469.37 524.15 L469.65 523.36 L469.9 522.58 L470.12 521.83 L470.3 521.11 L470.44 520.41 L470.55 519.75 L470.62 519.12 L470.66 518.53 L470.65 517.97 L470.62 517.46 L470.54 516.98 L470.43 516.55 L470.29 516.17 L470.11 515.83 L469.91 515.54 L469.66 515.3 L469.39 515.11 L469.09 514.97 L468.76 514.88 L468.4 514.84 L468.02 514.86 L467.62 514.93 L467.19 515.05 L466.74 515.22 L466.28 515.44 L465.8 515.72 L465.3 516.05 L464.79 516.42 L464.27 516.85 L463.74 517.32 L463.2 517.84 L462.66 518.4 L462.11 519 L461.57 519.65 L461.02 520.33 L460.48 521.05 L459.94 521.8 L459.4 522.59 L458.87 523.4 L458.35 524.24 L457.84 525.1 L457.34 525.98 L456.86 526.88 L456.39 527.79 L455.93 528.71 L455.49 529.65 L455.07 530.58 L454.66 531.52 L454.27 532.46 L453.91 533.4 L453.56 534.33 L453.23 535.24 L452.92 536.15 L452.63 537.04 L452.36 537.9 L452.11 538.75 L451.89 539.57 L451.68 540.37 L451.49 541.13 L451.32 541.86 L451.16 542.56 L451.03 543.23 L450.91 543.85 L450.81 544.43 L450.72 544.98 L450.64 545.47 L450.58 545.93 L450.53 546.34 L450.49 546.71 L450.46 547.02 L450.44 547.3 L450.42 547.52 L450.41 547.7 L450.4 547.84 L450.4 547.93 L450.4 547.98 L450.4 548 L450.4 547.98 L450.4 547.91 L450.39 547.79 L450.39 547.6 L450.37 547.36 L450.35 547.06 L450.32 546.7 L450.28 546.27 L450.23 545.78 L450.16 545.23 L450.07 544.62 L449.97 543.96 L449.86 543.23 L449.72 542.45 L449.56 541.62 L449.38 540.73 L449.17 539.8 L448.95 538.82 L448.69 537.79 L448.41 536.73 L448.11 535.63 L447.78 534.5 L447.42 533.34 L447.03 532.15 L446.62 530.94 L446.18 529.72 L445.71 528.48 L445.22 527.23 L444.7 525.97 L444.16 524.72 L443.6 523.46 L443.01 522.21 L442.4 520.98 L441.77 519.76 L441.12 518.56 L440.45 517.38 L439.77 516.23 L439.07 515.11 L438.37 514.02 L437.65 512.97 L436.93 511.97 L436.2 511.01 L435.47 510.1 L434.74 509.23 L434.01 508.43 L433.28 507.68 L432.57 506.98 L431.86 506.35 L431.16 505.78 L430.48 505.28 L429.82 504.84 L429.17 504.47 L428.55 504.17 L427.95 503.94 L427.38 503.78 L426.84 503.69 L426.33 503.67 L425.85 503.71 L425.41 503.83 L425.01 504.02 L424.64 504.28 L424.32 504.6 L424.04 504.99 L423.81 505.44 L423.61 505.95 L423.47 506.53 L423.37 507.16 L423.32 507.85 L423.32 508.6 L423.36 509.39 L423.46 510.23 L423.6 511.12 L423.8 512.05 L424.04 513.01 L424.32 514.02 L424.66 515.05 L425.04 516.12 L425.46 517.21 L425.93 518.32 L426.44 519.45 L426.99 520.59 L427.58 521.74 L428.2 522.91 L428.86 524.07 L429.54 525.24 L430.26 526.4 L431 527.56 L431.77 528.7 L432.55 529.84 L433.36 530.96 L434.17 532.05 L435 533.13 L435.84 534.18 L436.68 535.2 L437.52 536.2 L438.36 537.16 L439.2 538.09 L440.02 538.98 L440.84 539.83 L441.63 540.65 L442.42 541.42 L443.17 542.15 L443.91 542.84 L444.62 543.48 L445.29 544.08 L445.93 544.63 L446.54 545.14 L447.11 545.61 L447.64 546.03 L448.12 546.41 L448.57 546.74 L448.96 547.03 L449.31 547.28 L449.61 547.49 L449.86 547.66 L450.06 547.79 L450.22 547.89 L450.32 547.95 L450.38 547.99 L450.4 548 L450.39 547.99 L450.34 547.97 L450.26 547.93 L450.14 547.86 L449.98 547.78 L449.78 547.69 L449.54 547.57 L449.25 547.44 L448.92 547.29 L448.55 547.14 L448.13 546.96 L447.66 546.78 L447.16 546.59 L446.61 546.39 L446.02 546.19 L445.39 545.97 L444.72 545.76 L444.01 545.55 L443.26 545.33 L442.48 545.12 L441.67 544.91 L440.82 544.7 L439.95 544.5 L439.05 544.31 L438.13 544.13 L437.19 543.96 L436.22 543.8 L435.24 543.65 L434.25 543.52 L433.25 543.41 L432.24 543.3 L431.23 543.22 L430.22 543.15 L429.21 543.11 L428.2 543.08 L427.21 543.07 L426.22 543.08 L425.25 543.11 L424.3 543.16 L423.37 543.23 L422.46 543.32 L421.58 543.43 L420.73 543.57 L419.91 543.71 L419.12 543.88 L418.38 544.07 L417.67 544.27 L417.01 544.49 L416.39 544.73 L415.82 544.97 L415.3 545.24 L414.82 545.51 L414.4 545.8 L414.03 546.09 L413.72 546.4 L413.46 546.71 L413.26 547.03 L413.12 547.35 L413.03 547.67 L413 548 L413.03 548.33 L413.12 548.65 L413.26 548.97 L413.46 549.29 L413.72 549.6 L414.03 549.91 L414.4 550.2 L414.82 550.49 L415.3 550.76 L415.82 551.03 L416.39 551.27 L417.01 551.51 L417.67 551.73 L418.38 551.93 L419.12 552.12 L419.91 552.29 L420.73 552.43 L421.58 552.57 L422.46 552.68 L423.37 552.77 L424.3 552.84 L425.25 552.89 L426.22 552.92 L427.21 552.93 L428.2 552.92 L429.21 552.89 L430.22 552.85 L431.23 552.78 L432.24 552.7 L433.25 552.59 L434.25 552.48 L435.24 552.35 L436.22 552.2 L437.19 552.04 L438.13 551.87 L439.05 551.69 L439.95 551.5 L440.82 551.3 L441.67 551.09 L442.48 550.88 L443.26 550.67 L444.01 550.45 L444.72 550.24 L445.39 550.03 L446.02 549.81 L446.61 549.61 L447.16 549.41 L447.66 549.22 L448.13 549.04 L448.55 548.86 L448.92 548.71 L449.25 548.56 L449.54 548.43 L449.78 548.31 L449.98 548.22 L450.14 548.14 L450.26 548.07 L450.34 548.03 L450.39 548.01 L450.4 548 L450.39 548.01 L450.34 548.03 L450.27 548.08 L450.15 548.15 L450.01 548.25 L449.82 548.37 L449.6 548.53 L449.35 548.71 L449.06 548.92 L448.74 549.16 L448.38 549.44 L448 549.75 L447.58 550.09 L447.14 550.46 L446.67 550.87 L446.17 551.3 L445.66 551.77 L445.12 552.28 L444.56 552.81 L443.99 553.38 L443.41 553.97 L442.81 554.59 L442.21 555.25 L441.6 555.92 L440.99 556.63 L440.37 557.35 L439.76 558.1 L439.14 558.87 L438.54 559.66 L437.94 560.46 L437.36 561.27 L436.78 562.1 L436.22 562.94 L435.68 563.79 L435.16 564.64 L434.65 565.49 L434.17 566.34 L433.72 567.19 L433.29 568.03 L432.89 568.87 L432.52 569.7 L432.17 570.51 L431.86 571.3 L431.59 572.08 L431.34 572.84 L431.13 573.57 L430.96 574.28 L430.81 574.96 L430.71 575.61 L430.64 576.22 L430.61 576.8 L430.61 577.34 L430.64 577.85 L430.72 578.31 L430.82 578.73 L430.96 579.11 L431.13 579.44 L431.34 579.72 L431.58 579.96 L431.84 580.14 L432.14 580.28 L432.46 580.37 L432.81 580.4 L433.18 580.39 L433.57 580.32 L433.99 580.2 L434.43 580.03 L434.88 579.81 L435.35 579.54 L435.84 579.22 L436.34 578.86 L436.85 578.44 L437.36 577.98 L437.89 577.47 L438.42 576.92 L438.95 576.33 L439.49 575.7 L440.02 575.04 L440.55 574.34 L441.08 573.6 L441.61 572.84 L442.12 572.04 L442.63 571.22 L443.13 570.38 L443.61 569.52 L444.09 568.64 L444.55 567.75 L445 566.85 L445.43 565.93 L445.84 565.02 L446.24 564.1 L446.61 563.18 L446.97 562.27 L447.32 561.36 L447.64 560.47 L447.94 559.58 L448.22 558.71 L448.48 557.87 L448.72 557.04 L448.95 556.24 L449.15 555.46 L449.34 554.71 L449.5 554 L449.65 553.31 L449.79 552.67 L449.9 552.06 L450 551.49 L450.09 550.96 L450.16 550.47 L450.22 550.02 L450.27 549.62 L450.31 549.26 L450.34 548.95 L450.36 548.69 L450.38 548.47 L450.39 548.29 L450.4 548.16 L450.4 548.07 L450.4 548.01 L450.4 548 L450.4 548.02 L450.4 548.09 L450.41 548.21 L450.41 548.39 L450.43 548.62 L450.45 548.92 L450.48 549.28 L450.52 549.7 L450.57 550.18 L450.64 550.71 L450.72 551.31 L450.82 551.97 L450.93 552.68 L451.07 553.44 L451.22 554.26 L451.4 555.13 L451.6 556.05 L451.83 557.01 L452.08 558.01 L452.35 559.05 L452.65 560.13 L452.97 561.24 L453.33 562.38 L453.7 563.55 L454.11 564.73 L454.54 565.93 L455 567.15 L455.48 568.38 L455.99 569.61 L456.52 570.84 L457.08 572.07 L457.65 573.29 L458.25 574.51 L458.87 575.7 L459.51 576.88 L460.16 578.04 L460.83 579.17 L461.51 580.27 L462.2 581.33 L462.91 582.36 L463.62 583.35 L464.33 584.29 L465.05 585.18 L465.76 586.03 L466.48 586.82 L467.19 587.56 L467.9 588.24 L468.59 588.86 L469.27 589.41 L469.94 589.91 L470.59 590.34 L471.23 590.7 L471.84 590.99 L472.42 591.22 L472.98 591.38 L473.51 591.47 L474.01 591.49 L474.48 591.44 L474.91 591.33 L475.31 591.14 L475.67 590.89 L475.98 590.58 L476.26 590.19 L476.49 589.75 L476.68 589.25 L476.82 588.68 L476.92 588.06 L476.96 587.38 L476.97 586.66 L476.92 585.88 L476.83 585.05 L476.69 584.18 L476.5 583.27 L476.26 582.32 L475.98 581.34 L475.65 580.32 L475.28 579.28 L474.86 578.21 L474.4 577.12 L473.9 576.01 L473.37 574.89 L472.79 573.76 L472.18 572.62 L471.53 571.47 L470.86 570.33 L470.16 569.19 L469.43 568.05 L468.68 566.93 L467.91 565.82 L467.12 564.72 L466.32 563.64 L465.51 562.59 L464.69 561.56 L463.86 560.55 L463.03 559.58 L462.21 558.63 L461.39 557.72 L460.58 556.85 L459.78 556.01 L459 555.21 L458.23 554.46 L457.49 553.74 L456.77 553.07 L456.07 552.43 L455.41 551.85 L454.78 551.3 L454.19 550.8 L453.63 550.34 L453.11 549.93 L452.63 549.56 L452.2 549.24 L451.81 548.95 L451.47 548.71 L451.17 548.5 L450.93 548.34 L450.73 548.21 L450.58 548.11 L450.48 548.05 L450.42 548.01 L450.4 548 L450.41 548.01 L450.46 548.03 L450.54 548.08 L450.66 548.14 L450.82 548.22 L451.03 548.32 L451.27 548.44 L451.56 548.57 L451.9 548.71 L452.28 548.88 L452.7 549.05 L453.17 549.23 L453.69 549.43 L454.24 549.63 L454.84 549.84 L455.48 550.05 L456.16 550.27 L456.88 550.49 L457.63 550.7 L458.42 550.92 L459.25 551.13 L460.1 551.34 L460.99 551.54 L461.9 551.74 L462.83 551.92 L463.79 552.09 L464.77 552.26 L465.76 552.4 L466.76 552.54 L467.78 552.66 L468.8 552.76 L469.82 552.84 L470.85 552.91 L471.88 552.96 L472.89 552.99 L473.9 553 L474.9 552.99 L475.89 552.95 L476.85 552.9 L477.8 552.83 L478.72 552.74 L479.61 552.63 L480.47 552.49 L481.3 552.34 L482.09 552.17 L482.85 551.98 L483.57 551.78 L484.24 551.56 L484.86 551.32 L485.44 551.07 L485.97 550.8 L486.45 550.52 L486.88 550.23 L487.25 549.93 L487.57 549.62 L487.83 549.31 L488.04 548.99 L488.18 548.66 L488.27 548.33 L488.3 548Z" fill="none" stroke="#1c8ede" stroke-width="1.8" stroke-linejoin="round"/>
<circle cx="487" cy="480.2" r="0.85" fill="#1c8ede"/>
<text x="496.2" y="482.18" font-family='"Liberation Sans", sans-serif' font-size="5.5" fill="#4a4a4a" textLength="25.2" lengthAdjust="spacingAndGlyphs"><tspan font-style="italic">θ</tspan><tspan font-size="3.3" dy="1">r</tspan><tspan dy="-1"> = 120°</tspan></text>
<text x="370" y="498" font-family='"Liberation Sans", sans-serif' font-size="14" fill="#111" stroke="#111" stroke-width="0.25">n</text>
</g>
<g id="panel-o">
<circle cx="450.4" cy="703" r="5.13" fill="none" stroke="#cfeaf0" stroke-width="0.5" stroke-dasharray="1 0.7"/>
<circle cx="450.4" cy="703" r="10.25" fill="none" stroke="#bdbdbd" stroke-width="0.65"/>
<circle cx="450.4" cy="703" r="15.38" fill="none" stroke="#cfeaf0" stroke-width="0.5" stroke-dasharray="1 0.7"/>
<circle cx="450.4" cy="703" r="20.51" fill="none" stroke="#bdbdbd" stroke-width="0.65"/>
<circle cx="450.4" cy="703" r="25.64" fill="none" stroke="#cfeaf0" stroke-width="0.5" stroke-dasharray="1 0.7"/>
<circle cx="450.4" cy="703" r="30.76" fill="none" stroke="#bdbdbd" stroke-width="0.65"/>
<circle cx="450.4" cy="703" r="35.89" fill="none" stroke="#cfeaf0" stroke-width="0.5" stroke-dasharray="1 0.7"/>
<circle cx="450.4" cy="703" r="41.02" fill="none" stroke="#bdbdbd" stroke-width="0.65"/>
<circle cx="450.4" cy="703" r="46.15" fill="none" stroke="#cfeaf0" stroke-width="0.5" stroke-dasharray="1 0.7"/>
<circle cx="450.4" cy="703" r="51.27" fill="none" stroke="#bdbdbd" stroke-width="0.65"/>
<line x1="450.4" y1="703" x2="506.8" y2="703" stroke="#bdbdbd" stroke-width="0.65"/>
<line x1="450.4" y1="703" x2="499.24" y2="674.8" stroke="#bdbdbd" stroke-width="0.65"/>
<line x1="450.4" y1="703" x2="478.6" y2="654.16" stroke="#bdbdbd" stroke-width="0.65"/>
<line x1="450.4" y1="703" x2="450.4" y2="646.6" stroke="#bdbdbd" stroke-width="0.65"/>
<line x1="450.4" y1="703" x2="422.2" y2="654.16" stroke="#bdbdbd" stroke-width="0.65"/>
<line x1="450.4" y1="703" x2="401.56" y2="674.8" stroke="#bdbdbd" stroke-width="0.65"/>
<line x1="450.4" y1="703" x2="394" y2="703" stroke="#bdbdbd" stroke-width="0.65"/>
<line x1="450.4" y1="703" x2="401.56" y2="731.2" stroke="#bdbdbd" stroke-width="0.65"/>
<line x1="450.4" y1="703" x2="422.2" y2="751.84" stroke="#bdbdbd" stroke-width="0.65"/>
<line x1="450.4" y1="703" x2="450.4" y2="759.4" stroke="#bdbdbd" stroke-width="0.65"/>
<line x1="450.4" y1="703" x2="478.6" y2="751.84" stroke="#bdbdbd" stroke-width="0.65"/>
<line x1="450.4" y1="703" x2="499.24" y2="731.2" stroke="#bdbdbd" stroke-width="0.65"/>
<line x1="450.4" y1="703" x2="506.8" y2="703" stroke="#f3c2cc" stroke-width="0.6" stroke-dasharray="1 1" opacity="0.6"/>
<line x1="450.4" y1="703" x2="394" y2="703" stroke="#f3c2cc" stroke-width="0.6" stroke-dasharray="1 1" opacity="0.6"/>
<circle cx="450.4" cy="703" r="56.4" fill="none" stroke="#868686" stroke-width="1"/>
<text x="509.8" y="704.66" font-family='"Liberation Sans", sans-serif' font-size="4.6" fill="#4c4c4c" text-anchor="middle">0</text>
<text x="504.27" y="673.56" font-family='"Liberation Sans", sans-serif' font-size="4.6" fill="#4c4c4c" text-anchor="middle">30</text>
<text x="481.5" y="650.79" font-family='"Liberation Sans", sans-serif' font-size="4.6" fill="#4c4c4c" text-anchor="middle">60</text>
<text x="450.4" y="643.66" font-family='"Liberation Sans", sans-serif' font-size="4.6" fill="#4c4c4c" text-anchor="middle">90</text>
<text x="419.3" y="650.79" font-family='"Liberation Sans", sans-serif' font-size="4.6" fill="#4c4c4c" text-anchor="middle">120</text>
<text x="396.53" y="673.56" font-family='"Liberation Sans", sans-serif' font-size="4.6" fill="#4c4c4c" text-anchor="middle">150</text>
<text x="389.4" y="704.66" font-family='"Liberation Sans", sans-serif' font-size="4.6" fill="#4c4c4c" text-anchor="middle">180</text>
<text x="396.53" y="735.76" font-family='"Liberation Sans", sans-serif' font-size="4.6" fill="#4c4c4c" text-anchor="middle">210</text>
<text x="419.3" y="758.52" font-family='"Liberation Sans", sans-serif' font-size="4.6" fill="#4c4c4c" text-anchor="middle">240</text>
<text x="450.4" y="765.66" font-family='"Liberation Sans", sans-serif' font-size="4.6" fill="#4c4c4c" text-anchor="middle">270</text>
<text x="481.5" y="758.52" font-family='"Liberation Sans", sans-serif' font-size="4.6" fill="#4c4c4c" text-anchor="middle">300</text>
<text x="504.27" y="735.76" font-family='"Liberation Sans", sans-serif' font-size="4.6" fill="#4c4c4c" text-anchor="middle">330</text>
<path d="M496 703 L495.96 702.6 L495.86 702.21 L495.68 701.81 L495.44 701.43 L495.12 701.05 L494.74 700.68 L494.29 700.32 L493.78 699.97 L493.2 699.63 L492.56 699.31 L491.87 699.01 L491.11 698.72 L490.3 698.45 L489.44 698.21 L488.53 697.98 L487.58 697.77 L486.58 697.59 L485.54 697.43 L484.47 697.3 L483.36 697.19 L482.23 697.1 L481.06 697.04 L479.88 697 L478.68 696.99 L477.46 697 L476.24 697.03 L475.01 697.09 L473.77 697.17 L472.54 697.28 L471.31 697.4 L470.09 697.54 L468.88 697.7 L467.69 697.88 L466.51 698.07 L465.36 698.28 L464.24 698.5 L463.14 698.74 L462.08 698.98 L461.05 699.23 L460.05 699.49 L459.1 699.75 L458.19 700.01 L457.33 700.27 L456.51 700.53 L455.74 700.79 L455.02 701.04 L454.35 701.28 L453.74 701.51 L453.17 701.74 L452.66 701.95 L452.2 702.14 L451.8 702.32 L451.45 702.48 L451.15 702.62 L450.91 702.74 L450.71 702.83 L450.57 702.91 L450.47 702.96 L450.42 702.99 L450.4 703 L450.41 702.99 L450.45 702.97 L450.52 702.93 L450.63 702.86 L450.76 702.77 L450.93 702.66 L451.13 702.52 L451.37 702.35 L451.63 702.15 L451.93 701.93 L452.25 701.68 L452.61 701.4 L452.99 701.08 L453.4 700.74 L453.83 700.37 L454.28 699.97 L454.76 699.53 L455.25 699.07 L455.76 698.58 L456.28 698.06 L456.82 697.52 L457.37 696.94 L457.92 696.35 L458.48 695.72 L459.04 695.08 L459.61 694.41 L460.17 693.72 L460.74 693.02 L461.29 692.3 L461.84 691.56 L462.38 690.81 L462.91 690.05 L463.42 689.28 L463.92 688.5 L464.4 687.72 L464.86 686.94 L465.3 686.16 L465.72 685.38 L466.11 684.6 L466.48 683.84 L466.82 683.08 L467.14 682.33 L467.42 681.6 L467.68 680.89 L467.9 680.19 L468.09 679.52 L468.26 678.87 L468.38 678.25 L468.48 677.65 L468.55 677.09 L468.58 676.55 L468.57 676.05 L468.54 675.59 L468.48 675.17 L468.38 674.78 L468.25 674.44 L468.09 674.13 L467.9 673.87 L467.69 673.65 L467.44 673.48 L467.17 673.36 L466.88 673.28 L466.56 673.25 L466.21 673.26 L465.85 673.32 L465.47 673.43 L465.07 673.59 L464.65 673.79 L464.22 674.04 L463.77 674.33 L463.31 674.67 L462.84 675.05 L462.37 675.47 L461.89 675.94 L461.4 676.44 L460.91 676.98 L460.42 677.56 L459.93 678.17 L459.44 678.82 L458.96 679.49 L458.48 680.19 L458 680.92 L457.54 681.68 L457.08 682.45 L456.63 683.24 L456.2 684.05 L455.77 684.86 L455.36 685.69 L454.97 686.53 L454.59 687.37 L454.22 688.22 L453.88 689.06 L453.55 689.9 L453.23 690.73 L452.94 691.55 L452.66 692.36 L452.4 693.16 L452.16 693.94 L451.94 694.7 L451.73 695.44 L451.55 696.15 L451.38 696.84 L451.22 697.49 L451.09 698.12 L450.96 698.72 L450.86 699.28 L450.76 699.8 L450.69 700.29 L450.62 700.73 L450.56 701.14 L450.52 701.51 L450.48 701.84 L450.45 702.12 L450.43 702.37 L450.42 702.57 L450.41 702.73 L450.4 702.86 L450.4 702.94 L450.4 702.99 L450.4 703 L450.4 702.98 L450.4 702.92 L450.39 702.81 L450.39 702.64 L450.37 702.42 L450.36 702.15 L450.33 701.81 L450.29 701.43 L450.24 700.98 L450.18 700.48 L450.1 699.93 L450.01 699.32 L449.91 698.66 L449.78 697.95 L449.64 697.19 L449.47 696.39 L449.29 695.54 L449.08 694.65 L448.85 693.72 L448.59 692.75 L448.32 691.75 L448.01 690.72 L447.69 689.67 L447.34 688.59 L446.96 687.49 L446.56 686.37 L446.14 685.25 L445.69 684.11 L445.22 682.97 L444.73 681.83 L444.21 680.68 L443.68 679.55 L443.12 678.43 L442.55 677.32 L441.96 676.22 L441.35 675.15 L440.73 674.1 L440.1 673.09 L439.46 672.1 L438.81 671.15 L438.15 670.23 L437.49 669.36 L436.82 668.53 L436.16 667.75 L435.49 667.01 L434.83 666.33 L434.18 665.7 L433.54 665.12 L432.9 664.61 L432.28 664.15 L431.68 663.75 L431.09 663.42 L430.53 663.14 L429.98 662.93 L429.47 662.78 L428.97 662.7 L428.51 662.68 L428.08 662.73 L427.68 662.83 L427.31 663 L426.98 663.24 L426.68 663.53 L426.43 663.88 L426.21 664.29 L426.04 664.76 L425.91 665.29 L425.82 665.86 L425.77 666.49 L425.77 667.16 L425.81 667.89 L425.9 668.65 L426.03 669.46 L426.21 670.3 L426.42 671.18 L426.69 672.1 L426.99 673.04 L427.34 674 L427.72 675 L428.15 676.01 L428.61 677.03 L429.11 678.07 L429.64 679.12 L430.21 680.18 L430.81 681.24 L431.43 682.3 L432.08 683.36 L432.76 684.41 L433.45 685.45 L434.17 686.48 L434.9 687.5 L435.64 688.5 L436.4 689.48 L437.16 690.43 L437.92 691.36 L438.69 692.27 L439.45 693.14 L440.21 693.98 L440.96 694.8 L441.7 695.57 L442.43 696.31 L443.14 697.01 L443.83 697.68 L444.5 698.3 L445.14 698.89 L445.75 699.44 L446.34 699.94 L446.89 700.4 L447.41 700.83 L447.89 701.21 L448.33 701.55 L448.73 701.85 L449.09 702.12 L449.41 702.34 L449.68 702.53 L449.91 702.69 L450.1 702.81 L450.23 702.9 L450.33 702.96 L450.38 702.99 L450.4 703 L450.38 702.99 L450.33 702.96 L450.23 702.91 L450.09 702.84 L449.9 702.74 L449.66 702.62 L449.36 702.48 L449.02 702.32 L448.62 702.15 L448.16 701.96 L447.66 701.75 L447.1 701.53 L446.49 701.3 L445.83 701.06 L445.12 700.81 L444.36 700.56 L443.55 700.3 L442.69 700.04 L441.79 699.78 L440.85 699.52 L439.87 699.27 L438.85 699.02 L437.8 698.78 L436.72 698.55 L435.6 698.33 L434.47 698.13 L433.3 697.94 L432.12 697.76 L430.93 697.6 L429.72 697.46 L428.51 697.34 L427.29 697.24 L426.06 697.16 L424.84 697.1 L423.63 697.07 L422.43 697.05 L421.24 697.07 L420.07 697.1 L418.92 697.17 L417.8 697.25 L416.71 697.36 L415.64 697.5 L414.62 697.65 L413.63 697.83 L412.68 698.03 L411.79 698.26 L410.93 698.5 L410.13 698.77 L409.39 699.05 L408.7 699.35 L408.07 699.67 L407.5 700 L406.99 700.34 L406.55 700.7 L406.17 701.07 L405.86 701.44 L405.61 701.83 L405.44 702.22 L405.33 702.61 L405.3 703 L405.33 703.39 L405.44 703.78 L405.61 704.17 L405.86 704.56 L406.17 704.93 L406.55 705.3 L406.99 705.66 L407.5 706 L408.07 706.33 L408.7 706.65 L409.39 706.95 L410.13 707.23 L410.93 707.5 L411.79 707.74 L412.68 707.97 L413.63 708.17 L414.62 708.35 L415.64 708.5 L416.71 708.64 L417.8 708.75 L418.92 708.83 L420.07 708.9 L421.24 708.93 L422.43 708.95 L423.63 708.93 L424.84 708.9 L426.06 708.84 L427.29 708.76 L428.51 708.66 L429.72 708.54 L430.93 708.4 L432.12 708.24 L433.3 708.06 L434.47 707.87 L435.6 707.67 L436.72 707.45 L437.8 707.22 L438.85 706.98 L439.87 706.73 L440.85 706.48 L441.79 706.22 L442.69 705.96 L443.55 705.7 L444.36 705.44 L445.12 705.19 L445.83 704.94 L446.49 704.7 L447.1 704.47 L447.66 704.25 L448.16 704.04 L448.62 703.85 L449.02 703.68 L449.36 703.52 L449.66 703.38 L449.9 703.26 L450.09 703.16 L450.23 703.09 L450.33 703.04 L450.38 703.01 L450.4 703 L450.39 703.01 L450.35 703.03 L450.28 703.07 L450.18 703.14 L450.05 703.22 L449.89 703.33 L449.7 703.46 L449.47 703.62 L449.22 703.81 L448.93 704.03 L448.62 704.27 L448.28 704.54 L447.91 704.84 L447.52 705.17 L447.11 705.53 L446.67 705.91 L446.22 706.33 L445.74 706.77 L445.26 707.24 L444.75 707.74 L444.24 708.26 L443.71 708.81 L443.18 709.39 L442.64 709.98 L442.1 710.6 L441.56 711.24 L441.02 711.9 L440.48 712.58 L439.95 713.27 L439.42 713.98 L438.9 714.7 L438.4 715.43 L437.9 716.17 L437.42 716.91 L436.96 717.66 L436.52 718.42 L436.1 719.17 L435.7 719.92 L435.32 720.66 L434.96 721.4 L434.64 722.12 L434.33 722.84 L434.06 723.54 L433.82 724.23 L433.6 724.89 L433.42 725.54 L433.26 726.16 L433.14 726.76 L433.04 727.33 L432.98 727.88 L432.95 728.39 L432.95 728.87 L432.99 729.31 L433.05 729.72 L433.14 730.09 L433.27 730.42 L433.42 730.71 L433.6 730.96 L433.81 731.17 L434.04 731.33 L434.3 731.45 L434.59 731.53 L434.89 731.56 L435.22 731.55 L435.57 731.49 L435.94 731.38 L436.32 731.24 L436.72 731.04 L437.14 730.8 L437.57 730.52 L438.01 730.2 L438.45 729.83 L438.91 729.43 L439.37 728.98 L439.84 728.5 L440.31 727.98 L440.78 727.42 L441.25 726.83 L441.72 726.21 L442.19 725.57 L442.65 724.89 L443.1 724.19 L443.55 723.47 L443.99 722.73 L444.42 721.97 L444.84 721.19 L445.24 720.41 L445.64 719.61 L446.02 718.81 L446.38 718 L446.73 717.19 L447.06 716.38 L447.38 715.58 L447.68 714.78 L447.96 713.99 L448.23 713.21 L448.48 712.44 L448.71 711.7 L448.92 710.97 L449.12 710.26 L449.3 709.58 L449.46 708.92 L449.61 708.28 L449.74 707.68 L449.86 707.11 L449.96 706.58 L450.05 706.07 L450.13 705.61 L450.19 705.17 L450.24 704.78 L450.29 704.43 L450.32 704.11 L450.35 703.84 L450.37 703.61 L450.38 703.41 L450.39 703.25 L450.4 703.14 L450.4 703.06 L450.4 703.01 L450.4 703 L450.4 703.02 L450.4 703.08 L450.4 703.19 L450.41 703.35 L450.42 703.56 L450.44 703.83 L450.47 704.16 L450.51 704.53 L450.55 704.97 L450.61 705.45 L450.69 705.99 L450.78 706.58 L450.88 707.23 L451 707.92 L451.15 708.66 L451.31 709.44 L451.49 710.27 L451.69 711.14 L451.91 712.05 L452.16 712.99 L452.43 713.96 L452.73 714.97 L453.04 716 L453.39 717.05 L453.75 718.12 L454.14 719.21 L454.55 720.31 L454.99 721.41 L455.45 722.53 L455.93 723.64 L456.43 724.75 L456.95 725.86 L457.5 726.95 L458.05 728.04 L458.63 729.1 L459.22 730.15 L459.82 731.17 L460.44 732.16 L461.07 733.12 L461.7 734.05 L462.34 734.94 L462.99 735.79 L463.64 736.6 L464.28 737.36 L464.93 738.08 L465.57 738.75 L466.21 739.36 L466.84 739.92 L467.45 740.42 L468.06 740.87 L468.65 741.26 L469.22 741.58 L469.77 741.85 L470.3 742.06 L470.81 742.2 L471.29 742.28 L471.74 742.3 L472.16 742.26 L472.55 742.15 L472.91 741.99 L473.23 741.76 L473.52 741.47 L473.77 741.13 L473.98 740.73 L474.14 740.27 L474.27 739.76 L474.36 739.2 L474.41 738.59 L474.41 737.93 L474.37 737.23 L474.28 736.48 L474.15 735.69 L473.98 734.87 L473.77 734.01 L473.52 733.12 L473.22 732.21 L472.88 731.26 L472.51 730.3 L472.09 729.31 L471.64 728.31 L471.15 727.3 L470.63 726.27 L470.08 725.24 L469.5 724.21 L468.89 723.18 L468.25 722.15 L467.6 721.12 L466.92 720.1 L466.22 719.1 L465.51 718.11 L464.79 717.14 L464.05 716.18 L463.31 715.25 L462.56 714.34 L461.82 713.46 L461.07 712.61 L460.33 711.79 L459.6 711 L458.88 710.24 L458.17 709.52 L457.48 708.83 L456.81 708.19 L456.15 707.58 L455.53 707.01 L454.93 706.47 L454.36 705.98 L453.82 705.53 L453.32 705.12 L452.85 704.75 L452.42 704.41 L452.03 704.12 L451.67 703.86 L451.37 703.64 L451.1 703.45 L450.88 703.3 L450.7 703.19 L450.56 703.1 L450.47 703.04 L450.42 703.01 L450.4 703 L450.42 703.01 L450.47 703.04 L450.57 703.09 L450.71 703.17 L450.91 703.26 L451.15 703.38 L451.45 703.52 L451.8 703.68 L452.2 703.86 L452.66 704.05 L453.17 704.26 L453.74 704.49 L454.35 704.72 L455.02 704.96 L455.74 705.21 L456.51 705.47 L457.33 705.73 L458.19 705.99 L459.1 706.25 L460.05 706.51 L461.05 706.77 L462.08 707.02 L463.14 707.26 L464.24 707.5 L465.36 707.72 L466.51 707.93 L467.69 708.12 L468.88 708.3 L470.09 708.46 L471.31 708.6 L472.54 708.72 L473.77 708.83 L475.01 708.91 L476.24 708.97 L477.46 709 L478.68 709.01 L479.88 709 L481.06 708.96 L482.23 708.9 L483.36 708.81 L484.47 708.7 L485.54 708.57 L486.58 708.41 L487.58 708.23 L488.53 708.02 L489.44 707.79 L490.3 707.55 L491.11 707.28 L491.87 706.99 L492.56 706.69 L493.2 706.37 L493.78 706.03 L494.29 705.68 L494.74 705.32 L495.12 704.95 L495.44 704.57 L495.68 704.19 L495.86 703.79 L495.96 703.4 L496 703Z" fill="none" stroke="#4812c4" stroke-width="1.8" stroke-linejoin="round"/>
<circle cx="486.9" cy="635.3" r="0.85" fill="#4812c4"/>
<text x="496.2" y="637.28" font-family='"Liberation Sans", sans-serif' font-size="5.5" fill="#4a4a4a" textLength="25.2" lengthAdjust="spacingAndGlyphs"><tspan font-style="italic">θ</tspan><tspan font-size="3.3" dy="1">r</tspan><tspan dy="-1"> = 150°</tspan></text>
<text x="374.2" y="644.5" font-family='"Liberation Sans", sans-serif' font-size="14" fill="#111" stroke="#111" stroke-width="0.25" font-weight="bold">o</text>
</g>
<text x="70.4" y="32.4" font-family='"Liberation Sans", sans-serif' font-size="8.7" fill="#e4575e">P<tspan font-size="5.22" dy="1.6">120</tspan></text>
<text x="115.6" y="26.2" font-family='"Liberation Sans", sans-serif' font-size="8.7" fill="#e4575e">P<tspan font-size="5.22" dy="1.6">60</tspan></text>
<text x="142" y="59.4" font-family='"Liberation Sans", sans-serif' font-size="8.7" fill="#e4575e">P<tspan font-size="5.22" dy="1.6">0</tspan></text>
<text x="423" y="38.2" font-family='"Liberation Sans", sans-serif' font-size="8.7" fill="#df3c48">P<tspan font-size="5.22" dy="1.6">120</tspan></text>
<text x="471.2" y="30.2" font-family='"Liberation Sans", sans-serif' font-size="8.7" fill="#df3c48">P<tspan font-size="5.22" dy="1.6">60</tspan></text>
<text x="492" y="62.4" font-family='"Liberation Sans", sans-serif' font-size="8.7" fill="#df3c48">P<tspan font-size="5.22" dy="1.6">0</tspan></text>
</svg>
</body>
</html>
